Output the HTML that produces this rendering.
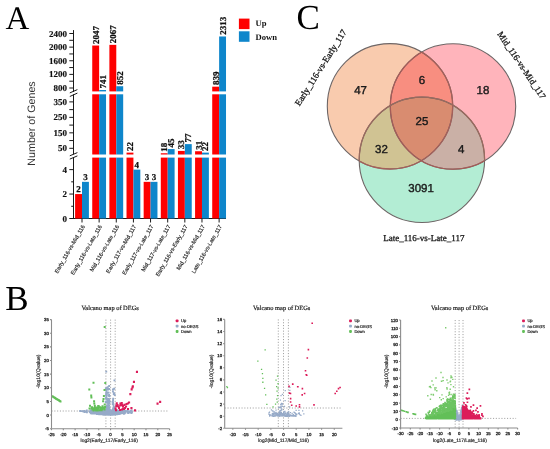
<!DOCTYPE html>
<html><head><meta charset="utf-8"><style>
html,body{margin:0;padding:0;background:#fff;}
body{width:550px;height:449px;overflow:hidden;}
svg{display:block;filter:blur(0.5px);}
text{text-rendering:geometricPrecision;}
</style></head><body>
<svg width="550" height="449" viewBox="0 0 550 449">
<rect width="550" height="449" fill="#fff"/>
<text x="5.6" y="28.6" font-family='"Liberation Serif", serif' font-size="33" fill="#000">A</text>
<g stroke="#1a1a1a" stroke-width="1" fill="none">
<line x1="73.5" y1="30.10" x2="73.5" y2="92"/>
<line x1="73.5" y1="94.3" x2="73.5" y2="154.4"/>
<line x1="73.5" y1="157.7" x2="73.5" y2="219"/>
<line x1="69.3" y1="33.50" x2="73.5" y2="33.50"/>
<line x1="69.3" y1="40.32" x2="73.5" y2="40.32"/>
<line x1="69.3" y1="47.13" x2="73.5" y2="47.13"/>
<line x1="69.3" y1="53.94" x2="73.5" y2="53.94"/>
<line x1="69.3" y1="60.75" x2="73.5" y2="60.75"/>
<line x1="69.3" y1="67.56" x2="73.5" y2="67.56"/>
<line x1="69.3" y1="74.38" x2="73.5" y2="74.38"/>
<line x1="69.3" y1="81.19" x2="73.5" y2="81.19"/>
<line x1="69.3" y1="88.00" x2="73.5" y2="88.00"/>
<line x1="69.3" y1="101.89" x2="73.5" y2="101.89"/>
<line x1="69.3" y1="109.62" x2="73.5" y2="109.62"/>
<line x1="69.3" y1="117.36" x2="73.5" y2="117.36"/>
<line x1="69.3" y1="125.10" x2="73.5" y2="125.10"/>
<line x1="69.3" y1="132.83" x2="73.5" y2="132.83"/>
<line x1="69.3" y1="140.56" x2="73.5" y2="140.56"/>
<line x1="69.3" y1="148.30" x2="73.5" y2="148.30"/>
<line x1="69.3" y1="169.62" x2="73.5" y2="169.62"/>
<line x1="71.2" y1="181.84" x2="73.5" y2="181.84"/>
<line x1="69.3" y1="194.06" x2="73.5" y2="194.06"/>
<line x1="71.2" y1="206.28" x2="73.5" y2="206.28"/>
<line x1="69.8" y1="92.9" x2="77.4" y2="89.6"/><line x1="69.8" y1="96.5" x2="77.4" y2="93.1"/>
<line x1="69.8" y1="155.8" x2="77.4" y2="152.6"/><line x1="69.8" y1="159.1" x2="77.4" y2="155.9"/>
<line x1="69.3" y1="218.5" x2="226" y2="218.5"/>
</g>
<g font-family='"Liberation Serif", serif' font-weight="bold" font-size="9" fill="#111" stroke="#111" stroke-width="0.15" text-anchor="end">
<text x="66.9" y="36.60">2400</text>
<text x="66.9" y="50.23">2000</text>
<text x="66.9" y="63.85">1600</text>
<text x="66.9" y="77.48">1200</text>
<text x="66.9" y="91.10">800</text>
<text x="66.9" y="104.99">350</text>
<text x="66.9" y="120.46">250</text>
<text x="66.9" y="135.93">150</text>
<text x="66.9" y="151.40">50</text>
<text x="66.9" y="172.72">4</text>
<text x="66.9" y="197.16">2</text>
<text x="66.9" y="221.60">0</text>
</g>
<text transform="translate(35.0,123.5) rotate(-90)" text-anchor="middle" font-family='"Liberation Sans", sans-serif' font-size="10.7" fill="#333">Number of Genes</text>
<rect x="75.10" y="194.06" width="6.9" height="24.44" fill="#fe0000"/>
<rect x="82.00" y="181.84" width="6.9" height="36.66" fill="#0e86cb"/>
<rect x="92.24" y="45.53" width="6.9" height="45.87" fill="#fe0000"/>
<rect x="92.24" y="94.30" width="6.9" height="60.20" fill="#fe0000"/>
<rect x="92.24" y="157.60" width="6.9" height="60.90" fill="#fe0000"/>
<rect x="99.14" y="90.01" width="6.9" height="1.39" fill="#0e86cb"/>
<rect x="99.14" y="94.30" width="6.9" height="60.20" fill="#0e86cb"/>
<rect x="99.14" y="157.60" width="6.9" height="60.90" fill="#0e86cb"/>
<rect x="109.38" y="44.85" width="6.9" height="46.55" fill="#fe0000"/>
<rect x="109.38" y="94.30" width="6.9" height="60.20" fill="#fe0000"/>
<rect x="109.38" y="157.60" width="6.9" height="60.90" fill="#fe0000"/>
<rect x="116.28" y="86.23" width="6.9" height="5.17" fill="#0e86cb"/>
<rect x="116.28" y="94.30" width="6.9" height="60.20" fill="#0e86cb"/>
<rect x="116.28" y="157.60" width="6.9" height="60.90" fill="#0e86cb"/>
<rect x="126.52" y="152.63" width="6.9" height="1.87" fill="#fe0000"/>
<rect x="126.52" y="157.60" width="6.9" height="60.90" fill="#fe0000"/>
<rect x="133.42" y="169.62" width="6.9" height="48.88" fill="#0e86cb"/>
<rect x="143.66" y="181.84" width="6.9" height="36.66" fill="#fe0000"/>
<rect x="150.56" y="181.84" width="6.9" height="36.66" fill="#0e86cb"/>
<rect x="160.80" y="153.25" width="6.9" height="1.25" fill="#fe0000"/>
<rect x="160.80" y="157.60" width="6.9" height="60.90" fill="#fe0000"/>
<rect x="167.70" y="149.07" width="6.9" height="5.43" fill="#0e86cb"/>
<rect x="167.70" y="157.60" width="6.9" height="60.90" fill="#0e86cb"/>
<rect x="177.94" y="150.93" width="6.9" height="3.57" fill="#fe0000"/>
<rect x="177.94" y="157.60" width="6.9" height="60.90" fill="#fe0000"/>
<rect x="184.84" y="144.12" width="6.9" height="10.38" fill="#0e86cb"/>
<rect x="184.84" y="157.60" width="6.9" height="60.90" fill="#0e86cb"/>
<rect x="195.08" y="151.24" width="6.9" height="3.26" fill="#fe0000"/>
<rect x="195.08" y="157.60" width="6.9" height="60.90" fill="#fe0000"/>
<rect x="201.98" y="152.63" width="6.9" height="1.87" fill="#0e86cb"/>
<rect x="201.98" y="157.60" width="6.9" height="60.90" fill="#0e86cb"/>
<rect x="212.22" y="86.67" width="6.9" height="4.73" fill="#fe0000"/>
<rect x="212.22" y="94.30" width="6.9" height="60.20" fill="#fe0000"/>
<rect x="212.22" y="157.60" width="6.9" height="60.90" fill="#fe0000"/>
<rect x="219.12" y="36.47" width="6.9" height="54.93" fill="#0e86cb"/>
<rect x="219.12" y="94.30" width="6.9" height="60.20" fill="#0e86cb"/>
<rect x="219.12" y="157.60" width="6.9" height="60.90" fill="#0e86cb"/>
<text x="78.55" y="192.26" text-anchor="middle" font-family='"Liberation Serif", serif' font-weight="bold" font-size="9" fill="#111" stroke="#111" stroke-width="0.25">2</text>
<text x="85.45" y="180.04" text-anchor="middle" font-family='"Liberation Serif", serif' font-weight="bold" font-size="9" fill="#111" stroke="#111" stroke-width="0.25">3</text>
<line x1="82.00" y1="218.5" x2="82.00" y2="222.5" stroke="#1a1a1a" stroke-width="1"/>
<text transform="translate(85.00,226.3) rotate(-60)" text-anchor="end" font-family='"Liberation Sans", sans-serif' font-size="5.55" fill="#222" stroke="#222" stroke-width="0.15">Early_116-vs-Mid_116</text>
<text transform="translate(98.69,43.93) rotate(-90)" font-family='"Liberation Serif", serif' font-weight="bold" font-size="9" fill="#111" stroke="#111" stroke-width="0.25">2047</text>
<text transform="translate(105.59,88.41) rotate(-90)" font-family='"Liberation Serif", serif' font-weight="bold" font-size="9" fill="#111" stroke="#111" stroke-width="0.25">741</text>
<line x1="99.14" y1="218.5" x2="99.14" y2="222.5" stroke="#1a1a1a" stroke-width="1"/>
<text transform="translate(102.14,226.3) rotate(-60)" text-anchor="end" font-family='"Liberation Sans", sans-serif' font-size="5.55" fill="#222" stroke="#222" stroke-width="0.15">Early_116-vs-Late_116</text>
<text transform="translate(115.83,43.25) rotate(-90)" font-family='"Liberation Serif", serif' font-weight="bold" font-size="9" fill="#111" stroke="#111" stroke-width="0.25">2067</text>
<text transform="translate(122.73,84.63) rotate(-90)" font-family='"Liberation Serif", serif' font-weight="bold" font-size="9" fill="#111" stroke="#111" stroke-width="0.25">852</text>
<line x1="116.28" y1="218.5" x2="116.28" y2="222.5" stroke="#1a1a1a" stroke-width="1"/>
<text transform="translate(119.28,226.3) rotate(-60)" text-anchor="end" font-family='"Liberation Sans", sans-serif' font-size="5.55" fill="#222" stroke="#222" stroke-width="0.15">Mid_116-vs-Late_116</text>
<text transform="translate(132.97,151.03) rotate(-90)" font-family='"Liberation Serif", serif' font-weight="bold" font-size="9" fill="#111" stroke="#111" stroke-width="0.25">22</text>
<text x="136.87" y="167.82" text-anchor="middle" font-family='"Liberation Serif", serif' font-weight="bold" font-size="9" fill="#111" stroke="#111" stroke-width="0.25">4</text>
<line x1="133.42" y1="218.5" x2="133.42" y2="222.5" stroke="#1a1a1a" stroke-width="1"/>
<text transform="translate(136.42,226.3) rotate(-60)" text-anchor="end" font-family='"Liberation Sans", sans-serif' font-size="5.55" fill="#222" stroke="#222" stroke-width="0.15">Early_117-vs-Mid_117</text>
<text x="147.11" y="180.04" text-anchor="middle" font-family='"Liberation Serif", serif' font-weight="bold" font-size="9" fill="#111" stroke="#111" stroke-width="0.25">3</text>
<text x="154.01" y="180.04" text-anchor="middle" font-family='"Liberation Serif", serif' font-weight="bold" font-size="9" fill="#111" stroke="#111" stroke-width="0.25">3</text>
<line x1="150.56" y1="218.5" x2="150.56" y2="222.5" stroke="#1a1a1a" stroke-width="1"/>
<text transform="translate(153.56,226.3) rotate(-60)" text-anchor="end" font-family='"Liberation Sans", sans-serif' font-size="5.55" fill="#222" stroke="#222" stroke-width="0.15">Early_117-vs-Late_117</text>
<text transform="translate(167.25,151.65) rotate(-90)" font-family='"Liberation Serif", serif' font-weight="bold" font-size="9" fill="#111" stroke="#111" stroke-width="0.25">18</text>
<text transform="translate(174.15,147.47) rotate(-90)" font-family='"Liberation Serif", serif' font-weight="bold" font-size="9" fill="#111" stroke="#111" stroke-width="0.25">45</text>
<line x1="167.70" y1="218.5" x2="167.70" y2="222.5" stroke="#1a1a1a" stroke-width="1"/>
<text transform="translate(170.70,226.3) rotate(-60)" text-anchor="end" font-family='"Liberation Sans", sans-serif' font-size="5.55" fill="#222" stroke="#222" stroke-width="0.15">Mid_117-vs-Late_117</text>
<text transform="translate(184.39,149.33) rotate(-90)" font-family='"Liberation Serif", serif' font-weight="bold" font-size="9" fill="#111" stroke="#111" stroke-width="0.25">33</text>
<text transform="translate(191.29,142.52) rotate(-90)" font-family='"Liberation Serif", serif' font-weight="bold" font-size="9" fill="#111" stroke="#111" stroke-width="0.25">77</text>
<line x1="184.84" y1="218.5" x2="184.84" y2="222.5" stroke="#1a1a1a" stroke-width="1"/>
<text transform="translate(187.84,226.3) rotate(-60)" text-anchor="end" font-family='"Liberation Sans", sans-serif' font-size="5.55" fill="#222" stroke="#222" stroke-width="0.15">Early_116-vs-Early_117</text>
<text transform="translate(201.53,149.64) rotate(-90)" font-family='"Liberation Serif", serif' font-weight="bold" font-size="9" fill="#111" stroke="#111" stroke-width="0.25">31</text>
<text transform="translate(208.43,151.03) rotate(-90)" font-family='"Liberation Serif", serif' font-weight="bold" font-size="9" fill="#111" stroke="#111" stroke-width="0.25">22</text>
<line x1="201.98" y1="218.5" x2="201.98" y2="222.5" stroke="#1a1a1a" stroke-width="1"/>
<text transform="translate(204.98,226.3) rotate(-60)" text-anchor="end" font-family='"Liberation Sans", sans-serif' font-size="5.55" fill="#222" stroke="#222" stroke-width="0.15">Mid_116-vs-Mid_117</text>
<text transform="translate(218.67,85.07) rotate(-90)" font-family='"Liberation Serif", serif' font-weight="bold" font-size="9" fill="#111" stroke="#111" stroke-width="0.25">839</text>
<text transform="translate(225.57,34.87) rotate(-90)" font-family='"Liberation Serif", serif' font-weight="bold" font-size="9" fill="#111" stroke="#111" stroke-width="0.25">2313</text>
<line x1="219.12" y1="218.5" x2="219.12" y2="222.5" stroke="#1a1a1a" stroke-width="1"/>
<text transform="translate(222.12,226.3) rotate(-60)" text-anchor="end" font-family='"Liberation Sans", sans-serif' font-size="5.55" fill="#222" stroke="#222" stroke-width="0.15">Late_116-vs-Late_117</text>
<rect x="238.9" y="18.6" width="10.6" height="10.5" fill="#fe0000"/>
<rect x="238.9" y="31.3" width="10.6" height="10.5" fill="#0e86cb"/>
<text x="255.6" y="26" font-family='"Liberation Serif", serif' font-weight="bold" font-size="8.6" fill="#111">Up</text>
<text x="255.6" y="39.6" font-family='"Liberation Serif", serif' font-weight="bold" font-size="8.6" fill="#111">Down</text>
<text x="296.6" y="28.6" font-family='"Liberation Serif", serif' font-size="35" fill="#000">C</text>
<defs><clipPath id="k1"><circle cx="390" cy="106.3" r="62.7"/></clipPath><clipPath id="k2"><circle cx="453" cy="106.5" r="62.7"/></clipPath><clipPath id="k3"><circle cx="421.9" cy="159.8" r="62.7"/></clipPath></defs>
<circle cx="390" cy="106.3" r="62.7" fill="#f9cbae" />
<circle cx="453" cy="106.5" r="62.7" fill="#ffb4bb" />
<circle cx="421.9" cy="159.8" r="62.7" fill="#b3edd4" />
<g clip-path="url(#k1)"><circle cx="453" cy="106.5" r="62.7" fill="#f88e80" /><circle cx="421.9" cy="159.8" r="62.7" fill="#d0c393" /></g>
<g clip-path="url(#k2)"><circle cx="421.9" cy="159.8" r="62.7" fill="#cab0a6" /></g>
<g clip-path="url(#k1)"><g clip-path="url(#k2)"><circle cx="421.9" cy="159.8" r="62.7" fill="#d98c70" /></g></g>
<g fill="none" stroke="#6e6666" stroke-width="1.1"><circle cx="390" cy="106.3" r="62.7" fill="none" /><circle cx="453" cy="106.5" r="62.7" fill="none" /><circle cx="421.9" cy="159.8" r="62.7" fill="none" /></g>
<defs><clipPath id="u23"><circle cx="453" cy="106.5" r="62.7"/><circle cx="421.9" cy="159.8" r="62.7"/></clipPath><clipPath id="u13"><circle cx="390" cy="106.3" r="62.7"/><circle cx="421.9" cy="159.8" r="62.7"/></clipPath><clipPath id="u12"><circle cx="390" cy="106.3" r="62.7"/><circle cx="453" cy="106.5" r="62.7"/></clipPath></defs>
<g fill="none" stroke-width="1.3">
<g clip-path="url(#u23)"><circle cx="390" cy="106.3" r="62.7" stroke="#a5605a"/></g>
<g clip-path="url(#u13)"><circle cx="453" cy="106.5" r="62.7" stroke="#a45c58"/></g>
<g clip-path="url(#u12)"><circle cx="421.9" cy="159.8" r="62.7" stroke="#9a6a5e"/></g>
</g>
<g font-family='"Liberation Sans", sans-serif' font-size="11.5" fill="#1a1a1a" stroke="#1a1a1a" stroke-width="0.4" text-anchor="middle">
<text x="360.6" y="94.4">47</text>
<text x="483" y="94.4">18</text>
<text x="422" y="83.6">6</text>
<text x="421.9" y="124.6">25</text>
<text x="381.4" y="152.7">32</text>
<text x="461.3" y="152.7">4</text>
<text x="421.1" y="191.8">3091</text>
</g>
<text transform="translate(299.5,106.5) rotate(-57.5)" font-family='"Liberation Serif", serif' font-size="9" fill="#1a1a1a" stroke="#1a1a1a" stroke-width="0.3">Early_116-vs-Early_117</text>
<text transform="translate(497,34) rotate(56)" font-family='"Liberation Serif", serif' font-size="9" fill="#1a1a1a" stroke="#1a1a1a" stroke-width="0.3">Mid_116-vs-Mid_117</text>
<text x="423.8" y="240.5" text-anchor="middle" font-family='"Liberation Serif", serif' font-size="9" fill="#1a1a1a" stroke="#1a1a1a" stroke-width="0.3">Late_116-vs-Late_117</text>
<text x="5.2" y="309.6" font-family='"Liberation Serif", serif' font-size="35" fill="#000">B</text>
<text x="110.1" y="310.0" text-anchor="middle" font-family='"Liberation Serif", serif' font-size="6.4" fill="#1a1a1a" stroke="#1a1a1a" stroke-width="0.18">Valcano map of DEGs</text>
<g stroke="#8c8c8c" stroke-width="0.8" stroke-dasharray="1.1,1.7">
<line x1="105.90" y1="319.60" x2="105.90" y2="428.70"/>
<line x1="110.60" y1="319.60" x2="110.60" y2="428.70"/>
<line x1="115.20" y1="319.60" x2="115.20" y2="428.70"/>
<line x1="51.50" y1="411.00" x2="168.50" y2="411.00"/>
</g>
<path fill="#96aac8" d="M97.4 413.0h1.9v1.9h-1.9zM112.6 411.4h1.9v1.9h-1.9zM96.4 410.0h1.9v1.9h-1.9zM108.4 411.6h1.9v1.9h-1.9zM97.5 409.6h1.9v1.9h-1.9zM96.8 410.4h1.9v1.9h-1.9zM123.6 411.7h1.9v1.9h-1.9zM118.4 409.4h1.9v1.9h-1.9zM106.3 412.3h1.9v1.9h-1.9zM104.9 409.3h1.9v1.9h-1.9zM105.4 411.7h1.9v1.9h-1.9zM114.8 410.3h1.9v1.9h-1.9zM111.3 409.4h1.9v1.9h-1.9zM99.1 412.7h1.9v1.9h-1.9zM111.4 411.6h1.9v1.9h-1.9zM101.9 412.2h1.9v1.9h-1.9zM100.4 411.2h1.9v1.9h-1.9zM103.2 413.8h1.9v1.9h-1.9zM117.1 410.6h1.9v1.9h-1.9zM96.5 410.1h1.9v1.9h-1.9zM108.2 412.8h1.9v1.9h-1.9zM112.6 411.1h1.9v1.9h-1.9zM114.4 413.5h1.9v1.9h-1.9zM101.3 412.9h1.9v1.9h-1.9zM115.6 413.1h1.9v1.9h-1.9zM109.1 411.4h1.9v1.9h-1.9zM118.5 409.5h1.9v1.9h-1.9zM107.9 412.1h1.9v1.9h-1.9zM110.4 409.7h1.9v1.9h-1.9zM101.6 410.7h1.9v1.9h-1.9zM124.6 409.7h1.9v1.9h-1.9zM105.5 410.4h1.9v1.9h-1.9zM111.7 412.9h1.9v1.9h-1.9zM111.0 410.1h1.9v1.9h-1.9zM99.4 410.0h1.9v1.9h-1.9zM105.3 412.6h1.9v1.9h-1.9zM118.3 409.7h1.9v1.9h-1.9zM119.1 410.9h1.9v1.9h-1.9zM110.8 413.7h1.9v1.9h-1.9zM116.4 412.6h1.9v1.9h-1.9zM102.5 410.2h1.9v1.9h-1.9zM127.7 410.5h1.9v1.9h-1.9zM117.4 409.7h1.9v1.9h-1.9zM98.3 413.3h1.9v1.9h-1.9zM110.7 412.8h1.9v1.9h-1.9zM116.2 410.6h1.9v1.9h-1.9zM108.0 409.7h1.9v1.9h-1.9zM112.6 411.9h1.9v1.9h-1.9zM109.6 411.0h1.9v1.9h-1.9zM121.9 410.9h1.9v1.9h-1.9zM119.6 411.5h1.9v1.9h-1.9zM106.3 413.2h1.9v1.9h-1.9zM111.3 413.4h1.9v1.9h-1.9zM114.1 412.9h1.9v1.9h-1.9zM109.1 412.7h1.9v1.9h-1.9zM115.2 413.3h1.9v1.9h-1.9zM116.7 412.9h1.9v1.9h-1.9zM131.0 411.0h1.9v1.9h-1.9zM105.1 409.4h1.9v1.9h-1.9zM111.2 413.7h1.9v1.9h-1.9zM110.1 410.4h1.9v1.9h-1.9zM123.8 412.2h1.9v1.9h-1.9zM102.5 410.0h1.9v1.9h-1.9zM104.5 412.6h1.9v1.9h-1.9zM115.3 411.7h1.9v1.9h-1.9zM111.9 413.2h1.9v1.9h-1.9zM103.2 413.4h1.9v1.9h-1.9zM104.0 410.2h1.9v1.9h-1.9zM116.5 411.1h1.9v1.9h-1.9zM109.8 409.5h1.9v1.9h-1.9zM113.1 411.8h1.9v1.9h-1.9zM117.2 409.8h1.9v1.9h-1.9zM96.1 413.1h1.9v1.9h-1.9zM124.3 411.5h1.9v1.9h-1.9zM104.5 409.9h1.9v1.9h-1.9zM97.3 409.4h1.9v1.9h-1.9zM129.8 411.4h1.9v1.9h-1.9zM111.4 413.7h1.9v1.9h-1.9zM122.4 411.0h1.9v1.9h-1.9zM110.8 412.6h1.9v1.9h-1.9zM93.8 409.5h1.9v1.9h-1.9zM94.2 412.6h1.9v1.9h-1.9zM104.6 412.6h1.9v1.9h-1.9zM104.2 413.5h1.9v1.9h-1.9zM92.9 410.5h1.9v1.9h-1.9zM101.0 413.0h1.9v1.9h-1.9zM90.3 410.7h1.9v1.9h-1.9zM113.8 411.8h1.9v1.9h-1.9zM90.7 411.4h1.9v1.9h-1.9zM99.8 411.8h1.9v1.9h-1.9zM117.5 409.6h1.9v1.9h-1.9zM89.8 412.2h1.9v1.9h-1.9zM86.0 411.4h1.9v1.9h-1.9zM97.2 411.6h1.9v1.9h-1.9zM119.0 411.0h1.9v1.9h-1.9zM111.1 412.7h1.9v1.9h-1.9zM105.7 409.4h1.9v1.9h-1.9zM100.3 410.2h1.9v1.9h-1.9zM102.6 412.4h1.9v1.9h-1.9zM95.9 412.8h1.9v1.9h-1.9zM109.3 410.4h1.9v1.9h-1.9zM117.1 412.1h1.9v1.9h-1.9zM109.6 410.2h1.9v1.9h-1.9zM119.0 411.9h1.9v1.9h-1.9zM127.1 410.7h1.9v1.9h-1.9zM115.6 412.1h1.9v1.9h-1.9zM103.7 410.2h1.9v1.9h-1.9zM93.4 412.6h1.9v1.9h-1.9zM116.3 413.0h1.9v1.9h-1.9zM99.7 410.6h1.9v1.9h-1.9zM117.4 409.8h1.9v1.9h-1.9zM91.0 412.2h1.9v1.9h-1.9zM109.5 412.5h1.9v1.9h-1.9zM116.3 410.0h1.9v1.9h-1.9zM106.7 411.3h1.9v1.9h-1.9zM108.0 411.2h1.9v1.9h-1.9zM115.6 411.9h1.9v1.9h-1.9zM100.8 412.9h1.9v1.9h-1.9zM109.4 413.8h1.9v1.9h-1.9zM105.5 409.4h1.9v1.9h-1.9zM110.2 413.3h1.9v1.9h-1.9zM123.5 411.3h1.9v1.9h-1.9zM112.9 410.6h1.9v1.9h-1.9zM109.5 409.9h1.9v1.9h-1.9zM107.2 411.3h1.9v1.9h-1.9zM126.7 410.0h1.9v1.9h-1.9zM111.8 409.9h1.9v1.9h-1.9zM121.9 410.9h1.9v1.9h-1.9zM112.9 412.1h1.9v1.9h-1.9zM99.4 413.3h1.9v1.9h-1.9zM94.8 411.8h1.9v1.9h-1.9zM112.4 410.1h1.9v1.9h-1.9zM119.3 409.3h1.9v1.9h-1.9zM94.2 409.9h1.9v1.9h-1.9zM111.7 410.5h1.9v1.9h-1.9zM100.7 411.5h1.9v1.9h-1.9zM121.2 411.6h1.9v1.9h-1.9zM109.4 412.9h1.9v1.9h-1.9zM99.6 413.1h1.9v1.9h-1.9zM127.9 411.5h1.9v1.9h-1.9zM120.5 409.7h1.9v1.9h-1.9zM96.3 412.8h1.9v1.9h-1.9zM112.9 411.0h1.9v1.9h-1.9zM91.3 412.0h1.9v1.9h-1.9zM100.9 413.3h1.9v1.9h-1.9zM95.6 410.0h1.9v1.9h-1.9zM112.2 412.6h1.9v1.9h-1.9zM114.7 412.4h1.9v1.9h-1.9zM96.7 410.1h1.9v1.9h-1.9zM130.6 412.1h1.9v1.9h-1.9zM93.4 411.2h1.9v1.9h-1.9zM111.2 413.4h1.9v1.9h-1.9zM101.0 412.9h1.9v1.9h-1.9zM106.8 411.3h1.9v1.9h-1.9zM112.3 411.8h1.9v1.9h-1.9zM110.3 409.4h1.9v1.9h-1.9zM98.1 412.5h1.9v1.9h-1.9zM124.7 409.8h1.9v1.9h-1.9zM115.7 410.7h1.9v1.9h-1.9zM110.3 409.9h1.9v1.9h-1.9zM104.0 411.6h1.9v1.9h-1.9zM106.0 412.4h1.9v1.9h-1.9zM91.1 412.5h1.9v1.9h-1.9zM85.9 409.5h1.9v1.9h-1.9zM110.1 410.3h1.9v1.9h-1.9zM101.3 412.4h1.9v1.9h-1.9zM107.7 412.2h1.9v1.9h-1.9zM90.9 411.2h1.9v1.9h-1.9zM106.4 410.7h1.9v1.9h-1.9zM95.6 412.7h1.9v1.9h-1.9zM121.5 410.0h1.9v1.9h-1.9zM123.8 411.1h1.9v1.9h-1.9zM88.9 411.1h1.9v1.9h-1.9zM112.6 411.5h1.9v1.9h-1.9zM120.3 411.6h1.9v1.9h-1.9zM113.4 411.6h1.9v1.9h-1.9zM95.2 411.4h1.9v1.9h-1.9zM119.0 411.2h1.9v1.9h-1.9zM107.8 411.7h1.9v1.9h-1.9zM105.8 411.2h1.9v1.9h-1.9zM129.8 410.1h1.9v1.9h-1.9zM103.3 411.4h1.9v1.9h-1.9zM116.1 412.7h1.9v1.9h-1.9zM116.3 413.0h1.9v1.9h-1.9zM100.8 410.1h1.9v1.9h-1.9zM110.3 412.1h1.9v1.9h-1.9zM113.5 412.7h1.9v1.9h-1.9zM106.8 409.4h1.9v1.9h-1.9zM111.4 412.4h1.9v1.9h-1.9zM115.5 410.6h1.9v1.9h-1.9zM100.9 409.7h1.9v1.9h-1.9zM119.5 412.1h1.9v1.9h-1.9zM117.2 410.3h1.9v1.9h-1.9zM117.0 410.1h1.9v1.9h-1.9zM99.1 410.8h1.9v1.9h-1.9zM107.1 411.2h1.9v1.9h-1.9zM103.5 410.2h1.9v1.9h-1.9zM108.0 412.2h1.9v1.9h-1.9zM101.5 413.0h1.9v1.9h-1.9zM100.1 411.8h1.9v1.9h-1.9zM113.3 412.6h1.9v1.9h-1.9zM103.6 412.9h1.9v1.9h-1.9zM115.8 410.6h1.9v1.9h-1.9zM104.3 413.5h1.9v1.9h-1.9zM115.8 413.0h1.9v1.9h-1.9zM113.7 412.5h1.9v1.9h-1.9zM114.3 410.4h1.9v1.9h-1.9zM123.8 410.7h1.9v1.9h-1.9zM119.3 412.4h1.9v1.9h-1.9zM115.8 412.2h1.9v1.9h-1.9zM115.9 409.3h1.9v1.9h-1.9zM113.4 413.3h1.9v1.9h-1.9zM122.8 412.8h1.9v1.9h-1.9zM117.5 412.4h1.9v1.9h-1.9zM116.5 411.4h1.9v1.9h-1.9zM106.6 409.6h1.9v1.9h-1.9zM103.4 409.7h1.9v1.9h-1.9zM120.8 411.2h1.9v1.9h-1.9zM111.9 411.9h1.9v1.9h-1.9zM112.7 410.2h1.9v1.9h-1.9zM113.9 413.0h1.9v1.9h-1.9zM130.7 409.5h1.9v1.9h-1.9zM107.7 409.5h1.9v1.9h-1.9zM119.1 412.3h1.9v1.9h-1.9zM105.9 410.8h1.9v1.9h-1.9zM97.9 411.0h1.9v1.9h-1.9zM111.4 412.0h1.9v1.9h-1.9zM123.8 412.2h1.9v1.9h-1.9zM110.3 410.1h1.9v1.9h-1.9zM94.1 410.8h1.9v1.9h-1.9zM113.5 410.1h1.9v1.9h-1.9zM114.8 409.3h1.9v1.9h-1.9zM118.9 412.8h1.9v1.9h-1.9zM113.8 413.1h1.9v1.9h-1.9zM95.0 411.6h1.9v1.9h-1.9zM98.4 411.3h1.9v1.9h-1.9zM116.3 413.4h1.9v1.9h-1.9zM111.5 413.4h1.9v1.9h-1.9zM102.1 412.5h1.9v1.9h-1.9zM112.1 411.1h1.9v1.9h-1.9zM91.9 412.4h1.9v1.9h-1.9zM119.7 412.3h1.9v1.9h-1.9zM99.0 412.4h1.9v1.9h-1.9zM96.4 409.5h1.9v1.9h-1.9zM117.5 410.7h1.9v1.9h-1.9zM107.7 410.9h1.9v1.9h-1.9zM109.3 412.2h1.9v1.9h-1.9zM104.1 413.6h1.9v1.9h-1.9zM104.2 412.3h1.9v1.9h-1.9zM101.7 411.8h1.9v1.9h-1.9zM120.9 411.3h1.9v1.9h-1.9zM99.8 412.5h1.9v1.9h-1.9zM97.5 413.2h1.9v1.9h-1.9zM122.0 412.0h1.9v1.9h-1.9zM110.9 410.4h1.9v1.9h-1.9zM106.6 410.1h1.9v1.9h-1.9zM110.8 411.0h1.9v1.9h-1.9zM114.9 413.2h1.9v1.9h-1.9zM113.2 411.7h1.9v1.9h-1.9zM84.3 410.9h1.9v1.9h-1.9zM107.8 413.8h1.9v1.9h-1.9zM97.9 409.6h1.9v1.9h-1.9zM95.9 411.6h1.9v1.9h-1.9zM109.2 413.5h1.9v1.9h-1.9zM106.2 410.0h1.9v1.9h-1.9zM103.4 411.5h1.9v1.9h-1.9zM110.1 412.1h1.9v1.9h-1.9zM130.4 410.5h1.9v1.9h-1.9zM117.3 411.4h1.9v1.9h-1.9zM101.6 410.5h1.9v1.9h-1.9zM103.8 412.3h1.9v1.9h-1.9zM101.8 412.4h1.9v1.9h-1.9zM106.2 410.6h1.9v1.9h-1.9zM116.1 409.4h1.9v1.9h-1.9zM109.7 410.0h1.9v1.9h-1.9zM109.3 413.4h1.9v1.9h-1.9zM99.6 412.4h1.9v1.9h-1.9zM117.9 413.1h1.9v1.9h-1.9zM127.5 410.6h1.9v1.9h-1.9zM118.2 411.2h1.9v1.9h-1.9zM116.0 411.5h1.9v1.9h-1.9zM107.9 413.6h1.9v1.9h-1.9zM107.2 413.8h1.9v1.9h-1.9zM98.5 412.6h1.9v1.9h-1.9zM105.3 412.1h1.9v1.9h-1.9zM106.2 411.3h1.9v1.9h-1.9zM109.9 411.7h1.9v1.9h-1.9zM112.0 409.8h1.9v1.9h-1.9zM95.8 411.0h1.9v1.9h-1.9zM114.0 410.4h1.9v1.9h-1.9zM100.4 412.6h1.9v1.9h-1.9zM104.2 411.7h1.9v1.9h-1.9zM108.7 412.6h1.9v1.9h-1.9zM109.4 413.4h1.9v1.9h-1.9zM113.7 412.7h1.9v1.9h-1.9zM102.7 410.5h1.9v1.9h-1.9zM102.7 412.3h1.9v1.9h-1.9zM97.4 411.8h1.9v1.9h-1.9zM104.0 412.7h1.9v1.9h-1.9zM111.7 413.8h1.9v1.9h-1.9zM115.7 413.2h1.9v1.9h-1.9zM111.0 409.5h1.9v1.9h-1.9zM107.2 410.5h1.9v1.9h-1.9zM97.2 409.7h1.9v1.9h-1.9zM115.1 411.6h1.9v1.9h-1.9zM112.7 412.3h1.9v1.9h-1.9zM110.8 411.8h1.9v1.9h-1.9zM102.8 411.4h1.9v1.9h-1.9zM102.3 410.2h1.9v1.9h-1.9zM100.3 412.8h1.9v1.9h-1.9zM122.1 409.5h1.9v1.9h-1.9zM121.7 411.6h1.9v1.9h-1.9zM120.9 412.2h1.9v1.9h-1.9zM111.3 410.4h1.9v1.9h-1.9zM118.8 412.5h1.9v1.9h-1.9zM99.6 413.4h1.9v1.9h-1.9zM119.2 410.5h1.9v1.9h-1.9zM94.0 412.7h1.9v1.9h-1.9zM104.3 411.2h1.9v1.9h-1.9zM106.1 413.3h1.9v1.9h-1.9zM112.2 409.6h1.9v1.9h-1.9zM119.7 411.1h1.9v1.9h-1.9zM115.2 412.2h1.9v1.9h-1.9zM104.1 409.6h1.9v1.9h-1.9zM124.7 410.0h1.9v1.9h-1.9zM107.0 410.6h1.9v1.9h-1.9zM105.7 412.6h1.9v1.9h-1.9zM106.4 409.9h1.9v1.9h-1.9zM101.8 410.8h1.9v1.9h-1.9zM107.7 409.8h1.9v1.9h-1.9zM100.1 412.3h1.9v1.9h-1.9zM89.8 412.4h1.9v1.9h-1.9zM100.1 413.1h1.9v1.9h-1.9zM93.2 410.4h1.9v1.9h-1.9zM115.6 410.6h1.9v1.9h-1.9zM91.1 412.3h1.9v1.9h-1.9zM122.1 410.2h1.9v1.9h-1.9zM103.2 410.9h1.9v1.9h-1.9zM116.0 410.9h1.9v1.9h-1.9zM104.3 411.8h1.9v1.9h-1.9zM113.1 412.8h1.9v1.9h-1.9zM91.6 411.2h1.9v1.9h-1.9zM104.5 410.1h1.9v1.9h-1.9zM110.2 410.5h1.9v1.9h-1.9zM89.5 409.3h1.9v1.9h-1.9zM97.2 411.5h1.9v1.9h-1.9zM107.9 413.7h1.9v1.9h-1.9zM99.1 409.5h1.9v1.9h-1.9zM95.1 411.3h1.9v1.9h-1.9zM110.0 409.6h1.9v1.9h-1.9zM105.2 412.6h1.9v1.9h-1.9zM112.3 412.2h1.9v1.9h-1.9zM106.7 409.9h1.9v1.9h-1.9zM108.7 410.4h1.9v1.9h-1.9zM95.3 410.1h1.9v1.9h-1.9zM110.2 412.8h1.9v1.9h-1.9zM97.6 410.8h1.9v1.9h-1.9zM96.0 411.9h1.9v1.9h-1.9zM130.3 410.7h1.9v1.9h-1.9zM94.3 411.9h1.9v1.9h-1.9zM105.5 413.5h1.9v1.9h-1.9zM94.0 411.7h1.9v1.9h-1.9zM118.5 412.7h1.9v1.9h-1.9zM115.2 413.1h1.9v1.9h-1.9zM92.2 412.6h1.9v1.9h-1.9zM101.7 412.4h1.9v1.9h-1.9zM100.1 412.7h1.9v1.9h-1.9zM100.3 409.9h1.9v1.9h-1.9zM113.7 412.5h1.9v1.9h-1.9zM118.3 409.9h1.9v1.9h-1.9zM108.5 410.2h1.9v1.9h-1.9zM102.0 413.5h1.9v1.9h-1.9zM112.6 409.5h1.9v1.9h-1.9zM107.4 412.2h1.9v1.9h-1.9zM113.4 412.7h1.9v1.9h-1.9zM110.5 411.4h1.9v1.9h-1.9zM112.1 411.9h1.9v1.9h-1.9zM111.2 409.7h1.9v1.9h-1.9zM107.7 410.1h1.9v1.9h-1.9zM110.5 412.5h1.9v1.9h-1.9zM115.9 411.8h1.9v1.9h-1.9zM110.0 410.5h1.9v1.9h-1.9zM115.0 410.0h1.9v1.9h-1.9zM109.4 411.8h1.9v1.9h-1.9zM100.8 412.8h1.9v1.9h-1.9zM101.7 413.1h1.9v1.9h-1.9zM110.0 413.5h1.9v1.9h-1.9zM102.5 413.5h1.9v1.9h-1.9zM119.1 411.2h1.9v1.9h-1.9zM109.6 413.6h1.9v1.9h-1.9zM112.0 412.9h1.9v1.9h-1.9zM100.3 411.4h1.9v1.9h-1.9zM116.7 410.4h1.9v1.9h-1.9zM122.9 410.1h1.9v1.9h-1.9zM108.2 409.3h1.9v1.9h-1.9zM100.0 412.6h1.9v1.9h-1.9zM110.6 412.5h1.9v1.9h-1.9zM104.7 410.0h1.9v1.9h-1.9zM105.6 410.7h1.9v1.9h-1.9zM107.9 411.6h1.9v1.9h-1.9zM128.2 411.3h1.9v1.9h-1.9zM116.5 411.5h1.9v1.9h-1.9zM108.7 409.9h1.9v1.9h-1.9zM109.1 413.0h1.9v1.9h-1.9zM108.6 413.1h1.9v1.9h-1.9zM110.8 410.5h1.9v1.9h-1.9zM105.5 412.5h1.9v1.9h-1.9zM118.0 411.2h1.9v1.9h-1.9zM115.3 413.4h1.9v1.9h-1.9zM93.0 410.3h1.9v1.9h-1.9zM99.3 412.5h1.9v1.9h-1.9zM90.7 409.6h1.9v1.9h-1.9zM119.6 412.5h1.9v1.9h-1.9zM112.1 411.7h1.9v1.9h-1.9zM120.5 409.9h1.9v1.9h-1.9zM113.1 410.7h1.9v1.9h-1.9zM101.9 409.6h1.9v1.9h-1.9zM105.4 412.5h1.9v1.9h-1.9zM119.1 410.7h1.9v1.9h-1.9zM107.3 411.1h1.9v1.9h-1.9zM104.9 411.4h1.9v1.9h-1.9zM126.5 411.4h1.9v1.9h-1.9zM105.4 409.3h1.9v1.9h-1.9zM98.3 410.2h1.9v1.9h-1.9zM119.5 411.5h1.9v1.9h-1.9zM107.7 413.8h1.9v1.9h-1.9zM109.4 412.9h1.9v1.9h-1.9zM112.6 410.6h1.9v1.9h-1.9zM121.7 410.7h1.9v1.9h-1.9zM101.3 410.7h1.9v1.9h-1.9zM107.1 411.1h1.9v1.9h-1.9zM105.4 410.2h1.9v1.9h-1.9zM102.7 412.5h1.9v1.9h-1.9zM98.1 411.5h1.9v1.9h-1.9zM129.1 411.5h1.9v1.9h-1.9zM100.3 409.6h1.9v1.9h-1.9zM124.6 409.7h1.9v1.9h-1.9zM120.9 411.9h1.9v1.9h-1.9zM117.0 410.0h1.9v1.9h-1.9zM94.3 411.5h1.9v1.9h-1.9zM119.5 409.6h1.9v1.9h-1.9zM109.9 409.8h1.9v1.9h-1.9zM114.5 411.0h1.9v1.9h-1.9zM128.2 410.6h1.9v1.9h-1.9zM118.5 411.3h1.9v1.9h-1.9zM99.3 412.7h1.9v1.9h-1.9zM96.1 410.7h1.9v1.9h-1.9zM104.3 409.3h1.9v1.9h-1.9zM117.6 410.9h1.9v1.9h-1.9zM100.7 412.6h1.9v1.9h-1.9zM83.5 411.1h1.9v1.9h-1.9zM107.6 410.8h1.9v1.9h-1.9zM107.9 410.8h1.9v1.9h-1.9zM106.4 411.0h1.9v1.9h-1.9zM105.4 411.6h1.9v1.9h-1.9zM113.3 412.0h1.9v1.9h-1.9zM91.8 409.8h1.9v1.9h-1.9zM111.2 411.8h1.9v1.9h-1.9zM88.6 410.4h1.9v1.9h-1.9zM103.8 412.5h1.9v1.9h-1.9zM109.0 413.8h1.9v1.9h-1.9zM94.1 412.3h1.9v1.9h-1.9zM107.5 410.2h1.9v1.9h-1.9zM121.6 410.0h1.9v1.9h-1.9zM104.5 409.6h1.9v1.9h-1.9zM109.5 412.5h1.9v1.9h-1.9zM121.5 410.5h1.9v1.9h-1.9zM117.2 411.2h1.9v1.9h-1.9zM105.2 409.8h1.9v1.9h-1.9zM114.1 413.2h1.9v1.9h-1.9zM108.2 411.7h1.9v1.9h-1.9zM97.7 410.3h1.9v1.9h-1.9zM104.5 413.4h1.9v1.9h-1.9zM126.6 411.2h1.9v1.9h-1.9zM108.2 409.8h1.9v1.9h-1.9zM112.6 413.3h1.9v1.9h-1.9zM102.1 410.3h1.9v1.9h-1.9zM93.0 409.9h1.9v1.9h-1.9zM101.1 411.6h1.9v1.9h-1.9zM111.2 410.1h1.9v1.9h-1.9zM110.2 413.8h1.9v1.9h-1.9zM122.0 410.4h1.9v1.9h-1.9zM103.9 412.3h1.9v1.9h-1.9zM108.3 412.0h1.9v1.9h-1.9zM99.8 412.6h1.9v1.9h-1.9zM115.4 411.3h1.9v1.9h-1.9zM109.7 409.9h1.9v1.9h-1.9zM99.7 410.0h1.9v1.9h-1.9zM117.1 411.4h1.9v1.9h-1.9zM108.0 410.8h1.9v1.9h-1.9zM121.3 411.7h1.9v1.9h-1.9zM122.8 409.8h1.9v1.9h-1.9zM112.4 413.6h1.9v1.9h-1.9zM100.4 411.0h1.9v1.9h-1.9zM102.8 412.0h1.9v1.9h-1.9zM103.1 412.6h1.9v1.9h-1.9zM94.2 411.1h1.9v1.9h-1.9zM127.2 412.0h1.9v1.9h-1.9zM108.4 411.1h1.9v1.9h-1.9zM97.8 412.9h1.9v1.9h-1.9zM114.0 411.6h1.9v1.9h-1.9zM99.1 413.0h1.9v1.9h-1.9zM107.5 410.7h1.9v1.9h-1.9zM123.4 412.5h1.9v1.9h-1.9zM114.2 412.5h1.9v1.9h-1.9zM96.1 410.4h1.9v1.9h-1.9zM99.9 411.8h1.9v1.9h-1.9zM113.5 411.2h1.9v1.9h-1.9zM111.1 411.6h1.9v1.9h-1.9zM106.6 412.4h1.9v1.9h-1.9zM110.9 411.7h1.9v1.9h-1.9zM79.2 410.1h1.9v1.9h-1.9zM80.5 410.2h1.9v1.9h-1.9zM82.0 410.3h1.9v1.9h-1.9zM83.5 410.1h1.9v1.9h-1.9zM104.9 387.6h1.9v1.9h-1.9zM108.5 395.4h1.9v1.9h-1.9zM108.1 402.1h1.9v1.9h-1.9zM107.9 406.5h1.9v1.9h-1.9zM107.6 398.3h1.9v1.9h-1.9zM108.3 408.6h1.9v1.9h-1.9zM107.8 408.2h1.9v1.9h-1.9zM106.8 386.2h1.9v1.9h-1.9zM104.7 406.1h1.9v1.9h-1.9zM105.8 404.4h1.9v1.9h-1.9zM104.9 388.1h1.9v1.9h-1.9zM107.9 402.7h1.9v1.9h-1.9zM106.1 397.7h1.9v1.9h-1.9zM104.8 409.4h1.9v1.9h-1.9zM108.2 404.7h1.9v1.9h-1.9zM106.6 386.8h1.9v1.9h-1.9zM108.6 400.8h1.9v1.9h-1.9zM105.5 405.0h1.9v1.9h-1.9zM108.3 388.1h1.9v1.9h-1.9zM105.4 390.0h1.9v1.9h-1.9zM106.1 400.8h1.9v1.9h-1.9zM105.3 388.7h1.9v1.9h-1.9zM108.6 406.9h1.9v1.9h-1.9zM107.2 407.1h1.9v1.9h-1.9zM108.2 409.2h1.9v1.9h-1.9zM105.1 393.6h1.9v1.9h-1.9zM105.9 388.0h1.9v1.9h-1.9zM108.1 394.0h1.9v1.9h-1.9zM105.2 394.5h1.9v1.9h-1.9zM108.4 401.5h1.9v1.9h-1.9zM105.0 406.5h1.9v1.9h-1.9zM105.9 394.1h1.9v1.9h-1.9zM105.4 407.3h1.9v1.9h-1.9zM105.6 395.4h1.9v1.9h-1.9zM107.8 403.3h1.9v1.9h-1.9zM107.3 388.5h1.9v1.9h-1.9zM107.0 406.4h1.9v1.9h-1.9zM105.9 387.1h1.9v1.9h-1.9zM107.3 405.4h1.9v1.9h-1.9zM107.2 408.7h1.9v1.9h-1.9zM108.6 401.6h1.9v1.9h-1.9zM106.8 399.2h1.9v1.9h-1.9zM104.8 397.3h1.9v1.9h-1.9zM105.8 405.9h1.9v1.9h-1.9zM107.9 408.7h1.9v1.9h-1.9zM105.8 392.7h1.9v1.9h-1.9zM105.6 405.4h1.9v1.9h-1.9zM106.8 407.2h1.9v1.9h-1.9zM108.2 385.0h1.9v1.9h-1.9zM104.8 401.1h1.9v1.9h-1.9zM107.7 403.0h1.9v1.9h-1.9zM108.4 400.1h1.9v1.9h-1.9zM105.4 398.6h1.9v1.9h-1.9zM107.2 403.6h1.9v1.9h-1.9zM107.3 391.8h1.9v1.9h-1.9zM106.7 399.9h1.9v1.9h-1.9zM108.0 394.9h1.9v1.9h-1.9zM106.7 386.2h1.9v1.9h-1.9zM105.3 391.9h1.9v1.9h-1.9zM105.3 397.1h1.9v1.9h-1.9zM105.6 401.6h1.9v1.9h-1.9zM107.7 391.7h1.9v1.9h-1.9zM107.8 406.2h1.9v1.9h-1.9zM106.6 406.5h1.9v1.9h-1.9zM107.0 400.1h1.9v1.9h-1.9zM104.8 397.4h1.9v1.9h-1.9zM107.5 398.1h1.9v1.9h-1.9zM108.1 407.3h1.9v1.9h-1.9zM105.3 409.5h1.9v1.9h-1.9zM106.6 401.8h1.9v1.9h-1.9zM106.4 405.7h1.9v1.9h-1.9zM107.8 408.9h1.9v1.9h-1.9zM108.3 398.2h1.9v1.9h-1.9zM106.8 391.5h1.9v1.9h-1.9zM105.6 407.9h1.9v1.9h-1.9zM112.2 409.2h1.9v1.9h-1.9zM112.2 397.7h1.9v1.9h-1.9zM112.7 405.6h1.9v1.9h-1.9zM112.9 408.6h1.9v1.9h-1.9zM113.4 407.3h1.9v1.9h-1.9zM112.1 407.5h1.9v1.9h-1.9zM113.1 392.3h1.9v1.9h-1.9zM113.3 409.0h1.9v1.9h-1.9zM112.4 403.6h1.9v1.9h-1.9zM112.0 388.4h1.9v1.9h-1.9zM111.6 400.9h1.9v1.9h-1.9zM113.3 387.9h1.9v1.9h-1.9zM111.8 401.6h1.9v1.9h-1.9zM113.2 409.2h1.9v1.9h-1.9zM112.0 390.6h1.9v1.9h-1.9zM111.8 403.0h1.9v1.9h-1.9zM112.2 402.3h1.9v1.9h-1.9zM111.6 409.3h1.9v1.9h-1.9zM113.8 394.1h1.9v1.9h-1.9zM113.2 406.3h1.9v1.9h-1.9zM112.1 399.4h1.9v1.9h-1.9zM112.0 401.5h1.9v1.9h-1.9zM105.3 370.7h1.9v1.9h-1.9zM113.5 379.4h1.9v1.9h-1.9zM113.2 387.7h1.9v1.9h-1.9zM112.8 393.2h1.9v1.9h-1.9z"/>
<path fill="#62bf58" d="M92.5 381.7h2.0v2.0h-2.0zM88.3 388.4h2.0v2.0h-2.0zM90.2 394.6h2.0v2.0h-2.0zM90.4 396.5h2.0v2.0h-2.0zM93.1 400.3h2.0v2.0h-2.0zM93.3 402.5h2.0v2.0h-2.0zM89.0 404.7h2.0v2.0h-2.0zM88.5 407.5h2.0v2.0h-2.0zM104.3 382.1h2.0v2.0h-2.0zM102.9 395.1h2.0v2.0h-2.0zM102.1 400.3h2.0v2.0h-2.0zM93.8 404.8h2.0v2.0h-2.0zM103.7 325.9h2.0v2.0h-2.0zM103.5 389.0h2.0v2.0h-2.0zM102.5 398.0h2.0v2.0h-2.0zM103.6 407.4h2.0v2.0h-2.0zM95.2 409.5h2.0v2.0h-2.0zM99.1 406.3h2.0v2.0h-2.0zM96.1 408.4h2.0v2.0h-2.0zM91.2 407.4h2.0v2.0h-2.0zM100.3 409.1h2.0v2.0h-2.0zM98.8 409.2h2.0v2.0h-2.0zM97.0 407.5h2.0v2.0h-2.0zM102.4 407.5h2.0v2.0h-2.0zM101.5 406.9h2.0v2.0h-2.0zM95.3 406.8h2.0v2.0h-2.0zM98.2 406.8h2.0v2.0h-2.0zM93.3 406.9h2.0v2.0h-2.0zM97.0 407.2h2.0v2.0h-2.0zM96.7 409.6h2.0v2.0h-2.0zM100.0 409.1h2.0v2.0h-2.0zM93.3 407.5h2.0v2.0h-2.0zM91.4 408.6h2.0v2.0h-2.0zM95.6 407.1h2.0v2.0h-2.0zM90.7 406.8h2.0v2.0h-2.0zM94.1 407.5h2.0v2.0h-2.0zM103.5 408.6h2.0v2.0h-2.0zM94.2 407.4h2.0v2.0h-2.0zM92.6 409.4h2.0v2.0h-2.0zM95.5 408.8h2.0v2.0h-2.0zM100.7 409.3h2.0v2.0h-2.0zM90.7 407.3h2.0v2.0h-2.0zM95.9 406.5h2.0v2.0h-2.0zM102.9 407.3h2.0v2.0h-2.0zM101.3 408.0h2.0v2.0h-2.0zM91.2 407.5h2.0v2.0h-2.0zM93.8 406.3h2.0v2.0h-2.0zM92.5 408.2h2.0v2.0h-2.0zM90.9 407.3h2.0v2.0h-2.0zM96.4 408.0h2.0v2.0h-2.0zM92.3 408.6h2.0v2.0h-2.0zM94.1 408.7h2.0v2.0h-2.0zM99.9 406.7h2.0v2.0h-2.0zM93.3 407.2h2.0v2.0h-2.0zM100.5 407.6h2.0v2.0h-2.0zM95.9 409.1h2.0v2.0h-2.0zM93.6 407.2h2.0v2.0h-2.0zM95.3 406.9h2.0v2.0h-2.0zM91.0 406.3h2.0v2.0h-2.0zM99.4 408.1h2.0v2.0h-2.0zM102.7 406.4h2.0v2.0h-2.0zM97.8 405.2h2.0v2.0h-2.0zM103.7 403.4h2.0v2.0h-2.0zM101.5 405.2h2.0v2.0h-2.0zM104.1 406.0h2.0v2.0h-2.0zM97.2 405.0h2.0v2.0h-2.0zM51.4 395.3h2.0v2.0h-2.0zM52.1 395.7h2.0v2.0h-2.0zM52.8 396.2h2.0v2.0h-2.0zM53.4 396.6h2.0v2.0h-2.0zM54.1 397.0h2.0v2.0h-2.0zM54.8 397.4h2.0v2.0h-2.0zM55.4 397.9h2.0v2.0h-2.0zM56.1 398.3h2.0v2.0h-2.0zM56.8 398.7h2.0v2.0h-2.0zM57.5 399.1h2.0v2.0h-2.0zM58.1 399.6h2.0v2.0h-2.0zM58.8 400.0h2.0v2.0h-2.0zM59.5 400.4h2.0v2.0h-2.0z"/>
<path fill="#dc1c5a" d="M135.9 370.8h2.1v2.1h-2.1zM132.9 380.8h2.1v2.1h-2.1zM131.8 385.3h2.1v2.1h-2.1zM131.4 386.4h2.1v2.1h-2.1zM130.6 388.3h2.1v2.1h-2.1zM129.3 393.1h2.1v2.1h-2.1zM130.4 407.1h2.1v2.1h-2.1zM134.0 409.3h2.1v2.1h-2.1zM156.5 402.6h2.1v2.1h-2.1zM159.1 400.8h2.1v2.1h-2.1zM115.7 402.2h2.1v2.1h-2.1zM116.5 403.9h2.1v2.1h-2.1zM120.7 401.9h2.1v2.1h-2.1zM122.0 404.9h2.1v2.1h-2.1zM125.5 402.9h2.1v2.1h-2.1zM126.8 402.4h2.1v2.1h-2.1zM125.0 405.4h2.1v2.1h-2.1zM123.0 407.9h2.1v2.1h-2.1zM118.0 406.9h2.1v2.1h-2.1zM114.5 407.4h2.1v2.1h-2.1zM119.0 408.9h2.1v2.1h-2.1zM127.0 407.9h2.1v2.1h-2.1zM128.0 401.4h2.1v2.1h-2.1zM117.5 405.4h2.1v2.1h-2.1zM124.0 406.9h2.1v2.1h-2.1zM121.0 408.4h2.1v2.1h-2.1zM115.0 409.2h2.1v2.1h-2.1zM115.2 405.2h2.1v2.1h-2.1zM119.4 402.4h2.1v2.1h-2.1zM119.3 404.4h2.1v2.1h-2.1zM120.9 404.1h2.1v2.1h-2.1zM116.2 405.0h2.1v2.1h-2.1zM120.6 403.2h2.1v2.1h-2.1zM123.3 403.8h2.1v2.1h-2.1zM115.3 404.5h2.1v2.1h-2.1zM119.9 403.1h2.1v2.1h-2.1zM122.1 407.3h2.1v2.1h-2.1z"/>
<g stroke="#8c8c8c" stroke-width="1.1" fill="none">
<line x1="51.50" y1="319.60" x2="51.50" y2="428.70"/>
<line x1="51.50" y1="428.70" x2="169.60" y2="428.70"/>
<line x1="50.00" y1="428.70" x2="51.50" y2="428.70"/>
<line x1="50.00" y1="415.06" x2="51.50" y2="415.06"/>
<line x1="50.00" y1="401.43" x2="51.50" y2="401.43"/>
<line x1="50.00" y1="387.79" x2="51.50" y2="387.79"/>
<line x1="50.00" y1="374.15" x2="51.50" y2="374.15"/>
<line x1="50.00" y1="360.51" x2="51.50" y2="360.51"/>
<line x1="50.00" y1="346.88" x2="51.50" y2="346.88"/>
<line x1="50.00" y1="333.24" x2="51.50" y2="333.24"/>
<line x1="50.00" y1="319.60" x2="51.50" y2="319.60"/>
<line x1="51.50" y1="428.70" x2="51.50" y2="430.20"/>
<line x1="63.31" y1="428.70" x2="63.31" y2="430.20"/>
<line x1="75.12" y1="428.70" x2="75.12" y2="430.20"/>
<line x1="86.93" y1="428.70" x2="86.93" y2="430.20"/>
<line x1="98.74" y1="428.70" x2="98.74" y2="430.20"/>
<line x1="110.55" y1="428.70" x2="110.55" y2="430.20"/>
<line x1="122.36" y1="428.70" x2="122.36" y2="430.20"/>
<line x1="134.17" y1="428.70" x2="134.17" y2="430.20"/>
<line x1="145.98" y1="428.70" x2="145.98" y2="430.20"/>
<line x1="157.79" y1="428.70" x2="157.79" y2="430.20"/>
<line x1="169.60" y1="428.70" x2="169.60" y2="430.20"/>
</g>
<g font-family='"Liberation Sans", sans-serif' font-size="4.3" fill="#2a2a2a" stroke="#2a2a2a" stroke-width="0.3">
<text x="48.90" y="430.25" text-anchor="end">-5</text>
<text x="48.90" y="416.61" text-anchor="end">0</text>
<text x="48.90" y="402.98" text-anchor="end">5</text>
<text x="48.90" y="389.34" text-anchor="end">10</text>
<text x="48.90" y="375.70" text-anchor="end">15</text>
<text x="48.90" y="362.06" text-anchor="end">20</text>
<text x="48.90" y="348.43" text-anchor="end">25</text>
<text x="48.90" y="334.79" text-anchor="end">30</text>
<text x="48.90" y="321.15" text-anchor="end">35</text>
<text x="51.50" y="435.90" text-anchor="middle">-25</text>
<text x="63.31" y="435.90" text-anchor="middle">-20</text>
<text x="75.12" y="435.90" text-anchor="middle">-15</text>
<text x="86.93" y="435.90" text-anchor="middle">-10</text>
<text x="98.74" y="435.90" text-anchor="middle">-5</text>
<text x="110.55" y="435.90" text-anchor="middle">0</text>
<text x="122.36" y="435.90" text-anchor="middle">5</text>
<text x="134.17" y="435.90" text-anchor="middle">10</text>
<text x="145.98" y="435.90" text-anchor="middle">15</text>
<text x="157.79" y="435.90" text-anchor="middle">20</text>
<text x="169.60" y="435.90" text-anchor="middle">25</text>
</g>
<text x="109.2" y="442.30" text-anchor="middle" font-family='"Liberation Sans", sans-serif' font-size="4.9" fill="#2a2a2a" stroke="#2a2a2a" stroke-width="0.2">log2(Early_117/Early_116)</text>
<text transform="translate(39.6,371.3) rotate(-90)" text-anchor="middle" font-family='"Liberation Sans", sans-serif' font-size="5.1" fill="#2a2a2a" stroke="#2a2a2a" stroke-width="0.2">-log10(Qvalue)</text>
<rect x="175.70" y="319.50" width="2.8" height="2.8" rx="0.8" fill="#dc1c5a"/>
<text x="181.00" y="322.40" font-family='"Liberation Sans", sans-serif' font-size="4.1" fill="#2a2a2a" stroke="#2a2a2a" stroke-width="0.2">Up</text>
<rect x="175.70" y="324.80" width="2.8" height="2.8" rx="0.8" fill="#96aac8"/>
<text x="181.00" y="327.70" font-family='"Liberation Sans", sans-serif' font-size="4.1" fill="#2a2a2a" stroke="#2a2a2a" stroke-width="0.2">no-DEGS</text>
<rect x="175.70" y="330.10" width="2.8" height="2.8" rx="0.8" fill="#62bf58"/>
<text x="181.00" y="333.00" font-family='"Liberation Sans", sans-serif' font-size="4.1" fill="#2a2a2a" stroke="#2a2a2a" stroke-width="0.2">Down</text>
<text x="281.6" y="310.0" text-anchor="middle" font-family='"Liberation Serif", serif' font-size="6.4" fill="#1a1a1a" stroke="#1a1a1a" stroke-width="0.18">Valcano map of DEGs</text>
<g stroke="#8c8c8c" stroke-width="0.8" stroke-dasharray="1.1,1.7">
<line x1="278.30" y1="319.40" x2="278.30" y2="428.30"/>
<line x1="283.50" y1="319.40" x2="283.50" y2="428.30"/>
<line x1="288.40" y1="319.40" x2="288.40" y2="428.30"/>
<line x1="224.70" y1="408.00" x2="341.00" y2="408.00"/>
</g>
<path fill="#96aac8" d="M271.6 414.5h1.25v1.25h-1.25zM291.3 415.4h1.25v1.25h-1.25zM281.5 415.1h1.25v1.25h-1.25zM281.2 415.3h1.25v1.25h-1.25zM272.8 415.7h1.25v1.25h-1.25zM276.4 415.3h1.25v1.25h-1.25zM283.3 415.2h1.25v1.25h-1.25zM273.7 411.3h1.25v1.25h-1.25zM277.7 415.0h1.25v1.25h-1.25zM280.8 414.3h1.25v1.25h-1.25zM272.5 415.1h1.25v1.25h-1.25zM290.7 415.1h1.25v1.25h-1.25zM274.6 415.3h1.25v1.25h-1.25zM272.2 413.8h1.25v1.25h-1.25zM277.7 414.0h1.25v1.25h-1.25zM286.6 413.2h1.25v1.25h-1.25zM268.9 411.6h1.25v1.25h-1.25zM295.2 414.4h1.25v1.25h-1.25zM284.4 413.5h1.25v1.25h-1.25zM283.1 411.2h1.25v1.25h-1.25zM300.3 414.8h1.25v1.25h-1.25zM287.6 415.2h1.25v1.25h-1.25zM295.3 415.8h1.25v1.25h-1.25zM283.7 413.3h1.25v1.25h-1.25zM281.2 415.6h1.25v1.25h-1.25zM292.7 413.9h1.25v1.25h-1.25zM275.2 413.4h1.25v1.25h-1.25zM276.1 412.4h1.25v1.25h-1.25zM279.7 413.7h1.25v1.25h-1.25zM288.6 414.3h1.25v1.25h-1.25zM280.8 411.9h1.25v1.25h-1.25zM275.4 409.6h1.25v1.25h-1.25zM285.5 414.4h1.25v1.25h-1.25zM276.7 413.7h1.25v1.25h-1.25zM276.3 414.8h1.25v1.25h-1.25zM280.4 411.6h1.25v1.25h-1.25zM277.6 415.4h1.25v1.25h-1.25zM283.4 413.5h1.25v1.25h-1.25zM287.6 413.0h1.25v1.25h-1.25zM285.4 415.1h1.25v1.25h-1.25zM286.7 415.3h1.25v1.25h-1.25zM282.3 414.6h1.25v1.25h-1.25zM270.2 414.4h1.25v1.25h-1.25zM278.6 415.6h1.25v1.25h-1.25zM294.2 411.9h1.25v1.25h-1.25zM289.2 415.1h1.25v1.25h-1.25zM269.1 415.6h1.25v1.25h-1.25zM273.5 413.2h1.25v1.25h-1.25zM283.2 411.7h1.25v1.25h-1.25zM280.0 413.7h1.25v1.25h-1.25zM284.3 410.8h1.25v1.25h-1.25zM288.3 412.8h1.25v1.25h-1.25zM272.4 413.8h1.25v1.25h-1.25zM272.6 412.4h1.25v1.25h-1.25zM284.7 414.5h1.25v1.25h-1.25zM274.9 413.1h1.25v1.25h-1.25zM284.0 414.1h1.25v1.25h-1.25zM294.0 415.5h1.25v1.25h-1.25zM303.2 413.3h1.25v1.25h-1.25zM291.5 412.8h1.25v1.25h-1.25zM273.5 414.0h1.25v1.25h-1.25zM268.5 412.1h1.25v1.25h-1.25zM285.9 415.7h1.25v1.25h-1.25zM282.5 414.5h1.25v1.25h-1.25zM289.7 415.2h1.25v1.25h-1.25zM280.4 409.7h1.25v1.25h-1.25zM282.5 415.2h1.25v1.25h-1.25zM274.5 415.0h1.25v1.25h-1.25zM278.6 414.2h1.25v1.25h-1.25zM288.1 411.1h1.25v1.25h-1.25zM281.7 413.2h1.25v1.25h-1.25zM273.3 412.8h1.25v1.25h-1.25zM291.3 415.5h1.25v1.25h-1.25zM279.9 412.7h1.25v1.25h-1.25zM284.8 414.4h1.25v1.25h-1.25zM285.1 414.7h1.25v1.25h-1.25zM288.9 415.0h1.25v1.25h-1.25zM279.3 415.7h1.25v1.25h-1.25zM282.7 415.3h1.25v1.25h-1.25zM279.3 415.2h1.25v1.25h-1.25zM278.9 414.3h1.25v1.25h-1.25zM284.7 412.8h1.25v1.25h-1.25zM279.2 414.3h1.25v1.25h-1.25zM286.1 415.5h1.25v1.25h-1.25zM288.8 414.4h1.25v1.25h-1.25zM287.8 415.0h1.25v1.25h-1.25zM286.2 414.2h1.25v1.25h-1.25zM298.7 413.1h1.25v1.25h-1.25zM284.2 414.9h1.25v1.25h-1.25zM275.9 412.7h1.25v1.25h-1.25zM287.0 413.8h1.25v1.25h-1.25zM274.1 414.7h1.25v1.25h-1.25zM302.0 410.3h1.25v1.25h-1.25zM269.2 414.1h1.25v1.25h-1.25zM282.6 414.2h1.25v1.25h-1.25zM288.2 415.5h1.25v1.25h-1.25zM285.7 415.1h1.25v1.25h-1.25zM274.9 412.4h1.25v1.25h-1.25zM279.8 412.9h1.25v1.25h-1.25zM288.9 415.7h1.25v1.25h-1.25zM284.5 415.7h1.25v1.25h-1.25zM269.0 415.0h1.25v1.25h-1.25zM286.8 411.7h1.25v1.25h-1.25zM271.7 413.0h1.25v1.25h-1.25zM289.8 411.9h1.25v1.25h-1.25zM287.0 415.7h1.25v1.25h-1.25zM291.1 415.0h1.25v1.25h-1.25zM281.7 413.9h1.25v1.25h-1.25zM284.8 415.5h1.25v1.25h-1.25zM278.3 414.9h1.25v1.25h-1.25zM277.5 414.2h1.25v1.25h-1.25zM275.3 411.8h1.25v1.25h-1.25zM275.8 413.0h1.25v1.25h-1.25zM279.4 414.1h1.25v1.25h-1.25zM289.2 414.5h1.25v1.25h-1.25zM289.4 414.5h1.25v1.25h-1.25zM283.1 414.0h1.25v1.25h-1.25zM282.9 412.5h1.25v1.25h-1.25zM281.3 414.3h1.25v1.25h-1.25zM286.9 414.9h1.25v1.25h-1.25zM278.4 413.5h1.25v1.25h-1.25zM292.8 415.6h1.25v1.25h-1.25zM277.6 414.5h1.25v1.25h-1.25zM278.8 414.3h1.25v1.25h-1.25zM299.2 413.9h1.25v1.25h-1.25zM295.5 409.8h1.25v1.25h-1.25zM298.3 409.7h1.25v1.25h-1.25zM292.1 415.3h1.25v1.25h-1.25zM291.4 415.3h1.25v1.25h-1.25zM278.6 415.2h1.25v1.25h-1.25zM295.3 413.6h1.25v1.25h-1.25zM281.1 414.8h1.25v1.25h-1.25zM290.2 414.3h1.25v1.25h-1.25zM283.1 414.1h1.25v1.25h-1.25zM277.5 414.7h1.25v1.25h-1.25zM279.0 411.7h1.25v1.25h-1.25zM272.2 413.5h1.25v1.25h-1.25zM274.5 412.4h1.25v1.25h-1.25zM283.1 412.0h1.25v1.25h-1.25zM293.4 414.7h1.25v1.25h-1.25zM275.2 414.4h1.25v1.25h-1.25zM276.2 414.4h1.25v1.25h-1.25zM287.2 413.0h1.25v1.25h-1.25zM277.2 415.1h1.25v1.25h-1.25zM283.2 413.8h1.25v1.25h-1.25zM277.1 412.9h1.25v1.25h-1.25zM277.4 414.4h1.25v1.25h-1.25zM281.5 414.0h1.25v1.25h-1.25zM288.3 414.1h1.25v1.25h-1.25zM295.4 413.1h1.25v1.25h-1.25zM282.8 414.9h1.25v1.25h-1.25zM280.3 412.8h1.25v1.25h-1.25zM282.8 415.3h1.25v1.25h-1.25zM298.6 412.2h1.25v1.25h-1.25zM268.2 413.6h1.25v1.25h-1.25zM270.8 409.3h1.25v1.25h-1.25zM281.5 413.0h1.25v1.25h-1.25zM274.2 415.8h1.25v1.25h-1.25zM297.9 412.7h1.25v1.25h-1.25zM286.2 414.6h1.25v1.25h-1.25zM279.4 415.1h1.25v1.25h-1.25zM294.7 412.8h1.25v1.25h-1.25zM287.9 415.1h1.25v1.25h-1.25zM274.3 415.5h1.25v1.25h-1.25zM297.7 413.0h1.25v1.25h-1.25zM272.5 410.4h1.25v1.25h-1.25zM278.1 415.3h1.25v1.25h-1.25zM279.0 415.0h1.25v1.25h-1.25zM286.1 413.4h1.25v1.25h-1.25zM285.1 412.5h1.25v1.25h-1.25zM272.0 414.6h1.25v1.25h-1.25zM286.8 411.9h1.25v1.25h-1.25zM293.4 411.6h1.25v1.25h-1.25zM271.8 410.3h1.25v1.25h-1.25zM293.7 412.1h1.25v1.25h-1.25zM271.5 415.5h1.25v1.25h-1.25zM278.1 414.4h1.25v1.25h-1.25zM276.0 413.4h1.25v1.25h-1.25zM284.1 414.3h1.25v1.25h-1.25zM293.7 415.1h1.25v1.25h-1.25zM294.1 415.2h1.25v1.25h-1.25zM278.6 413.0h1.25v1.25h-1.25zM292.2 414.4h1.25v1.25h-1.25zM284.3 411.2h1.25v1.25h-1.25zM296.1 413.9h1.25v1.25h-1.25zM278.6 413.0h1.25v1.25h-1.25zM278.7 411.8h1.25v1.25h-1.25zM279.0 414.1h1.25v1.25h-1.25zM279.6 415.0h1.25v1.25h-1.25zM277.7 413.8h1.25v1.25h-1.25zM286.9 413.4h1.25v1.25h-1.25zM274.2 414.9h1.25v1.25h-1.25zM290.3 414.9h1.25v1.25h-1.25zM281.7 414.0h1.25v1.25h-1.25zM280.2 405.6h1.25v1.25h-1.25zM281.4 405.6h1.25v1.25h-1.25zM281.3 409.3h1.25v1.25h-1.25zM279.7 411.7h1.25v1.25h-1.25zM279.4 409.9h1.25v1.25h-1.25zM280.3 407.1h1.25v1.25h-1.25zM278.1 406.9h1.25v1.25h-1.25zM279.0 407.1h1.25v1.25h-1.25zM281.7 405.7h1.25v1.25h-1.25zM280.7 409.3h1.25v1.25h-1.25zM278.9 406.8h1.25v1.25h-1.25zM278.4 411.4h1.25v1.25h-1.25zM278.9 406.9h1.25v1.25h-1.25zM279.2 410.7h1.25v1.25h-1.25zM281.3 408.5h1.25v1.25h-1.25zM280.1 403.8h1.25v1.25h-1.25zM281.5 403.7h1.25v1.25h-1.25zM279.3 406.4h1.25v1.25h-1.25zM280.8 409.2h1.25v1.25h-1.25zM279.3 411.4h1.25v1.25h-1.25zM281.7 403.1h1.25v1.25h-1.25zM280.4 407.3h1.25v1.25h-1.25zM280.4 395.1h1.25v1.25h-1.25zM279.8 399.5h1.25v1.25h-1.25zM283.9 405.8h1.25v1.25h-1.25zM289.0 406.2h1.25v1.25h-1.25zM280.9 402.8h1.25v1.25h-1.25zM284.5 400.1h1.25v1.25h-1.25zM289.3 386.8h1.25v1.25h-1.25zM281.8 393.8h1.25v1.25h-1.25zM284.6 390.0h1.25v1.25h-1.25zM289.2 389.8h1.25v1.25h-1.25z"/>
<path fill="#62bf58" d="M264.5 349.2h1.3v1.3h-1.3zM257.2 360.4h1.3v1.3h-1.3zM260.9 368.8h1.3v1.3h-1.3zM261.8 372.9h1.3v1.3h-1.3zM262.2 377.7h1.3v1.3h-1.3zM262.2 381.6h1.3v1.3h-1.3zM263.9 387.8h1.3v1.3h-1.3zM265.0 394.2h1.3v1.3h-1.3zM266.2 403.8h1.3v1.3h-1.3zM226.2 386.0h1.3v1.3h-1.3zM226.8 386.9h1.3v1.3h-1.3zM276.0 386.0h1.3v1.3h-1.3zM276.4 390.4h1.3v1.3h-1.3zM277.4 387.4h1.3v1.3h-1.3zM277.4 383.0h1.3v1.3h-1.3zM272.4 406.2h1.3v1.3h-1.3zM276.9 394.9h1.3v1.3h-1.3zM276.2 398.4h1.3v1.3h-1.3zM276.6 401.4h1.3v1.3h-1.3zM274.9 403.4h1.3v1.3h-1.3zM275.4 379.4h1.3v1.3h-1.3zM276.9 375.4h1.3v1.3h-1.3z"/>
<path fill="#dc1c5a" d="M311.4 322.5h1.6v1.6h-1.6zM307.6 348.8h1.6v1.6h-1.6zM306.5 357.2h1.6v1.6h-1.6zM304.7 370.0h1.6v1.6h-1.6zM305.4 374.0h1.6v1.6h-1.6zM306.0 374.4h1.6v1.6h-1.6zM292.0 383.4h1.6v1.6h-1.6zM297.1 386.0h1.6v1.6h-1.6zM301.6 387.8h1.6v1.6h-1.6zM288.2 385.6h1.6v1.6h-1.6zM288.7 392.3h1.6v1.6h-1.6zM289.7 392.7h1.6v1.6h-1.6zM303.8 392.7h1.6v1.6h-1.6zM301.4 394.1h1.6v1.6h-1.6zM289.8 397.8h1.6v1.6h-1.6zM289.8 401.2h1.6v1.6h-1.6zM290.9 404.5h1.6v1.6h-1.6zM295.4 405.2h1.6v1.6h-1.6zM298.7 403.9h1.6v1.6h-1.6zM298.7 406.1h1.6v1.6h-1.6zM313.2 404.1h1.6v1.6h-1.6zM334.4 392.7h1.6v1.6h-1.6zM336.0 390.5h1.6v1.6h-1.6zM337.7 387.8h1.6v1.6h-1.6zM339.3 386.7h1.6v1.6h-1.6zM291.9 383.3h1.6v1.6h-1.6zM296.9 386.0h1.6v1.6h-1.6z"/>
<g stroke="#8c8c8c" stroke-width="1.1" fill="none">
<line x1="224.70" y1="319.40" x2="224.70" y2="428.30"/>
<line x1="224.70" y1="428.30" x2="342.40" y2="428.30"/>
<line x1="223.20" y1="428.30" x2="224.70" y2="428.30"/>
<line x1="223.20" y1="416.20" x2="224.70" y2="416.20"/>
<line x1="223.20" y1="404.10" x2="224.70" y2="404.10"/>
<line x1="223.20" y1="392.00" x2="224.70" y2="392.00"/>
<line x1="223.20" y1="379.90" x2="224.70" y2="379.90"/>
<line x1="223.20" y1="367.80" x2="224.70" y2="367.80"/>
<line x1="223.20" y1="355.70" x2="224.70" y2="355.70"/>
<line x1="223.20" y1="343.60" x2="224.70" y2="343.60"/>
<line x1="223.20" y1="331.50" x2="224.70" y2="331.50"/>
<line x1="223.20" y1="319.40" x2="224.70" y2="319.40"/>
<line x1="232.82" y1="428.30" x2="232.82" y2="429.80"/>
<line x1="245.50" y1="428.30" x2="245.50" y2="429.80"/>
<line x1="258.18" y1="428.30" x2="258.18" y2="429.80"/>
<line x1="270.87" y1="428.30" x2="270.87" y2="429.80"/>
<line x1="283.55" y1="428.30" x2="283.55" y2="429.80"/>
<line x1="296.23" y1="428.30" x2="296.23" y2="429.80"/>
<line x1="308.92" y1="428.30" x2="308.92" y2="429.80"/>
<line x1="321.60" y1="428.30" x2="321.60" y2="429.80"/>
<line x1="334.28" y1="428.30" x2="334.28" y2="429.80"/>
</g>
<g font-family='"Liberation Sans", sans-serif' font-size="4.3" fill="#2a2a2a" stroke="#2a2a2a" stroke-width="0.3">
<text x="222.10" y="429.85" text-anchor="end">-2</text>
<text x="222.10" y="417.75" text-anchor="end">0</text>
<text x="222.10" y="405.65" text-anchor="end">2</text>
<text x="222.10" y="393.55" text-anchor="end">4</text>
<text x="222.10" y="381.45" text-anchor="end">6</text>
<text x="222.10" y="369.35" text-anchor="end">8</text>
<text x="222.10" y="357.25" text-anchor="end">10</text>
<text x="222.10" y="345.15" text-anchor="end">12</text>
<text x="222.10" y="333.05" text-anchor="end">14</text>
<text x="222.10" y="320.95" text-anchor="end">16</text>
<text x="232.82" y="435.50" text-anchor="middle">-20</text>
<text x="245.50" y="435.50" text-anchor="middle">-15</text>
<text x="258.18" y="435.50" text-anchor="middle">-10</text>
<text x="270.87" y="435.50" text-anchor="middle">-5</text>
<text x="283.55" y="435.50" text-anchor="middle">0</text>
<text x="296.23" y="435.50" text-anchor="middle">5</text>
<text x="308.92" y="435.50" text-anchor="middle">10</text>
<text x="321.60" y="435.50" text-anchor="middle">15</text>
<text x="334.28" y="435.50" text-anchor="middle">20</text>
</g>
<text x="283.5" y="441.90" text-anchor="middle" font-family='"Liberation Sans", sans-serif' font-size="4.9" fill="#2a2a2a" stroke="#2a2a2a" stroke-width="0.2">log2(Mid_117/Mid_116)</text>
<text transform="translate(212.8,371.3) rotate(-90)" text-anchor="middle" font-family='"Liberation Sans", sans-serif' font-size="5.1" fill="#2a2a2a" stroke="#2a2a2a" stroke-width="0.2">-log10(Qvalue)</text>
<rect x="349.10" y="319.50" width="2.8" height="2.8" rx="0.8" fill="#dc1c5a"/>
<text x="354.40" y="322.40" font-family='"Liberation Sans", sans-serif' font-size="4.1" fill="#2a2a2a" stroke="#2a2a2a" stroke-width="0.2">Up</text>
<rect x="349.10" y="324.80" width="2.8" height="2.8" rx="0.8" fill="#96aac8"/>
<text x="354.40" y="327.70" font-family='"Liberation Sans", sans-serif' font-size="4.1" fill="#2a2a2a" stroke="#2a2a2a" stroke-width="0.2">no-DEGS</text>
<rect x="349.10" y="330.10" width="2.8" height="2.8" rx="0.8" fill="#62bf58"/>
<text x="354.40" y="333.00" font-family='"Liberation Sans", sans-serif' font-size="4.1" fill="#2a2a2a" stroke="#2a2a2a" stroke-width="0.2">Down</text>
<text x="459.6" y="310.0" text-anchor="middle" font-family='"Liberation Serif", serif' font-size="6.4" fill="#1a1a1a" stroke="#1a1a1a" stroke-width="0.18">Valcano map of DEGs</text>
<g stroke="#8c8c8c" stroke-width="0.8" stroke-dasharray="1.1,1.7">
<line x1="455.20" y1="320.00" x2="455.20" y2="428.00"/>
<line x1="459.10" y1="320.00" x2="459.10" y2="428.00"/>
<line x1="463.00" y1="320.00" x2="463.00" y2="428.00"/>
<line x1="400.60" y1="418.40" x2="516.10" y2="418.40"/>
</g>
<path fill="#96aac8" d="M455.6 409.7h1.7v1.7h-1.7zM459.3 416.9h1.7v1.7h-1.7zM455.6 417.9h1.7v1.7h-1.7zM456.0 417.4h1.7v1.7h-1.7zM461.4 406.9h1.7v1.7h-1.7zM459.6 415.9h1.7v1.7h-1.7zM461.1 411.8h1.7v1.7h-1.7zM457.5 416.0h1.7v1.7h-1.7zM460.6 411.6h1.7v1.7h-1.7zM461.1 406.7h1.7v1.7h-1.7zM460.9 407.1h1.7v1.7h-1.7zM459.7 418.6h1.7v1.7h-1.7zM456.8 416.3h1.7v1.7h-1.7zM457.5 415.4h1.7v1.7h-1.7zM460.6 413.6h1.7v1.7h-1.7zM460.3 409.7h1.7v1.7h-1.7zM455.6 410.5h1.7v1.7h-1.7zM460.4 409.2h1.7v1.7h-1.7zM454.6 409.6h1.7v1.7h-1.7zM457.3 418.2h1.7v1.7h-1.7zM460.7 410.4h1.7v1.7h-1.7zM459.9 413.9h1.7v1.7h-1.7zM460.0 416.0h1.7v1.7h-1.7zM455.0 411.7h1.7v1.7h-1.7zM457.5 417.0h1.7v1.7h-1.7zM458.5 418.2h1.7v1.7h-1.7zM457.4 416.9h1.7v1.7h-1.7zM460.5 415.7h1.7v1.7h-1.7zM455.9 410.2h1.7v1.7h-1.7zM456.4 418.6h1.7v1.7h-1.7zM457.3 418.4h1.7v1.7h-1.7zM461.5 414.7h1.7v1.7h-1.7zM457.1 417.6h1.7v1.7h-1.7zM458.1 418.9h1.7v1.7h-1.7zM458.1 418.5h1.7v1.7h-1.7zM459.4 416.6h1.7v1.7h-1.7zM455.8 414.4h1.7v1.7h-1.7zM457.6 417.9h1.7v1.7h-1.7zM460.1 412.0h1.7v1.7h-1.7zM457.1 415.2h1.7v1.7h-1.7zM461.5 411.8h1.7v1.7h-1.7zM457.7 418.9h1.7v1.7h-1.7zM460.2 417.7h1.7v1.7h-1.7zM458.1 417.8h1.7v1.7h-1.7zM457.2 414.3h1.7v1.7h-1.7zM457.4 416.6h1.7v1.7h-1.7zM458.0 418.9h1.7v1.7h-1.7zM458.3 417.3h1.7v1.7h-1.7zM455.8 415.6h1.7v1.7h-1.7zM458.2 418.1h1.7v1.7h-1.7zM458.1 418.0h1.7v1.7h-1.7zM459.4 416.5h1.7v1.7h-1.7zM454.8 411.8h1.7v1.7h-1.7zM456.3 415.4h1.7v1.7h-1.7zM457.8 418.4h1.7v1.7h-1.7zM461.5 415.3h1.7v1.7h-1.7zM459.0 416.8h1.7v1.7h-1.7zM455.3 415.6h1.7v1.7h-1.7zM455.9 412.7h1.7v1.7h-1.7zM458.7 416.5h1.7v1.7h-1.7zM460.8 413.8h1.7v1.7h-1.7zM461.6 404.8h1.7v1.7h-1.7zM457.8 417.3h1.7v1.7h-1.7zM458.6 417.8h1.7v1.7h-1.7zM458.8 418.7h1.7v1.7h-1.7zM457.7 417.0h1.7v1.7h-1.7zM459.9 415.3h1.7v1.7h-1.7zM456.4 418.3h1.7v1.7h-1.7zM456.1 410.5h1.7v1.7h-1.7zM458.4 418.8h1.7v1.7h-1.7zM460.7 416.9h1.7v1.7h-1.7zM458.9 416.9h1.7v1.7h-1.7zM456.6 412.8h1.7v1.7h-1.7zM457.7 418.4h1.7v1.7h-1.7zM458.5 418.9h1.7v1.7h-1.7zM460.3 414.6h1.7v1.7h-1.7zM458.8 416.9h1.7v1.7h-1.7zM461.1 416.9h1.7v1.7h-1.7zM455.8 417.9h1.7v1.7h-1.7zM459.4 415.1h1.7v1.7h-1.7zM459.9 414.3h1.7v1.7h-1.7zM459.5 415.7h1.7v1.7h-1.7zM459.1 418.6h1.7v1.7h-1.7zM461.0 412.7h1.7v1.7h-1.7zM457.3 417.6h1.7v1.7h-1.7zM459.3 413.7h1.7v1.7h-1.7zM458.2 418.0h1.7v1.7h-1.7zM459.2 414.6h1.7v1.7h-1.7zM456.6 413.6h1.7v1.7h-1.7zM456.5 415.6h1.7v1.7h-1.7zM460.8 414.9h1.7v1.7h-1.7zM459.2 417.7h1.7v1.7h-1.7zM457.3 416.4h1.7v1.7h-1.7zM459.2 414.7h1.7v1.7h-1.7zM459.9 418.3h1.7v1.7h-1.7zM460.9 407.9h1.7v1.7h-1.7zM461.1 409.0h1.7v1.7h-1.7zM455.4 414.4h1.7v1.7h-1.7zM457.0 414.2h1.7v1.7h-1.7zM458.9 417.1h1.7v1.7h-1.7zM458.4 418.0h1.7v1.7h-1.7zM459.0 418.0h1.7v1.7h-1.7zM459.7 416.8h1.7v1.7h-1.7zM460.5 413.5h1.7v1.7h-1.7zM459.1 414.5h1.7v1.7h-1.7zM455.0 411.7h1.7v1.7h-1.7zM459.4 414.3h1.7v1.7h-1.7zM461.5 409.0h1.7v1.7h-1.7zM458.0 418.1h1.7v1.7h-1.7zM461.5 406.8h1.7v1.7h-1.7zM456.3 415.9h1.7v1.7h-1.7zM457.1 415.5h1.7v1.7h-1.7zM455.4 418.0h1.7v1.7h-1.7zM457.7 417.7h1.7v1.7h-1.7zM456.2 418.4h1.7v1.7h-1.7zM455.2 415.1h1.7v1.7h-1.7zM454.9 412.5h1.7v1.7h-1.7zM456.8 418.6h1.7v1.7h-1.7zM457.7 418.4h1.7v1.7h-1.7zM454.7 407.7h1.7v1.7h-1.7zM461.7 409.6h1.7v1.7h-1.7zM454.7 408.2h1.7v1.7h-1.7zM457.1 416.4h1.7v1.7h-1.7zM457.2 415.6h1.7v1.7h-1.7zM457.9 417.8h1.7v1.7h-1.7zM455.8 413.9h1.7v1.7h-1.7zM458.7 417.6h1.7v1.7h-1.7zM459.9 414.7h1.7v1.7h-1.7zM456.0 418.4h1.7v1.7h-1.7zM455.3 410.4h1.7v1.7h-1.7zM457.5 416.7h1.7v1.7h-1.7zM456.0 417.6h1.7v1.7h-1.7zM456.7 415.8h1.7v1.7h-1.7zM458.9 415.4h1.7v1.7h-1.7zM457.6 416.0h1.7v1.7h-1.7zM458.4 418.4h1.7v1.7h-1.7zM460.7 418.3h1.7v1.7h-1.7zM455.3 412.3h1.7v1.7h-1.7zM459.3 415.4h1.7v1.7h-1.7zM461.3 412.1h1.7v1.7h-1.7zM460.8 408.2h1.7v1.7h-1.7zM457.3 417.6h1.7v1.7h-1.7zM460.6 413.6h1.7v1.7h-1.7zM460.7 416.3h1.7v1.7h-1.7zM457.5 417.8h1.7v1.7h-1.7zM458.2 417.6h1.7v1.7h-1.7zM461.0 417.0h1.7v1.7h-1.7zM461.0 409.7h1.7v1.7h-1.7zM460.1 410.4h1.7v1.7h-1.7zM458.1 418.0h1.7v1.7h-1.7zM458.1 418.2h1.7v1.7h-1.7zM458.5 417.6h1.7v1.7h-1.7zM460.0 416.1h1.7v1.7h-1.7zM456.5 412.8h1.7v1.7h-1.7zM456.2 413.0h1.7v1.7h-1.7zM457.6 417.2h1.7v1.7h-1.7zM460.0 418.8h1.7v1.7h-1.7zM456.4 413.2h1.7v1.7h-1.7zM458.2 417.4h1.7v1.7h-1.7zM459.1 414.3h1.7v1.7h-1.7zM458.8 417.4h1.7v1.7h-1.7zM457.2 418.9h1.7v1.7h-1.7zM456.7 412.3h1.7v1.7h-1.7zM455.2 409.4h1.7v1.7h-1.7zM459.8 416.9h1.7v1.7h-1.7zM457.0 418.3h1.7v1.7h-1.7zM455.6 410.5h1.7v1.7h-1.7zM458.6 417.5h1.7v1.7h-1.7zM460.2 412.6h1.7v1.7h-1.7zM461.0 414.4h1.7v1.7h-1.7zM456.9 417.8h1.7v1.7h-1.7zM455.1 418.4h1.7v1.7h-1.7zM458.6 418.0h1.7v1.7h-1.7zM458.0 417.9h1.7v1.7h-1.7zM458.0 418.5h1.7v1.7h-1.7zM462.4 417.7h1.7v1.7h-1.7zM456.7 417.6h1.7v1.7h-1.7zM453.2 417.5h1.7v1.7h-1.7zM454.0 418.3h1.7v1.7h-1.7zM455.1 418.3h1.7v1.7h-1.7zM455.5 418.9h1.7v1.7h-1.7zM459.9 418.4h1.7v1.7h-1.7zM458.1 418.9h1.7v1.7h-1.7zM455.4 418.7h1.7v1.7h-1.7zM456.0 417.9h1.7v1.7h-1.7zM458.0 419.0h1.7v1.7h-1.7zM457.5 418.3h1.7v1.7h-1.7zM457.4 418.1h1.7v1.7h-1.7zM456.5 418.9h1.7v1.7h-1.7zM457.0 418.2h1.7v1.7h-1.7zM459.1 418.9h1.7v1.7h-1.7zM456.4 418.3h1.7v1.7h-1.7zM455.6 419.0h1.7v1.7h-1.7zM457.4 418.4h1.7v1.7h-1.7zM455.8 418.2h1.7v1.7h-1.7z"/>
<path fill="#62bf58" d="M450.0 415.9h1.7v1.7h-1.7zM449.7 412.8h1.7v1.7h-1.7zM448.3 414.2h1.7v1.7h-1.7zM450.9 414.0h1.7v1.7h-1.7zM454.1 410.4h1.7v1.7h-1.7zM445.4 413.9h1.7v1.7h-1.7zM453.6 415.0h1.7v1.7h-1.7zM448.6 417.7h1.7v1.7h-1.7zM436.2 413.8h1.7v1.7h-1.7zM432.3 417.7h1.7v1.7h-1.7zM445.7 415.4h1.7v1.7h-1.7zM442.6 417.4h1.7v1.7h-1.7zM452.1 414.9h1.7v1.7h-1.7zM444.7 417.4h1.7v1.7h-1.7zM448.8 417.4h1.7v1.7h-1.7zM451.9 414.9h1.7v1.7h-1.7zM448.9 416.8h1.7v1.7h-1.7zM434.5 416.9h1.7v1.7h-1.7zM446.6 415.9h1.7v1.7h-1.7zM451.7 414.5h1.7v1.7h-1.7zM431.9 417.6h1.7v1.7h-1.7zM448.6 411.2h1.7v1.7h-1.7zM436.6 416.4h1.7v1.7h-1.7zM428.2 417.2h1.7v1.7h-1.7zM436.3 411.9h1.7v1.7h-1.7zM439.0 416.6h1.7v1.7h-1.7zM447.6 412.1h1.7v1.7h-1.7zM454.1 411.9h1.7v1.7h-1.7zM452.9 414.6h1.7v1.7h-1.7zM447.7 417.7h1.7v1.7h-1.7zM446.7 407.0h1.7v1.7h-1.7zM448.1 414.3h1.7v1.7h-1.7zM452.4 415.5h1.7v1.7h-1.7zM451.5 417.4h1.7v1.7h-1.7zM454.2 406.7h1.7v1.7h-1.7zM448.7 416.4h1.7v1.7h-1.7zM437.1 413.7h1.7v1.7h-1.7zM453.3 405.3h1.7v1.7h-1.7zM441.7 412.0h1.7v1.7h-1.7zM448.7 416.0h1.7v1.7h-1.7zM448.5 416.7h1.7v1.7h-1.7zM435.8 417.0h1.7v1.7h-1.7zM442.2 416.6h1.7v1.7h-1.7zM448.7 415.8h1.7v1.7h-1.7zM450.9 410.8h1.7v1.7h-1.7zM453.4 417.5h1.7v1.7h-1.7zM439.7 416.6h1.7v1.7h-1.7zM451.9 416.7h1.7v1.7h-1.7zM445.2 416.6h1.7v1.7h-1.7zM447.8 415.5h1.7v1.7h-1.7zM452.1 415.0h1.7v1.7h-1.7zM434.7 417.7h1.7v1.7h-1.7zM428.5 417.7h1.7v1.7h-1.7zM437.2 416.1h1.7v1.7h-1.7zM443.4 415.3h1.7v1.7h-1.7zM451.8 415.9h1.7v1.7h-1.7zM449.4 414.6h1.7v1.7h-1.7zM438.9 417.0h1.7v1.7h-1.7zM440.1 414.6h1.7v1.7h-1.7zM454.3 417.5h1.7v1.7h-1.7zM446.9 416.7h1.7v1.7h-1.7zM449.5 412.0h1.7v1.7h-1.7zM433.3 417.0h1.7v1.7h-1.7zM443.8 416.8h1.7v1.7h-1.7zM452.4 400.8h1.7v1.7h-1.7zM450.0 411.2h1.7v1.7h-1.7zM449.6 411.5h1.7v1.7h-1.7zM445.3 413.2h1.7v1.7h-1.7zM452.0 411.9h1.7v1.7h-1.7zM451.4 417.6h1.7v1.7h-1.7zM443.8 410.6h1.7v1.7h-1.7zM443.8 415.0h1.7v1.7h-1.7zM426.8 416.4h1.7v1.7h-1.7zM450.6 414.5h1.7v1.7h-1.7zM435.0 416.9h1.7v1.7h-1.7zM453.9 412.8h1.7v1.7h-1.7zM427.9 417.7h1.7v1.7h-1.7zM451.8 411.7h1.7v1.7h-1.7zM435.9 416.9h1.7v1.7h-1.7zM447.2 415.8h1.7v1.7h-1.7zM449.0 416.4h1.7v1.7h-1.7zM452.2 412.3h1.7v1.7h-1.7zM449.2 411.4h1.7v1.7h-1.7zM452.0 413.3h1.7v1.7h-1.7zM448.9 417.3h1.7v1.7h-1.7zM452.8 416.2h1.7v1.7h-1.7zM439.8 412.1h1.7v1.7h-1.7zM450.2 416.9h1.7v1.7h-1.7zM441.8 413.3h1.7v1.7h-1.7zM447.0 417.3h1.7v1.7h-1.7zM445.0 417.7h1.7v1.7h-1.7zM444.9 416.1h1.7v1.7h-1.7zM441.6 411.3h1.7v1.7h-1.7zM442.0 416.1h1.7v1.7h-1.7zM450.1 412.1h1.7v1.7h-1.7zM443.5 417.5h1.7v1.7h-1.7zM454.2 413.9h1.7v1.7h-1.7zM447.3 417.0h1.7v1.7h-1.7zM450.5 416.1h1.7v1.7h-1.7zM448.6 414.6h1.7v1.7h-1.7zM442.7 415.5h1.7v1.7h-1.7zM453.1 410.0h1.7v1.7h-1.7zM444.6 415.9h1.7v1.7h-1.7zM442.2 407.9h1.7v1.7h-1.7zM445.8 416.9h1.7v1.7h-1.7zM438.2 417.1h1.7v1.7h-1.7zM452.6 416.5h1.7v1.7h-1.7zM439.0 417.6h1.7v1.7h-1.7zM449.3 413.2h1.7v1.7h-1.7zM444.1 416.2h1.7v1.7h-1.7zM443.2 407.9h1.7v1.7h-1.7zM444.2 411.0h1.7v1.7h-1.7zM441.2 417.1h1.7v1.7h-1.7zM450.7 412.4h1.7v1.7h-1.7zM446.3 411.9h1.7v1.7h-1.7zM448.4 417.6h1.7v1.7h-1.7zM449.6 414.8h1.7v1.7h-1.7zM439.8 416.9h1.7v1.7h-1.7zM437.5 415.0h1.7v1.7h-1.7zM430.6 415.8h1.7v1.7h-1.7zM437.4 417.3h1.7v1.7h-1.7zM442.4 417.2h1.7v1.7h-1.7zM438.5 417.5h1.7v1.7h-1.7zM451.0 412.2h1.7v1.7h-1.7zM432.2 414.3h1.7v1.7h-1.7zM441.8 414.9h1.7v1.7h-1.7zM435.2 415.7h1.7v1.7h-1.7zM432.3 417.3h1.7v1.7h-1.7zM442.5 417.0h1.7v1.7h-1.7zM439.5 417.1h1.7v1.7h-1.7zM439.8 417.1h1.7v1.7h-1.7zM452.7 416.3h1.7v1.7h-1.7zM454.4 414.8h1.7v1.7h-1.7zM448.2 416.7h1.7v1.7h-1.7zM452.4 414.8h1.7v1.7h-1.7zM445.1 411.7h1.7v1.7h-1.7zM441.8 413.0h1.7v1.7h-1.7zM434.5 416.3h1.7v1.7h-1.7zM435.8 416.4h1.7v1.7h-1.7zM449.2 413.9h1.7v1.7h-1.7zM436.4 417.2h1.7v1.7h-1.7zM444.5 417.6h1.7v1.7h-1.7zM444.1 413.5h1.7v1.7h-1.7zM450.1 416.8h1.7v1.7h-1.7zM443.5 414.2h1.7v1.7h-1.7zM451.2 406.6h1.7v1.7h-1.7zM439.1 416.9h1.7v1.7h-1.7zM454.0 416.6h1.7v1.7h-1.7zM449.0 407.8h1.7v1.7h-1.7zM452.8 413.3h1.7v1.7h-1.7zM431.3 417.6h1.7v1.7h-1.7zM443.3 415.5h1.7v1.7h-1.7zM428.3 417.4h1.7v1.7h-1.7zM430.0 415.3h1.7v1.7h-1.7zM438.1 417.6h1.7v1.7h-1.7zM447.9 417.6h1.7v1.7h-1.7zM438.0 413.9h1.7v1.7h-1.7zM439.8 414.4h1.7v1.7h-1.7zM449.8 415.0h1.7v1.7h-1.7zM453.9 416.9h1.7v1.7h-1.7zM443.5 415.9h1.7v1.7h-1.7zM452.7 416.8h1.7v1.7h-1.7zM451.1 415.2h1.7v1.7h-1.7zM442.6 417.5h1.7v1.7h-1.7zM439.3 410.1h1.7v1.7h-1.7zM453.3 414.2h1.7v1.7h-1.7zM447.8 416.4h1.7v1.7h-1.7zM446.9 413.9h1.7v1.7h-1.7zM443.2 410.9h1.7v1.7h-1.7zM442.3 412.8h1.7v1.7h-1.7zM452.3 415.0h1.7v1.7h-1.7zM453.6 413.9h1.7v1.7h-1.7zM448.1 414.5h1.7v1.7h-1.7zM439.4 412.0h1.7v1.7h-1.7zM442.1 409.7h1.7v1.7h-1.7zM447.0 417.6h1.7v1.7h-1.7zM436.1 412.2h1.7v1.7h-1.7zM438.9 417.7h1.7v1.7h-1.7zM432.4 416.1h1.7v1.7h-1.7zM450.0 415.0h1.7v1.7h-1.7zM436.9 414.7h1.7v1.7h-1.7zM444.8 417.7h1.7v1.7h-1.7zM435.1 411.7h1.7v1.7h-1.7zM445.7 412.3h1.7v1.7h-1.7zM445.5 416.5h1.7v1.7h-1.7zM448.6 417.7h1.7v1.7h-1.7zM453.4 414.0h1.7v1.7h-1.7zM445.3 415.5h1.7v1.7h-1.7zM445.4 416.0h1.7v1.7h-1.7zM439.1 417.2h1.7v1.7h-1.7zM449.1 417.2h1.7v1.7h-1.7zM449.5 416.7h1.7v1.7h-1.7zM433.7 417.1h1.7v1.7h-1.7zM451.8 416.7h1.7v1.7h-1.7zM449.3 415.1h1.7v1.7h-1.7zM446.9 416.8h1.7v1.7h-1.7zM449.1 416.8h1.7v1.7h-1.7zM449.2 416.5h1.7v1.7h-1.7zM445.3 414.4h1.7v1.7h-1.7zM437.6 414.8h1.7v1.7h-1.7zM449.8 412.5h1.7v1.7h-1.7zM453.3 416.6h1.7v1.7h-1.7zM452.1 399.2h1.7v1.7h-1.7zM442.4 416.6h1.7v1.7h-1.7zM438.2 408.5h1.7v1.7h-1.7zM433.8 417.0h1.7v1.7h-1.7zM440.6 414.3h1.7v1.7h-1.7zM438.6 416.9h1.7v1.7h-1.7zM451.6 416.4h1.7v1.7h-1.7zM443.2 415.4h1.7v1.7h-1.7zM453.8 410.3h1.7v1.7h-1.7zM440.9 417.7h1.7v1.7h-1.7zM442.8 417.6h1.7v1.7h-1.7zM454.5 406.8h1.7v1.7h-1.7zM449.5 410.1h1.7v1.7h-1.7zM448.2 406.8h1.7v1.7h-1.7zM444.6 410.1h1.7v1.7h-1.7zM450.0 417.2h1.7v1.7h-1.7zM448.1 417.0h1.7v1.7h-1.7zM426.3 417.6h1.7v1.7h-1.7zM443.7 414.2h1.7v1.7h-1.7zM432.2 413.7h1.7v1.7h-1.7zM443.5 417.4h1.7v1.7h-1.7zM451.2 416.5h1.7v1.7h-1.7zM450.3 417.0h1.7v1.7h-1.7zM452.8 416.0h1.7v1.7h-1.7zM444.8 417.2h1.7v1.7h-1.7zM451.4 417.2h1.7v1.7h-1.7zM439.8 415.9h1.7v1.7h-1.7zM452.0 411.9h1.7v1.7h-1.7zM425.9 417.7h1.7v1.7h-1.7zM449.7 416.8h1.7v1.7h-1.7zM445.4 413.5h1.7v1.7h-1.7zM449.8 408.3h1.7v1.7h-1.7zM447.5 416.4h1.7v1.7h-1.7zM454.4 414.0h1.7v1.7h-1.7zM448.7 405.2h1.7v1.7h-1.7zM434.1 416.8h1.7v1.7h-1.7zM436.0 416.7h1.7v1.7h-1.7zM440.5 417.3h1.7v1.7h-1.7zM425.1 416.4h1.7v1.7h-1.7zM443.1 416.4h1.7v1.7h-1.7zM447.8 417.1h1.7v1.7h-1.7zM452.3 412.3h1.7v1.7h-1.7zM454.0 416.7h1.7v1.7h-1.7zM452.2 411.2h1.7v1.7h-1.7zM437.1 416.6h1.7v1.7h-1.7zM454.5 416.8h1.7v1.7h-1.7zM444.4 417.6h1.7v1.7h-1.7zM453.6 416.4h1.7v1.7h-1.7zM446.1 415.8h1.7v1.7h-1.7zM446.7 414.6h1.7v1.7h-1.7zM449.9 409.8h1.7v1.7h-1.7zM444.3 415.3h1.7v1.7h-1.7zM441.6 416.3h1.7v1.7h-1.7zM447.1 416.4h1.7v1.7h-1.7zM447.1 408.9h1.7v1.7h-1.7zM450.0 410.7h1.7v1.7h-1.7zM449.3 415.2h1.7v1.7h-1.7zM449.7 402.5h1.7v1.7h-1.7zM452.8 412.4h1.7v1.7h-1.7zM447.4 416.9h1.7v1.7h-1.7zM448.5 407.6h1.7v1.7h-1.7zM451.0 416.5h1.7v1.7h-1.7zM439.5 416.8h1.7v1.7h-1.7zM444.1 415.5h1.7v1.7h-1.7zM427.4 417.0h1.7v1.7h-1.7zM454.1 415.7h1.7v1.7h-1.7zM440.5 417.0h1.7v1.7h-1.7zM454.4 413.9h1.7v1.7h-1.7zM445.5 417.5h1.7v1.7h-1.7zM444.7 415.8h1.7v1.7h-1.7zM437.5 411.1h1.7v1.7h-1.7zM452.6 416.4h1.7v1.7h-1.7zM449.8 411.8h1.7v1.7h-1.7zM452.8 416.6h1.7v1.7h-1.7zM444.3 416.9h1.7v1.7h-1.7zM435.7 413.8h1.7v1.7h-1.7zM441.9 415.7h1.7v1.7h-1.7zM454.2 404.8h1.7v1.7h-1.7zM440.8 417.0h1.7v1.7h-1.7zM453.7 409.8h1.7v1.7h-1.7zM443.6 417.2h1.7v1.7h-1.7zM454.3 416.7h1.7v1.7h-1.7zM443.6 407.3h1.7v1.7h-1.7zM435.9 413.5h1.7v1.7h-1.7zM446.0 413.9h1.7v1.7h-1.7zM434.9 415.1h1.7v1.7h-1.7zM452.2 410.9h1.7v1.7h-1.7zM447.5 416.6h1.7v1.7h-1.7zM453.5 417.7h1.7v1.7h-1.7zM427.6 417.0h1.7v1.7h-1.7zM442.8 415.3h1.7v1.7h-1.7zM436.8 413.3h1.7v1.7h-1.7zM438.8 417.6h1.7v1.7h-1.7zM447.5 414.1h1.7v1.7h-1.7zM428.2 415.6h1.7v1.7h-1.7zM432.9 417.2h1.7v1.7h-1.7zM447.3 413.1h1.7v1.7h-1.7zM437.6 409.7h1.7v1.7h-1.7zM450.1 412.9h1.7v1.7h-1.7zM450.2 417.5h1.7v1.7h-1.7zM440.7 414.2h1.7v1.7h-1.7zM439.4 413.3h1.7v1.7h-1.7zM428.5 416.7h1.7v1.7h-1.7zM442.4 416.0h1.7v1.7h-1.7zM446.2 417.7h1.7v1.7h-1.7zM447.1 417.2h1.7v1.7h-1.7zM452.1 413.5h1.7v1.7h-1.7zM446.3 413.1h1.7v1.7h-1.7zM449.6 416.4h1.7v1.7h-1.7zM441.0 417.0h1.7v1.7h-1.7zM447.9 413.9h1.7v1.7h-1.7zM438.5 412.0h1.7v1.7h-1.7zM441.2 412.0h1.7v1.7h-1.7zM430.5 417.3h1.7v1.7h-1.7zM438.6 411.0h1.7v1.7h-1.7zM449.6 412.3h1.7v1.7h-1.7zM449.7 415.1h1.7v1.7h-1.7zM446.1 415.7h1.7v1.7h-1.7zM431.2 416.8h1.7v1.7h-1.7zM449.3 415.5h1.7v1.7h-1.7zM454.2 416.8h1.7v1.7h-1.7zM445.5 415.2h1.7v1.7h-1.7zM454.0 417.4h1.7v1.7h-1.7zM443.9 417.6h1.7v1.7h-1.7zM445.5 408.9h1.7v1.7h-1.7zM443.0 415.1h1.7v1.7h-1.7zM444.0 417.0h1.7v1.7h-1.7zM448.3 415.6h1.7v1.7h-1.7zM448.6 415.8h1.7v1.7h-1.7zM453.0 412.9h1.7v1.7h-1.7zM453.4 413.4h1.7v1.7h-1.7zM439.3 411.8h1.7v1.7h-1.7zM447.1 415.2h1.7v1.7h-1.7zM449.3 404.0h1.7v1.7h-1.7zM446.9 417.6h1.7v1.7h-1.7zM435.6 417.5h1.7v1.7h-1.7zM445.5 414.0h1.7v1.7h-1.7zM451.5 412.6h1.7v1.7h-1.7zM445.9 414.6h1.7v1.7h-1.7zM436.0 415.6h1.7v1.7h-1.7zM442.2 417.5h1.7v1.7h-1.7zM451.1 415.2h1.7v1.7h-1.7zM430.4 417.7h1.7v1.7h-1.7zM447.5 417.5h1.7v1.7h-1.7zM452.3 415.4h1.7v1.7h-1.7zM436.2 417.5h1.7v1.7h-1.7zM440.6 414.6h1.7v1.7h-1.7zM447.5 416.1h1.7v1.7h-1.7zM443.9 415.1h1.7v1.7h-1.7zM439.9 417.6h1.7v1.7h-1.7zM453.0 417.5h1.7v1.7h-1.7zM448.4 415.5h1.7v1.7h-1.7zM449.9 415.9h1.7v1.7h-1.7zM454.1 415.0h1.7v1.7h-1.7zM431.1 415.3h1.7v1.7h-1.7zM436.2 416.6h1.7v1.7h-1.7zM445.6 405.4h1.7v1.7h-1.7zM449.1 417.3h1.7v1.7h-1.7zM451.7 409.7h1.7v1.7h-1.7zM446.6 415.5h1.7v1.7h-1.7zM444.3 411.6h1.7v1.7h-1.7zM448.1 416.7h1.7v1.7h-1.7zM449.7 415.6h1.7v1.7h-1.7zM436.3 416.9h1.7v1.7h-1.7zM442.4 416.8h1.7v1.7h-1.7zM449.5 414.2h1.7v1.7h-1.7zM445.9 413.2h1.7v1.7h-1.7zM449.1 415.6h1.7v1.7h-1.7zM430.2 417.0h1.7v1.7h-1.7zM450.5 416.0h1.7v1.7h-1.7zM428.2 416.1h1.7v1.7h-1.7zM434.9 416.9h1.7v1.7h-1.7zM445.2 416.7h1.7v1.7h-1.7zM437.2 415.3h1.7v1.7h-1.7zM437.9 415.6h1.7v1.7h-1.7zM449.1 415.7h1.7v1.7h-1.7zM449.7 412.4h1.7v1.7h-1.7zM447.5 415.2h1.7v1.7h-1.7zM443.7 414.4h1.7v1.7h-1.7zM453.2 417.7h1.7v1.7h-1.7zM436.9 417.2h1.7v1.7h-1.7zM444.3 415.1h1.7v1.7h-1.7zM452.4 400.3h1.7v1.7h-1.7zM442.7 411.5h1.7v1.7h-1.7zM439.8 414.0h1.7v1.7h-1.7zM448.7 411.4h1.7v1.7h-1.7zM442.1 414.6h1.7v1.7h-1.7zM444.4 413.7h1.7v1.7h-1.7zM454.2 416.5h1.7v1.7h-1.7zM438.8 415.2h1.7v1.7h-1.7zM440.6 407.8h1.7v1.7h-1.7zM448.9 417.2h1.7v1.7h-1.7zM452.5 412.4h1.7v1.7h-1.7zM444.1 409.4h1.7v1.7h-1.7zM452.2 414.7h1.7v1.7h-1.7zM439.2 416.3h1.7v1.7h-1.7zM446.2 410.8h1.7v1.7h-1.7zM440.0 415.3h1.7v1.7h-1.7zM449.3 415.8h1.7v1.7h-1.7zM433.5 417.5h1.7v1.7h-1.7zM444.1 415.7h1.7v1.7h-1.7zM446.3 403.0h1.7v1.7h-1.7zM427.6 417.3h1.7v1.7h-1.7zM442.0 414.2h1.7v1.7h-1.7zM445.5 414.2h1.7v1.7h-1.7zM449.9 413.4h1.7v1.7h-1.7zM449.0 416.6h1.7v1.7h-1.7zM444.2 416.5h1.7v1.7h-1.7zM452.0 415.9h1.7v1.7h-1.7zM453.9 413.1h1.7v1.7h-1.7zM448.4 410.7h1.7v1.7h-1.7zM446.2 409.4h1.7v1.7h-1.7zM454.5 417.2h1.7v1.7h-1.7zM447.0 417.5h1.7v1.7h-1.7zM449.2 416.7h1.7v1.7h-1.7zM435.6 416.6h1.7v1.7h-1.7zM453.6 410.4h1.7v1.7h-1.7zM451.9 409.9h1.7v1.7h-1.7zM450.0 413.3h1.7v1.7h-1.7zM436.4 417.0h1.7v1.7h-1.7zM448.5 415.5h1.7v1.7h-1.7zM448.7 416.4h1.7v1.7h-1.7zM434.0 416.5h1.7v1.7h-1.7zM446.7 414.8h1.7v1.7h-1.7zM446.0 417.0h1.7v1.7h-1.7zM453.9 413.5h1.7v1.7h-1.7zM436.4 417.0h1.7v1.7h-1.7zM429.5 417.1h1.7v1.7h-1.7zM434.1 414.0h1.7v1.7h-1.7zM445.1 414.4h1.7v1.7h-1.7zM449.2 413.4h1.7v1.7h-1.7zM444.7 417.1h1.7v1.7h-1.7zM436.5 417.3h1.7v1.7h-1.7zM438.2 416.8h1.7v1.7h-1.7zM452.0 417.6h1.7v1.7h-1.7zM435.6 415.7h1.7v1.7h-1.7zM433.3 416.6h1.7v1.7h-1.7zM445.7 415.1h1.7v1.7h-1.7zM451.6 416.0h1.7v1.7h-1.7zM452.5 400.5h1.7v1.7h-1.7zM435.2 417.6h1.7v1.7h-1.7zM440.5 417.5h1.7v1.7h-1.7zM436.2 417.4h1.7v1.7h-1.7zM452.1 416.5h1.7v1.7h-1.7zM445.3 416.6h1.7v1.7h-1.7zM438.5 416.5h1.7v1.7h-1.7zM450.8 416.1h1.7v1.7h-1.7zM439.6 416.8h1.7v1.7h-1.7zM454.5 416.4h1.7v1.7h-1.7zM444.6 417.7h1.7v1.7h-1.7zM448.6 416.7h1.7v1.7h-1.7zM439.6 417.5h1.7v1.7h-1.7zM446.9 415.5h1.7v1.7h-1.7zM443.4 416.7h1.7v1.7h-1.7zM439.3 415.7h1.7v1.7h-1.7zM441.5 415.2h1.7v1.7h-1.7zM449.5 415.8h1.7v1.7h-1.7zM441.3 416.6h1.7v1.7h-1.7zM441.1 416.0h1.7v1.7h-1.7zM454.2 414.4h1.7v1.7h-1.7zM448.5 416.9h1.7v1.7h-1.7zM429.9 417.7h1.7v1.7h-1.7zM453.6 410.9h1.7v1.7h-1.7zM451.7 413.9h1.7v1.7h-1.7zM452.8 409.3h1.7v1.7h-1.7zM446.9 412.0h1.7v1.7h-1.7zM447.1 413.3h1.7v1.7h-1.7zM437.7 416.6h1.7v1.7h-1.7zM442.4 412.4h1.7v1.7h-1.7zM445.4 403.6h1.7v1.7h-1.7zM434.8 417.6h1.7v1.7h-1.7zM443.2 417.0h1.7v1.7h-1.7zM439.8 416.2h1.7v1.7h-1.7zM451.8 416.3h1.7v1.7h-1.7zM445.2 404.1h1.7v1.7h-1.7zM443.5 417.5h1.7v1.7h-1.7zM452.6 417.1h1.7v1.7h-1.7zM454.5 415.5h1.7v1.7h-1.7zM450.8 414.6h1.7v1.7h-1.7zM450.1 407.4h1.7v1.7h-1.7zM435.9 416.2h1.7v1.7h-1.7zM446.5 415.0h1.7v1.7h-1.7zM448.3 409.9h1.7v1.7h-1.7zM442.7 414.9h1.7v1.7h-1.7zM451.8 414.6h1.7v1.7h-1.7zM441.8 416.7h1.7v1.7h-1.7zM439.6 417.7h1.7v1.7h-1.7zM446.6 417.0h1.7v1.7h-1.7zM449.9 417.5h1.7v1.7h-1.7zM447.6 413.0h1.7v1.7h-1.7zM439.4 416.0h1.7v1.7h-1.7zM428.5 417.6h1.7v1.7h-1.7zM448.4 412.0h1.7v1.7h-1.7zM447.5 413.5h1.7v1.7h-1.7zM454.3 417.6h1.7v1.7h-1.7zM450.4 411.7h1.7v1.7h-1.7zM449.4 417.6h1.7v1.7h-1.7zM448.3 417.1h1.7v1.7h-1.7zM424.7 417.4h1.7v1.7h-1.7zM449.6 416.7h1.7v1.7h-1.7zM450.9 413.9h1.7v1.7h-1.7zM447.8 414.6h1.7v1.7h-1.7zM451.3 414.5h1.7v1.7h-1.7zM453.1 415.7h1.7v1.7h-1.7zM450.5 413.0h1.7v1.7h-1.7zM446.4 417.1h1.7v1.7h-1.7zM429.3 417.4h1.7v1.7h-1.7zM453.6 407.0h1.7v1.7h-1.7zM452.5 416.9h1.7v1.7h-1.7zM450.6 416.7h1.7v1.7h-1.7zM448.8 413.5h1.7v1.7h-1.7zM432.1 412.5h1.7v1.7h-1.7zM446.4 416.2h1.7v1.7h-1.7zM439.8 415.0h1.7v1.7h-1.7zM450.4 415.2h1.7v1.7h-1.7zM454.4 415.6h1.7v1.7h-1.7zM450.8 417.6h1.7v1.7h-1.7zM453.8 400.1h1.7v1.7h-1.7zM447.1 417.2h1.7v1.7h-1.7zM446.8 414.9h1.7v1.7h-1.7zM448.0 415.4h1.7v1.7h-1.7zM450.7 415.1h1.7v1.7h-1.7zM453.0 416.6h1.7v1.7h-1.7zM439.1 417.3h1.7v1.7h-1.7zM453.8 409.1h1.7v1.7h-1.7zM449.8 417.6h1.7v1.7h-1.7zM449.5 411.0h1.7v1.7h-1.7zM442.0 415.3h1.7v1.7h-1.7zM454.0 412.1h1.7v1.7h-1.7zM434.3 417.7h1.7v1.7h-1.7zM451.5 417.1h1.7v1.7h-1.7zM448.5 417.6h1.7v1.7h-1.7zM430.4 417.2h1.7v1.7h-1.7zM450.2 417.4h1.7v1.7h-1.7zM432.3 416.5h1.7v1.7h-1.7zM447.8 409.4h1.7v1.7h-1.7zM448.8 416.6h1.7v1.7h-1.7zM453.2 416.9h1.7v1.7h-1.7zM448.4 414.2h1.7v1.7h-1.7zM449.3 417.1h1.7v1.7h-1.7zM447.3 416.2h1.7v1.7h-1.7zM441.6 417.4h1.7v1.7h-1.7zM441.5 416.6h1.7v1.7h-1.7zM448.6 415.5h1.7v1.7h-1.7zM438.5 417.3h1.7v1.7h-1.7zM450.5 416.2h1.7v1.7h-1.7zM429.5 416.7h1.7v1.7h-1.7zM453.1 415.6h1.7v1.7h-1.7zM427.1 417.6h1.7v1.7h-1.7zM447.2 416.2h1.7v1.7h-1.7zM451.5 412.9h1.7v1.7h-1.7zM443.4 411.4h1.7v1.7h-1.7zM445.1 416.7h1.7v1.7h-1.7zM452.1 412.1h1.7v1.7h-1.7zM450.6 407.9h1.7v1.7h-1.7zM436.4 417.4h1.7v1.7h-1.7zM436.1 415.2h1.7v1.7h-1.7zM440.0 417.5h1.7v1.7h-1.7zM435.0 414.5h1.7v1.7h-1.7zM452.0 415.9h1.7v1.7h-1.7zM430.7 415.0h1.7v1.7h-1.7zM435.9 416.3h1.7v1.7h-1.7zM441.0 415.2h1.7v1.7h-1.7zM426.1 414.7h1.7v1.7h-1.7zM447.0 415.1h1.7v1.7h-1.7zM445.0 417.3h1.7v1.7h-1.7zM453.7 413.5h1.7v1.7h-1.7zM450.3 416.5h1.7v1.7h-1.7zM447.3 417.1h1.7v1.7h-1.7zM439.8 416.4h1.7v1.7h-1.7zM432.5 417.3h1.7v1.7h-1.7zM426.9 417.3h1.7v1.7h-1.7zM451.9 410.2h1.7v1.7h-1.7zM447.2 417.0h1.7v1.7h-1.7zM444.3 417.7h1.7v1.7h-1.7zM450.7 417.7h1.7v1.7h-1.7zM443.8 416.9h1.7v1.7h-1.7zM454.4 405.2h1.7v1.7h-1.7zM437.1 417.3h1.7v1.7h-1.7zM447.0 415.6h1.7v1.7h-1.7zM450.5 407.4h1.7v1.7h-1.7zM431.2 417.1h1.7v1.7h-1.7zM449.6 416.4h1.7v1.7h-1.7zM443.5 414.1h1.7v1.7h-1.7zM436.8 417.4h1.7v1.7h-1.7zM450.3 412.0h1.7v1.7h-1.7zM446.6 414.7h1.7v1.7h-1.7zM452.9 417.0h1.7v1.7h-1.7zM442.4 417.2h1.7v1.7h-1.7zM451.8 412.5h1.7v1.7h-1.7zM438.4 410.8h1.7v1.7h-1.7zM446.7 417.6h1.7v1.7h-1.7zM451.9 415.3h1.7v1.7h-1.7zM452.7 410.5h1.7v1.7h-1.7zM448.4 411.1h1.7v1.7h-1.7zM440.7 416.7h1.7v1.7h-1.7zM441.5 417.7h1.7v1.7h-1.7zM443.3 417.1h1.7v1.7h-1.7zM447.5 417.5h1.7v1.7h-1.7zM453.2 414.5h1.7v1.7h-1.7zM443.2 413.1h1.7v1.7h-1.7zM442.8 416.7h1.7v1.7h-1.7zM441.5 414.6h1.7v1.7h-1.7zM442.3 412.3h1.7v1.7h-1.7zM439.6 413.4h1.7v1.7h-1.7zM449.3 413.7h1.7v1.7h-1.7zM444.8 413.5h1.7v1.7h-1.7zM453.0 413.5h1.7v1.7h-1.7zM452.8 415.0h1.7v1.7h-1.7zM454.2 416.4h1.7v1.7h-1.7zM443.0 415.9h1.7v1.7h-1.7zM446.0 417.6h1.7v1.7h-1.7zM443.4 414.7h1.7v1.7h-1.7zM442.5 405.9h1.7v1.7h-1.7zM451.9 415.3h1.7v1.7h-1.7zM445.0 415.7h1.7v1.7h-1.7zM450.5 408.2h1.7v1.7h-1.7zM443.2 416.0h1.7v1.7h-1.7zM443.6 416.6h1.7v1.7h-1.7zM446.3 398.7h1.7v1.7h-1.7zM450.6 413.4h1.7v1.7h-1.7zM451.7 417.1h1.7v1.7h-1.7zM447.1 414.8h1.7v1.7h-1.7zM444.4 413.7h1.7v1.7h-1.7zM445.1 416.4h1.7v1.7h-1.7zM451.1 409.2h1.7v1.7h-1.7zM454.1 408.2h1.7v1.7h-1.7zM452.8 415.0h1.7v1.7h-1.7zM450.2 409.5h1.7v1.7h-1.7zM449.8 412.7h1.7v1.7h-1.7zM438.0 417.3h1.7v1.7h-1.7zM447.5 415.8h1.7v1.7h-1.7zM451.5 406.9h1.7v1.7h-1.7zM452.2 416.1h1.7v1.7h-1.7zM441.6 417.5h1.7v1.7h-1.7zM438.1 417.7h1.7v1.7h-1.7zM446.7 410.4h1.7v1.7h-1.7zM443.5 413.5h1.7v1.7h-1.7zM453.6 413.8h1.7v1.7h-1.7zM451.0 415.3h1.7v1.7h-1.7zM446.1 417.0h1.7v1.7h-1.7zM429.2 416.6h1.7v1.7h-1.7zM430.2 414.2h1.7v1.7h-1.7zM442.4 415.3h1.7v1.7h-1.7zM446.3 410.5h1.7v1.7h-1.7zM437.1 414.8h1.7v1.7h-1.7zM440.8 417.4h1.7v1.7h-1.7zM451.0 414.7h1.7v1.7h-1.7zM431.7 417.4h1.7v1.7h-1.7zM447.1 415.2h1.7v1.7h-1.7zM451.6 412.4h1.7v1.7h-1.7zM447.9 413.0h1.7v1.7h-1.7zM448.1 413.7h1.7v1.7h-1.7zM443.8 414.2h1.7v1.7h-1.7zM448.7 417.4h1.7v1.7h-1.7zM453.2 417.0h1.7v1.7h-1.7zM448.1 414.3h1.7v1.7h-1.7zM442.1 416.6h1.7v1.7h-1.7zM449.5 404.5h1.7v1.7h-1.7zM449.1 414.5h1.7v1.7h-1.7zM441.6 415.5h1.7v1.7h-1.7zM441.0 415.5h1.7v1.7h-1.7zM452.5 409.1h1.7v1.7h-1.7zM438.2 410.8h1.7v1.7h-1.7zM440.1 416.7h1.7v1.7h-1.7zM445.0 416.2h1.7v1.7h-1.7zM443.0 416.6h1.7v1.7h-1.7zM441.6 416.7h1.7v1.7h-1.7zM442.3 414.9h1.7v1.7h-1.7zM436.9 414.3h1.7v1.7h-1.7zM441.6 417.0h1.7v1.7h-1.7zM443.3 416.7h1.7v1.7h-1.7zM437.2 413.0h1.7v1.7h-1.7zM441.9 416.9h1.7v1.7h-1.7zM450.2 417.2h1.7v1.7h-1.7zM450.4 413.9h1.7v1.7h-1.7zM450.6 416.6h1.7v1.7h-1.7zM451.4 412.2h1.7v1.7h-1.7zM450.8 416.1h1.7v1.7h-1.7zM430.2 417.0h1.7v1.7h-1.7zM451.6 415.6h1.7v1.7h-1.7zM445.1 416.8h1.7v1.7h-1.7zM454.2 413.3h1.7v1.7h-1.7zM451.6 411.3h1.7v1.7h-1.7zM450.9 417.3h1.7v1.7h-1.7zM447.6 417.5h1.7v1.7h-1.7zM450.3 417.7h1.7v1.7h-1.7zM438.8 416.5h1.7v1.7h-1.7zM446.0 417.6h1.7v1.7h-1.7zM448.4 415.9h1.7v1.7h-1.7zM435.1 417.0h1.7v1.7h-1.7zM429.0 414.9h1.7v1.7h-1.7zM444.0 417.4h1.7v1.7h-1.7zM443.0 413.4h1.7v1.7h-1.7zM441.6 417.5h1.7v1.7h-1.7zM446.3 417.4h1.7v1.7h-1.7zM448.6 401.0h1.7v1.7h-1.7zM450.8 414.4h1.7v1.7h-1.7zM430.6 416.0h1.7v1.7h-1.7zM436.5 415.9h1.7v1.7h-1.7zM434.0 416.1h1.7v1.7h-1.7zM451.0 417.1h1.7v1.7h-1.7zM442.4 415.9h1.7v1.7h-1.7zM452.2 412.7h1.7v1.7h-1.7zM448.7 412.3h1.7v1.7h-1.7zM440.1 413.9h1.7v1.7h-1.7zM448.9 417.6h1.7v1.7h-1.7zM450.9 417.1h1.7v1.7h-1.7zM444.6 416.1h1.7v1.7h-1.7zM451.9 415.2h1.7v1.7h-1.7zM445.6 413.2h1.7v1.7h-1.7zM450.7 416.2h1.7v1.7h-1.7zM442.3 417.7h1.7v1.7h-1.7zM436.7 416.3h1.7v1.7h-1.7zM433.8 417.6h1.7v1.7h-1.7zM440.8 417.0h1.7v1.7h-1.7zM452.7 413.2h1.7v1.7h-1.7zM438.6 416.7h1.7v1.7h-1.7zM446.5 415.8h1.7v1.7h-1.7zM453.5 416.5h1.7v1.7h-1.7zM452.0 417.2h1.7v1.7h-1.7zM449.5 417.0h1.7v1.7h-1.7zM439.0 417.7h1.7v1.7h-1.7zM451.3 400.7h1.7v1.7h-1.7zM448.6 417.2h1.7v1.7h-1.7zM444.5 412.8h1.7v1.7h-1.7zM447.1 413.2h1.7v1.7h-1.7zM453.5 410.4h1.7v1.7h-1.7zM447.0 417.3h1.7v1.7h-1.7zM451.4 417.0h1.7v1.7h-1.7zM451.5 408.2h1.7v1.7h-1.7zM429.0 417.0h1.7v1.7h-1.7zM446.8 416.9h1.7v1.7h-1.7zM446.5 414.5h1.7v1.7h-1.7zM450.7 415.6h1.7v1.7h-1.7zM434.2 416.8h1.7v1.7h-1.7zM443.2 416.1h1.7v1.7h-1.7zM452.2 413.0h1.7v1.7h-1.7zM452.0 414.4h1.7v1.7h-1.7zM444.2 417.3h1.7v1.7h-1.7zM443.2 416.6h1.7v1.7h-1.7zM451.2 417.6h1.7v1.7h-1.7zM443.5 410.1h1.7v1.7h-1.7zM448.5 411.5h1.7v1.7h-1.7zM444.3 416.5h1.7v1.7h-1.7zM452.6 416.2h1.7v1.7h-1.7zM444.1 412.7h1.7v1.7h-1.7zM442.4 416.5h1.7v1.7h-1.7zM452.0 417.7h1.7v1.7h-1.7zM449.5 412.5h1.7v1.7h-1.7zM452.2 411.4h1.7v1.7h-1.7zM435.4 417.6h1.7v1.7h-1.7zM450.6 412.2h1.7v1.7h-1.7zM444.9 413.9h1.7v1.7h-1.7zM450.3 416.1h1.7v1.7h-1.7zM442.1 416.2h1.7v1.7h-1.7zM452.0 411.0h1.7v1.7h-1.7zM445.6 410.2h1.7v1.7h-1.7zM430.1 414.5h1.7v1.7h-1.7zM436.6 417.4h1.7v1.7h-1.7zM446.5 412.6h1.7v1.7h-1.7zM454.1 417.2h1.7v1.7h-1.7zM450.3 410.9h1.7v1.7h-1.7zM442.3 414.9h1.7v1.7h-1.7zM447.2 411.2h1.7v1.7h-1.7zM430.0 416.9h1.7v1.7h-1.7zM445.2 416.7h1.7v1.7h-1.7zM451.5 415.6h1.7v1.7h-1.7zM439.5 414.1h1.7v1.7h-1.7zM448.9 417.5h1.7v1.7h-1.7zM454.0 415.9h1.7v1.7h-1.7zM435.1 417.3h1.7v1.7h-1.7zM451.0 415.7h1.7v1.7h-1.7zM453.1 414.4h1.7v1.7h-1.7zM442.0 416.9h1.7v1.7h-1.7zM445.4 417.7h1.7v1.7h-1.7zM449.6 415.3h1.7v1.7h-1.7zM444.9 416.4h1.7v1.7h-1.7zM454.1 416.2h1.7v1.7h-1.7zM450.7 416.4h1.7v1.7h-1.7zM452.3 415.1h1.7v1.7h-1.7zM452.6 417.7h1.7v1.7h-1.7zM446.3 415.9h1.7v1.7h-1.7zM446.7 415.4h1.7v1.7h-1.7zM449.1 412.3h1.7v1.7h-1.7zM453.7 414.2h1.7v1.7h-1.7zM443.5 414.0h1.7v1.7h-1.7zM454.1 414.7h1.7v1.7h-1.7zM448.6 410.0h1.7v1.7h-1.7zM432.5 416.0h1.7v1.7h-1.7zM448.4 415.1h1.7v1.7h-1.7zM442.7 415.5h1.7v1.7h-1.7zM432.6 415.0h1.7v1.7h-1.7zM451.0 417.5h1.7v1.7h-1.7zM454.3 413.7h1.7v1.7h-1.7zM437.9 413.1h1.7v1.7h-1.7zM441.6 416.6h1.7v1.7h-1.7zM450.4 406.6h1.7v1.7h-1.7zM446.7 417.3h1.7v1.7h-1.7zM441.3 414.4h1.7v1.7h-1.7zM435.0 417.2h1.7v1.7h-1.7zM453.2 408.6h1.7v1.7h-1.7zM446.0 413.7h1.7v1.7h-1.7zM454.2 408.4h1.7v1.7h-1.7zM452.9 417.4h1.7v1.7h-1.7zM445.1 414.1h1.7v1.7h-1.7zM454.1 405.8h1.7v1.7h-1.7zM450.3 414.9h1.7v1.7h-1.7zM441.1 416.8h1.7v1.7h-1.7zM451.7 417.3h1.7v1.7h-1.7zM433.5 417.6h1.7v1.7h-1.7zM436.1 416.7h1.7v1.7h-1.7zM451.9 417.3h1.7v1.7h-1.7zM436.8 417.0h1.7v1.7h-1.7zM443.1 416.2h1.7v1.7h-1.7zM447.3 414.8h1.7v1.7h-1.7zM428.7 415.2h1.7v1.7h-1.7zM444.4 412.8h1.7v1.7h-1.7zM453.3 415.1h1.7v1.7h-1.7zM445.6 414.6h1.7v1.7h-1.7zM445.8 403.2h1.7v1.7h-1.7zM447.7 416.5h1.7v1.7h-1.7zM449.4 416.9h1.7v1.7h-1.7zM453.9 412.0h1.7v1.7h-1.7zM452.7 416.6h1.7v1.7h-1.7zM451.6 416.6h1.7v1.7h-1.7zM448.7 416.7h1.7v1.7h-1.7zM429.6 417.6h1.7v1.7h-1.7zM438.6 416.4h1.7v1.7h-1.7zM447.9 413.1h1.7v1.7h-1.7zM453.0 416.4h1.7v1.7h-1.7zM440.3 416.1h1.7v1.7h-1.7zM449.0 414.2h1.7v1.7h-1.7zM445.5 417.3h1.7v1.7h-1.7zM446.4 416.9h1.7v1.7h-1.7zM453.0 404.2h1.7v1.7h-1.7zM428.6 415.8h1.7v1.7h-1.7zM446.1 411.9h1.7v1.7h-1.7zM447.8 417.5h1.7v1.7h-1.7zM440.6 414.7h1.7v1.7h-1.7zM442.8 417.6h1.7v1.7h-1.7zM434.9 417.6h1.7v1.7h-1.7zM452.9 408.4h1.7v1.7h-1.7zM440.8 406.9h1.7v1.7h-1.7zM437.5 415.7h1.7v1.7h-1.7zM448.7 413.6h1.7v1.7h-1.7zM443.0 417.6h1.7v1.7h-1.7zM441.9 412.1h1.7v1.7h-1.7zM451.0 415.4h1.7v1.7h-1.7zM433.2 417.4h1.7v1.7h-1.7zM437.3 416.3h1.7v1.7h-1.7zM449.1 417.3h1.7v1.7h-1.7zM442.5 417.0h1.7v1.7h-1.7zM454.3 416.6h1.7v1.7h-1.7zM452.3 412.9h1.7v1.7h-1.7zM442.3 411.6h1.7v1.7h-1.7zM453.5 409.1h1.7v1.7h-1.7zM452.4 413.9h1.7v1.7h-1.7zM452.7 415.9h1.7v1.7h-1.7zM438.1 416.9h1.7v1.7h-1.7zM438.6 417.6h1.7v1.7h-1.7zM446.9 414.1h1.7v1.7h-1.7zM439.4 415.7h1.7v1.7h-1.7zM445.1 412.9h1.7v1.7h-1.7zM433.3 411.0h1.7v1.7h-1.7zM449.0 415.6h1.7v1.7h-1.7zM438.1 415.7h1.7v1.7h-1.7zM453.0 409.4h1.7v1.7h-1.7zM445.9 417.7h1.7v1.7h-1.7zM447.2 412.0h1.7v1.7h-1.7zM429.8 416.7h1.7v1.7h-1.7zM429.9 415.5h1.7v1.7h-1.7zM449.4 415.5h1.7v1.7h-1.7zM442.1 416.5h1.7v1.7h-1.7zM443.9 416.6h1.7v1.7h-1.7zM453.8 402.5h1.7v1.7h-1.7zM451.7 417.3h1.7v1.7h-1.7zM436.4 417.1h1.7v1.7h-1.7zM449.7 414.4h1.7v1.7h-1.7zM450.8 415.6h1.7v1.7h-1.7zM451.0 403.1h1.7v1.7h-1.7zM444.2 417.1h1.7v1.7h-1.7zM446.1 417.7h1.7v1.7h-1.7zM452.9 416.2h1.7v1.7h-1.7zM446.7 415.6h1.7v1.7h-1.7zM448.5 415.2h1.7v1.7h-1.7zM453.1 417.5h1.7v1.7h-1.7zM439.8 416.8h1.7v1.7h-1.7zM449.8 412.4h1.7v1.7h-1.7zM433.0 416.0h1.7v1.7h-1.7zM434.6 415.6h1.7v1.7h-1.7zM441.0 417.6h1.7v1.7h-1.7zM441.0 413.5h1.7v1.7h-1.7zM440.0 407.7h1.7v1.7h-1.7zM453.4 414.2h1.7v1.7h-1.7zM447.6 414.5h1.7v1.7h-1.7zM449.4 405.3h1.7v1.7h-1.7zM450.6 415.0h1.7v1.7h-1.7zM450.6 415.9h1.7v1.7h-1.7zM426.0 416.7h1.7v1.7h-1.7zM454.0 416.2h1.7v1.7h-1.7zM446.1 414.9h1.7v1.7h-1.7zM447.0 410.2h1.7v1.7h-1.7zM438.5 408.2h1.7v1.7h-1.7zM433.8 417.3h1.7v1.7h-1.7zM437.2 414.5h1.7v1.7h-1.7zM441.2 417.6h1.7v1.7h-1.7zM446.1 417.4h1.7v1.7h-1.7zM448.6 413.4h1.7v1.7h-1.7zM452.6 414.7h1.7v1.7h-1.7zM433.2 417.7h1.7v1.7h-1.7zM454.4 408.1h1.7v1.7h-1.7zM448.7 415.7h1.7v1.7h-1.7zM441.8 417.7h1.7v1.7h-1.7zM453.5 414.5h1.7v1.7h-1.7zM451.3 407.6h1.7v1.7h-1.7zM451.9 412.6h1.7v1.7h-1.7zM449.2 413.4h1.7v1.7h-1.7zM444.7 415.3h1.7v1.7h-1.7zM436.4 416.8h1.7v1.7h-1.7zM445.0 416.8h1.7v1.7h-1.7zM453.0 408.5h1.7v1.7h-1.7zM442.5 416.6h1.7v1.7h-1.7zM437.8 417.3h1.7v1.7h-1.7zM439.3 409.2h1.7v1.7h-1.7zM454.3 413.8h1.7v1.7h-1.7zM447.9 417.6h1.7v1.7h-1.7zM451.8 414.0h1.7v1.7h-1.7zM433.0 417.2h1.7v1.7h-1.7zM433.8 417.4h1.7v1.7h-1.7zM453.3 417.6h1.7v1.7h-1.7zM447.9 415.5h1.7v1.7h-1.7zM444.5 409.2h1.7v1.7h-1.7zM449.0 416.4h1.7v1.7h-1.7zM447.7 417.4h1.7v1.7h-1.7zM441.5 417.7h1.7v1.7h-1.7zM435.7 417.7h1.7v1.7h-1.7zM439.0 415.2h1.7v1.7h-1.7zM452.5 410.4h1.7v1.7h-1.7zM436.4 415.4h1.7v1.7h-1.7zM454.3 402.6h1.7v1.7h-1.7zM447.6 409.6h1.7v1.7h-1.7zM441.3 417.6h1.7v1.7h-1.7zM447.6 416.2h1.7v1.7h-1.7zM450.8 416.4h1.7v1.7h-1.7zM452.2 417.6h1.7v1.7h-1.7zM446.4 417.5h1.7v1.7h-1.7zM446.9 416.3h1.7v1.7h-1.7zM450.9 414.1h1.7v1.7h-1.7zM442.3 415.0h1.7v1.7h-1.7zM442.4 417.6h1.7v1.7h-1.7zM446.1 416.0h1.7v1.7h-1.7zM451.2 411.0h1.7v1.7h-1.7zM445.8 416.9h1.7v1.7h-1.7zM437.9 417.7h1.7v1.7h-1.7zM441.3 415.8h1.7v1.7h-1.7zM436.0 412.6h1.7v1.7h-1.7zM450.2 413.3h1.7v1.7h-1.7zM453.2 415.0h1.7v1.7h-1.7zM446.7 416.7h1.7v1.7h-1.7zM449.6 413.4h1.7v1.7h-1.7zM452.8 415.5h1.7v1.7h-1.7zM448.8 408.2h1.7v1.7h-1.7zM452.7 409.9h1.7v1.7h-1.7zM445.8 405.1h1.7v1.7h-1.7zM446.4 417.2h1.7v1.7h-1.7zM450.3 416.9h1.7v1.7h-1.7zM426.2 417.7h1.7v1.7h-1.7zM451.0 411.5h1.7v1.7h-1.7zM451.0 414.2h1.7v1.7h-1.7zM448.7 414.2h1.7v1.7h-1.7zM453.7 417.1h1.7v1.7h-1.7zM443.8 414.9h1.7v1.7h-1.7zM442.6 413.6h1.7v1.7h-1.7zM451.5 416.3h1.7v1.7h-1.7zM448.8 417.2h1.7v1.7h-1.7zM451.7 409.7h1.7v1.7h-1.7zM454.4 412.7h1.7v1.7h-1.7zM449.6 408.9h1.7v1.7h-1.7zM441.6 413.4h1.7v1.7h-1.7zM444.2 417.1h1.7v1.7h-1.7zM435.4 417.0h1.7v1.7h-1.7zM435.4 416.7h1.7v1.7h-1.7zM447.5 403.6h1.7v1.7h-1.7zM451.4 409.8h1.7v1.7h-1.7zM442.2 409.0h1.7v1.7h-1.7zM453.5 406.7h1.7v1.7h-1.7zM429.7 417.4h1.7v1.7h-1.7zM451.3 413.3h1.7v1.7h-1.7zM451.6 405.6h1.7v1.7h-1.7zM447.8 414.9h1.7v1.7h-1.7zM454.3 417.4h1.7v1.7h-1.7zM449.8 415.8h1.7v1.7h-1.7zM453.4 410.5h1.7v1.7h-1.7zM453.0 415.2h1.7v1.7h-1.7zM431.1 417.0h1.7v1.7h-1.7zM434.6 416.4h1.7v1.7h-1.7zM447.4 416.0h1.7v1.7h-1.7zM446.4 417.5h1.7v1.7h-1.7zM444.0 417.4h1.7v1.7h-1.7zM443.5 417.4h1.7v1.7h-1.7zM448.5 411.7h1.7v1.7h-1.7zM436.0 416.4h1.7v1.7h-1.7zM439.2 417.4h1.7v1.7h-1.7zM450.8 414.4h1.7v1.7h-1.7zM431.9 416.4h1.7v1.7h-1.7zM452.0 416.9h1.7v1.7h-1.7zM451.8 415.5h1.7v1.7h-1.7zM438.5 415.9h1.7v1.7h-1.7zM430.7 417.4h1.7v1.7h-1.7zM439.9 416.6h1.7v1.7h-1.7zM450.1 407.8h1.7v1.7h-1.7zM452.4 417.7h1.7v1.7h-1.7zM446.7 417.7h1.7v1.7h-1.7zM446.0 417.2h1.7v1.7h-1.7zM431.8 417.7h1.7v1.7h-1.7zM446.5 414.8h1.7v1.7h-1.7zM450.4 408.6h1.7v1.7h-1.7zM454.4 413.6h1.7v1.7h-1.7zM444.8 416.8h1.7v1.7h-1.7zM454.0 408.8h1.7v1.7h-1.7zM445.3 414.4h1.7v1.7h-1.7zM446.0 408.3h1.7v1.7h-1.7zM447.6 414.9h1.7v1.7h-1.7zM453.8 416.1h1.7v1.7h-1.7zM437.3 417.5h1.7v1.7h-1.7zM438.6 417.2h1.7v1.7h-1.7zM450.5 417.4h1.7v1.7h-1.7zM453.4 411.7h1.7v1.7h-1.7zM448.0 416.7h1.7v1.7h-1.7zM436.3 414.6h1.7v1.7h-1.7zM433.5 415.1h1.7v1.7h-1.7zM438.3 412.2h1.7v1.7h-1.7zM452.5 413.7h1.7v1.7h-1.7zM445.3 416.3h1.7v1.7h-1.7zM449.3 414.7h1.7v1.7h-1.7zM454.2 408.9h1.7v1.7h-1.7zM437.4 415.3h1.7v1.7h-1.7zM454.1 415.7h1.7v1.7h-1.7zM451.7 415.5h1.7v1.7h-1.7zM445.9 415.5h1.7v1.7h-1.7zM442.1 415.4h1.7v1.7h-1.7zM437.5 416.2h1.7v1.7h-1.7zM448.6 415.0h1.7v1.7h-1.7zM454.0 415.2h1.7v1.7h-1.7zM448.4 410.3h1.7v1.7h-1.7zM445.1 415.2h1.7v1.7h-1.7zM451.3 414.9h1.7v1.7h-1.7zM447.3 412.7h1.7v1.7h-1.7zM452.4 417.4h1.7v1.7h-1.7zM453.2 416.8h1.7v1.7h-1.7zM444.9 417.1h1.7v1.7h-1.7zM441.7 417.3h1.7v1.7h-1.7zM447.5 414.4h1.7v1.7h-1.7zM441.0 416.2h1.7v1.7h-1.7zM444.7 415.0h1.7v1.7h-1.7zM450.8 413.3h1.7v1.7h-1.7zM441.7 417.2h1.7v1.7h-1.7zM452.9 402.4h1.7v1.7h-1.7zM438.7 415.8h1.7v1.7h-1.7zM435.0 417.2h1.7v1.7h-1.7zM448.4 416.2h1.7v1.7h-1.7zM436.7 415.4h1.7v1.7h-1.7zM446.5 417.1h1.7v1.7h-1.7zM434.3 409.3h1.7v1.7h-1.7zM444.8 414.9h1.7v1.7h-1.7zM450.7 417.7h1.7v1.7h-1.7zM451.2 414.3h1.7v1.7h-1.7zM451.3 411.8h1.7v1.7h-1.7zM438.3 416.6h1.7v1.7h-1.7zM453.7 413.4h1.7v1.7h-1.7zM438.2 416.2h1.7v1.7h-1.7zM446.9 417.4h1.7v1.7h-1.7zM441.2 415.1h1.7v1.7h-1.7zM450.9 404.3h1.7v1.7h-1.7zM442.4 416.1h1.7v1.7h-1.7zM447.3 416.3h1.7v1.7h-1.7zM442.1 417.3h1.7v1.7h-1.7zM448.8 413.4h1.7v1.7h-1.7zM449.7 417.1h1.7v1.7h-1.7zM426.4 415.9h1.7v1.7h-1.7zM450.2 417.7h1.7v1.7h-1.7zM428.6 417.1h1.7v1.7h-1.7zM450.8 413.9h1.7v1.7h-1.7zM447.6 416.3h1.7v1.7h-1.7zM452.8 415.3h1.7v1.7h-1.7zM450.5 414.8h1.7v1.7h-1.7zM450.2 415.4h1.7v1.7h-1.7zM434.4 416.3h1.7v1.7h-1.7zM447.6 416.5h1.7v1.7h-1.7zM439.0 417.1h1.7v1.7h-1.7zM450.0 414.8h1.7v1.7h-1.7zM452.1 413.5h1.7v1.7h-1.7zM451.8 415.1h1.7v1.7h-1.7zM452.9 416.6h1.7v1.7h-1.7zM447.7 415.8h1.7v1.7h-1.7zM440.2 417.0h1.7v1.7h-1.7zM446.9 414.7h1.7v1.7h-1.7zM433.5 415.3h1.7v1.7h-1.7zM451.0 416.7h1.7v1.7h-1.7zM439.6 416.9h1.7v1.7h-1.7zM452.4 416.5h1.7v1.7h-1.7zM451.6 413.2h1.7v1.7h-1.7zM442.0 417.0h1.7v1.7h-1.7zM448.5 410.7h1.7v1.7h-1.7zM447.3 415.9h1.7v1.7h-1.7zM441.7 415.9h1.7v1.7h-1.7zM445.4 415.4h1.7v1.7h-1.7zM427.3 416.4h1.7v1.7h-1.7zM443.6 417.5h1.7v1.7h-1.7zM452.4 417.5h1.7v1.7h-1.7zM454.4 410.2h1.7v1.7h-1.7zM454.1 416.9h1.7v1.7h-1.7zM451.7 415.0h1.7v1.7h-1.7zM453.2 417.0h1.7v1.7h-1.7zM452.6 417.7h1.7v1.7h-1.7zM444.7 415.8h1.7v1.7h-1.7zM451.1 404.3h1.7v1.7h-1.7zM440.5 415.7h1.7v1.7h-1.7zM435.6 413.7h1.7v1.7h-1.7zM450.4 416.0h1.7v1.7h-1.7zM446.7 415.7h1.7v1.7h-1.7zM433.5 416.8h1.7v1.7h-1.7zM437.2 417.3h1.7v1.7h-1.7zM432.9 417.3h1.7v1.7h-1.7zM453.4 414.0h1.7v1.7h-1.7zM447.1 417.1h1.7v1.7h-1.7zM449.7 415.2h1.7v1.7h-1.7zM451.3 413.2h1.7v1.7h-1.7zM446.6 415.0h1.7v1.7h-1.7zM454.3 415.9h1.7v1.7h-1.7zM444.1 416.1h1.7v1.7h-1.7zM447.1 417.5h1.7v1.7h-1.7zM454.1 413.2h1.7v1.7h-1.7zM452.0 417.4h1.7v1.7h-1.7zM452.6 414.5h1.7v1.7h-1.7zM451.4 412.0h1.7v1.7h-1.7zM445.7 416.0h1.7v1.7h-1.7zM443.7 403.5h1.7v1.7h-1.7zM440.1 415.6h1.7v1.7h-1.7zM440.5 415.0h1.7v1.7h-1.7zM449.5 411.2h1.7v1.7h-1.7zM452.5 411.5h1.7v1.7h-1.7zM445.7 417.4h1.7v1.7h-1.7zM444.7 417.2h1.7v1.7h-1.7zM444.2 415.4h1.7v1.7h-1.7zM448.5 415.8h1.7v1.7h-1.7zM426.4 416.1h1.7v1.7h-1.7zM442.2 414.1h1.7v1.7h-1.7zM450.1 415.2h1.7v1.7h-1.7zM449.6 413.9h1.7v1.7h-1.7zM450.9 408.0h1.7v1.7h-1.7zM450.6 414.9h1.7v1.7h-1.7zM444.9 416.5h1.7v1.7h-1.7zM438.5 417.7h1.7v1.7h-1.7zM441.5 416.2h1.7v1.7h-1.7zM447.8 413.3h1.7v1.7h-1.7zM454.0 416.5h1.7v1.7h-1.7zM447.1 414.8h1.7v1.7h-1.7zM449.4 415.7h1.7v1.7h-1.7zM449.4 412.2h1.7v1.7h-1.7zM443.0 415.6h1.7v1.7h-1.7zM443.5 417.0h1.7v1.7h-1.7zM446.0 416.7h1.7v1.7h-1.7zM441.6 414.5h1.7v1.7h-1.7zM450.2 417.1h1.7v1.7h-1.7zM450.4 416.8h1.7v1.7h-1.7zM450.2 417.2h1.7v1.7h-1.7zM428.7 414.2h1.7v1.7h-1.7zM450.5 416.0h1.7v1.7h-1.7zM435.1 416.0h1.7v1.7h-1.7zM453.0 417.6h1.7v1.7h-1.7zM454.1 416.6h1.7v1.7h-1.7zM450.1 412.2h1.7v1.7h-1.7zM453.6 414.7h1.7v1.7h-1.7zM445.8 412.9h1.7v1.7h-1.7zM442.9 417.2h1.7v1.7h-1.7zM445.7 417.5h1.7v1.7h-1.7zM449.0 414.6h1.7v1.7h-1.7zM441.0 416.3h1.7v1.7h-1.7zM444.4 414.8h1.7v1.7h-1.7zM442.9 416.4h1.7v1.7h-1.7zM446.5 411.1h1.7v1.7h-1.7zM442.2 407.1h1.7v1.7h-1.7zM444.9 414.4h1.7v1.7h-1.7zM436.3 416.3h1.7v1.7h-1.7zM454.5 412.9h1.7v1.7h-1.7zM449.0 416.7h1.7v1.7h-1.7zM443.0 415.3h1.7v1.7h-1.7zM444.7 416.1h1.7v1.7h-1.7zM453.9 412.5h1.7v1.7h-1.7zM444.4 411.6h1.7v1.7h-1.7zM450.2 415.5h1.7v1.7h-1.7zM445.1 416.1h1.7v1.7h-1.7zM441.0 414.3h1.7v1.7h-1.7zM439.7 414.2h1.7v1.7h-1.7zM449.6 415.6h1.7v1.7h-1.7zM433.4 416.2h1.7v1.7h-1.7zM445.7 416.1h1.7v1.7h-1.7zM433.8 416.5h1.7v1.7h-1.7zM443.2 417.7h1.7v1.7h-1.7zM453.1 416.4h1.7v1.7h-1.7zM425.4 417.6h1.7v1.7h-1.7zM450.2 409.1h1.7v1.7h-1.7zM433.6 417.3h1.7v1.7h-1.7zM450.9 417.7h1.7v1.7h-1.7zM451.2 416.4h1.7v1.7h-1.7zM451.5 406.7h1.7v1.7h-1.7zM444.2 412.7h1.7v1.7h-1.7zM434.7 417.4h1.7v1.7h-1.7zM449.2 416.1h1.7v1.7h-1.7zM454.4 414.7h1.7v1.7h-1.7zM450.5 413.6h1.7v1.7h-1.7zM445.5 417.3h1.7v1.7h-1.7zM454.4 413.9h1.7v1.7h-1.7zM450.4 414.4h1.7v1.7h-1.7zM451.7 406.8h1.7v1.7h-1.7zM442.4 414.5h1.7v1.7h-1.7zM432.4 417.5h1.7v1.7h-1.7zM444.4 416.8h1.7v1.7h-1.7zM439.2 411.2h1.7v1.7h-1.7zM449.4 413.7h1.7v1.7h-1.7zM426.9 417.1h1.7v1.7h-1.7zM446.2 417.0h1.7v1.7h-1.7zM453.3 409.6h1.7v1.7h-1.7zM437.7 416.2h1.7v1.7h-1.7zM454.1 415.0h1.7v1.7h-1.7zM441.0 416.7h1.7v1.7h-1.7zM448.6 416.7h1.7v1.7h-1.7zM451.2 417.3h1.7v1.7h-1.7zM440.1 414.8h1.7v1.7h-1.7zM452.1 415.7h1.7v1.7h-1.7zM441.1 415.2h1.7v1.7h-1.7zM445.1 416.8h1.7v1.7h-1.7zM445.6 412.1h1.7v1.7h-1.7zM448.0 416.8h1.7v1.7h-1.7zM437.2 417.4h1.7v1.7h-1.7zM449.1 413.1h1.7v1.7h-1.7zM447.9 416.2h1.7v1.7h-1.7zM444.7 416.6h1.7v1.7h-1.7zM450.0 415.9h1.7v1.7h-1.7zM449.1 417.4h1.7v1.7h-1.7zM451.4 412.9h1.7v1.7h-1.7zM443.8 416.2h1.7v1.7h-1.7zM430.2 416.3h1.7v1.7h-1.7zM450.6 410.8h1.7v1.7h-1.7zM430.8 417.1h1.7v1.7h-1.7zM440.2 415.7h1.7v1.7h-1.7zM444.2 416.6h1.7v1.7h-1.7zM449.7 414.2h1.7v1.7h-1.7zM434.5 417.6h1.7v1.7h-1.7zM453.6 415.4h1.7v1.7h-1.7zM431.6 416.4h1.7v1.7h-1.7zM452.4 417.1h1.7v1.7h-1.7zM450.1 414.2h1.7v1.7h-1.7zM446.9 416.0h1.7v1.7h-1.7zM441.9 417.0h1.7v1.7h-1.7zM451.0 416.3h1.7v1.7h-1.7zM443.8 417.0h1.7v1.7h-1.7zM451.6 414.7h1.7v1.7h-1.7zM440.8 417.6h1.7v1.7h-1.7zM429.6 417.3h1.7v1.7h-1.7zM452.2 413.0h1.7v1.7h-1.7zM440.7 415.2h1.7v1.7h-1.7zM451.3 417.0h1.7v1.7h-1.7zM452.4 416.3h1.7v1.7h-1.7zM450.5 417.3h1.7v1.7h-1.7zM445.6 417.7h1.7v1.7h-1.7zM434.6 417.5h1.7v1.7h-1.7zM451.5 417.4h1.7v1.7h-1.7zM453.9 417.1h1.7v1.7h-1.7zM449.7 415.3h1.7v1.7h-1.7zM448.4 415.3h1.7v1.7h-1.7zM434.4 416.6h1.7v1.7h-1.7zM452.5 410.7h1.7v1.7h-1.7zM452.5 415.7h1.7v1.7h-1.7zM451.9 415.5h1.7v1.7h-1.7zM449.5 414.9h1.7v1.7h-1.7zM451.9 406.7h1.7v1.7h-1.7zM450.7 407.1h1.7v1.7h-1.7zM439.5 414.9h1.7v1.7h-1.7zM454.5 413.6h1.7v1.7h-1.7zM447.3 414.4h1.7v1.7h-1.7zM453.5 415.2h1.7v1.7h-1.7zM453.0 416.3h1.7v1.7h-1.7zM451.4 417.3h1.7v1.7h-1.7zM453.4 416.3h1.7v1.7h-1.7zM440.9 414.2h1.7v1.7h-1.7zM444.7 416.3h1.7v1.7h-1.7zM453.3 417.7h1.7v1.7h-1.7zM451.5 404.9h1.7v1.7h-1.7zM453.3 408.8h1.7v1.7h-1.7zM427.1 417.0h1.7v1.7h-1.7zM446.7 414.1h1.7v1.7h-1.7zM444.4 415.1h1.7v1.7h-1.7zM446.7 416.1h1.7v1.7h-1.7zM448.2 414.1h1.7v1.7h-1.7zM445.5 417.1h1.7v1.7h-1.7zM441.9 415.9h1.7v1.7h-1.7zM453.7 417.5h1.7v1.7h-1.7zM453.6 417.0h1.7v1.7h-1.7zM435.5 416.7h1.7v1.7h-1.7zM438.1 415.1h1.7v1.7h-1.7zM454.0 411.3h1.7v1.7h-1.7zM442.9 416.4h1.7v1.7h-1.7zM452.2 412.0h1.7v1.7h-1.7zM441.2 417.0h1.7v1.7h-1.7zM452.4 414.4h1.7v1.7h-1.7zM452.0 414.9h1.7v1.7h-1.7zM430.8 416.3h1.7v1.7h-1.7zM439.1 412.2h1.7v1.7h-1.7zM446.1 414.8h1.7v1.7h-1.7zM440.2 416.6h1.7v1.7h-1.7zM453.7 416.9h1.7v1.7h-1.7zM447.6 415.3h1.7v1.7h-1.7zM434.4 417.7h1.7v1.7h-1.7zM437.6 415.7h1.7v1.7h-1.7zM439.6 417.3h1.7v1.7h-1.7zM447.3 415.4h1.7v1.7h-1.7zM452.3 415.2h1.7v1.7h-1.7zM449.8 417.0h1.7v1.7h-1.7zM446.4 417.2h1.7v1.7h-1.7zM437.8 415.6h1.7v1.7h-1.7zM450.1 416.7h1.7v1.7h-1.7zM442.5 416.2h1.7v1.7h-1.7zM450.8 407.7h1.7v1.7h-1.7zM446.6 413.4h1.7v1.7h-1.7zM443.7 414.1h1.7v1.7h-1.7zM452.9 412.2h1.7v1.7h-1.7zM450.3 412.6h1.7v1.7h-1.7zM449.7 412.8h1.7v1.7h-1.7zM451.0 417.0h1.7v1.7h-1.7zM449.6 414.1h1.7v1.7h-1.7zM438.6 417.6h1.7v1.7h-1.7zM441.7 417.5h1.7v1.7h-1.7zM439.9 417.7h1.7v1.7h-1.7zM434.5 416.2h1.7v1.7h-1.7zM442.4 417.1h1.7v1.7h-1.7zM434.6 414.8h1.7v1.7h-1.7zM443.3 414.5h1.7v1.7h-1.7zM449.2 417.7h1.7v1.7h-1.7zM435.3 417.4h1.7v1.7h-1.7zM441.7 417.7h1.7v1.7h-1.7zM427.3 417.6h1.7v1.7h-1.7zM452.5 416.5h1.7v1.7h-1.7zM434.3 417.6h1.7v1.7h-1.7zM435.2 413.8h1.7v1.7h-1.7zM429.3 416.8h1.7v1.7h-1.7zM437.6 415.7h1.7v1.7h-1.7zM444.5 412.7h1.7v1.7h-1.7zM453.7 401.5h1.7v1.7h-1.7zM440.4 416.3h1.7v1.7h-1.7zM438.4 414.6h1.7v1.7h-1.7zM448.9 414.6h1.7v1.7h-1.7zM445.6 410.9h1.7v1.7h-1.7zM451.1 409.6h1.7v1.7h-1.7zM452.9 413.9h1.7v1.7h-1.7zM452.2 413.8h1.7v1.7h-1.7zM439.7 414.9h1.7v1.7h-1.7zM450.7 412.3h1.7v1.7h-1.7zM445.8 416.0h1.7v1.7h-1.7zM439.0 417.2h1.7v1.7h-1.7zM452.8 412.2h1.7v1.7h-1.7zM443.3 415.6h1.7v1.7h-1.7zM452.8 411.3h1.7v1.7h-1.7zM450.9 412.4h1.7v1.7h-1.7zM443.7 417.6h1.7v1.7h-1.7zM436.5 417.2h1.7v1.7h-1.7zM444.8 412.8h1.7v1.7h-1.7zM452.2 416.8h1.7v1.7h-1.7zM441.5 417.6h1.7v1.7h-1.7zM453.4 417.6h1.7v1.7h-1.7zM441.7 415.8h1.7v1.7h-1.7zM444.4 417.5h1.7v1.7h-1.7zM441.0 416.9h1.7v1.7h-1.7zM449.1 416.9h1.7v1.7h-1.7zM446.9 416.3h1.7v1.7h-1.7zM443.1 415.4h1.7v1.7h-1.7zM450.1 414.3h1.7v1.7h-1.7zM446.0 416.8h1.7v1.7h-1.7zM454.3 413.7h1.7v1.7h-1.7zM446.4 413.6h1.7v1.7h-1.7zM450.0 408.7h1.7v1.7h-1.7zM440.5 408.0h1.7v1.7h-1.7zM451.6 416.5h1.7v1.7h-1.7zM443.6 415.1h1.7v1.7h-1.7zM449.4 417.4h1.7v1.7h-1.7zM449.1 414.0h1.7v1.7h-1.7zM434.0 415.2h1.7v1.7h-1.7zM436.9 416.4h1.7v1.7h-1.7zM448.9 417.6h1.7v1.7h-1.7zM445.7 417.4h1.7v1.7h-1.7zM447.6 417.7h1.7v1.7h-1.7zM447.3 405.0h1.7v1.7h-1.7zM439.4 416.5h1.7v1.7h-1.7zM440.4 409.9h1.7v1.7h-1.7zM442.7 415.1h1.7v1.7h-1.7zM448.0 417.7h1.7v1.7h-1.7zM400.8 409.6h1.7v1.7h-1.7zM402.1 409.9h1.7v1.7h-1.7zM403.6 410.4h1.7v1.7h-1.7zM405.6 411.1h1.7v1.7h-1.7zM407.1 411.6h1.7v1.7h-1.7zM412.3 412.9h1.7v1.7h-1.7zM413.4 413.3h1.7v1.7h-1.7zM414.6 413.6h1.7v1.7h-1.7z"/>
<path fill="#6cc462" d="M444.4 404.6h1.5v1.5h-1.5zM448.8 409.2h1.5v1.5h-1.5zM449.8 399.6h1.5v1.5h-1.5zM452.0 395.7h1.5v1.5h-1.5zM440.8 411.9h1.5v1.5h-1.5zM446.6 402.1h1.5v1.5h-1.5zM432.0 411.1h1.5v1.5h-1.5zM453.6 399.9h1.5v1.5h-1.5zM451.2 408.2h1.5v1.5h-1.5zM448.3 405.1h1.5v1.5h-1.5zM446.8 410.3h1.5v1.5h-1.5zM443.4 410.8h1.5v1.5h-1.5zM431.2 413.8h1.5v1.5h-1.5zM436.9 409.4h1.5v1.5h-1.5zM443.3 408.5h1.5v1.5h-1.5zM448.0 408.8h1.5v1.5h-1.5zM450.5 401.6h1.5v1.5h-1.5zM442.8 404.2h1.5v1.5h-1.5zM442.5 408.9h1.5v1.5h-1.5zM448.4 398.9h1.5v1.5h-1.5zM448.4 404.7h1.5v1.5h-1.5zM448.7 410.0h1.5v1.5h-1.5zM449.7 408.1h1.5v1.5h-1.5zM454.2 400.4h1.5v1.5h-1.5zM445.9 404.7h1.5v1.5h-1.5zM452.5 404.4h1.5v1.5h-1.5zM453.4 396.0h1.5v1.5h-1.5zM450.6 403.6h1.5v1.5h-1.5zM449.6 401.8h1.5v1.5h-1.5zM445.1 410.4h1.5v1.5h-1.5zM446.8 406.1h1.5v1.5h-1.5zM449.8 408.9h1.5v1.5h-1.5zM429.3 414.4h1.5v1.5h-1.5zM445.6 405.3h1.5v1.5h-1.5zM450.0 406.9h1.5v1.5h-1.5zM449.1 402.5h1.5v1.5h-1.5zM454.4 397.4h1.5v1.5h-1.5zM451.6 397.2h1.5v1.5h-1.5zM445.8 408.9h1.5v1.5h-1.5zM430.7 413.4h1.5v1.5h-1.5zM440.1 407.6h1.5v1.5h-1.5zM444.1 406.1h1.5v1.5h-1.5zM453.7 407.1h1.5v1.5h-1.5zM445.1 410.8h1.5v1.5h-1.5zM449.8 398.5h1.5v1.5h-1.5zM452.0 395.6h1.5v1.5h-1.5zM434.2 410.4h1.5v1.5h-1.5zM427.8 415.6h1.5v1.5h-1.5zM445.5 407.9h1.5v1.5h-1.5zM446.4 410.2h1.5v1.5h-1.5zM454.5 401.1h1.5v1.5h-1.5zM452.2 402.1h1.5v1.5h-1.5zM451.3 397.2h1.5v1.5h-1.5zM425.3 413.5h1.5v1.5h-1.5zM450.8 399.4h1.5v1.5h-1.5zM443.1 404.4h1.5v1.5h-1.5zM441.9 409.2h1.5v1.5h-1.5zM437.5 412.3h1.5v1.5h-1.5zM449.1 401.1h1.5v1.5h-1.5zM451.5 405.7h1.5v1.5h-1.5zM431.0 411.7h1.5v1.5h-1.5zM454.3 394.3h1.5v1.5h-1.5zM451.6 398.9h1.5v1.5h-1.5zM434.9 409.6h1.5v1.5h-1.5zM439.4 407.6h1.5v1.5h-1.5zM446.1 405.0h1.5v1.5h-1.5zM432.1 413.8h1.5v1.5h-1.5zM448.1 404.4h1.5v1.5h-1.5zM446.9 403.5h1.5v1.5h-1.5zM435.6 414.1h1.5v1.5h-1.5zM450.0 404.6h1.5v1.5h-1.5zM437.2 408.6h1.5v1.5h-1.5zM448.4 401.8h1.5v1.5h-1.5zM453.4 394.0h1.5v1.5h-1.5zM439.6 407.9h1.5v1.5h-1.5zM444.8 405.0h1.5v1.5h-1.5zM439.2 405.0h1.5v1.5h-1.5zM454.1 395.0h1.5v1.5h-1.5zM432.8 410.6h1.5v1.5h-1.5zM445.1 402.8h1.5v1.5h-1.5zM449.6 407.2h1.5v1.5h-1.5zM454.6 404.4h1.5v1.5h-1.5zM442.3 410.2h1.5v1.5h-1.5zM427.8 413.2h1.5v1.5h-1.5zM438.7 408.6h1.5v1.5h-1.5zM441.3 404.4h1.5v1.5h-1.5zM449.6 397.5h1.5v1.5h-1.5zM452.0 404.9h1.5v1.5h-1.5zM438.3 411.1h1.5v1.5h-1.5zM440.3 410.2h1.5v1.5h-1.5zM435.6 407.3h1.5v1.5h-1.5zM441.8 411.6h1.5v1.5h-1.5zM439.7 405.0h1.5v1.5h-1.5zM439.4 407.1h1.5v1.5h-1.5zM453.5 405.9h1.5v1.5h-1.5zM448.8 407.0h1.5v1.5h-1.5zM444.3 410.2h1.5v1.5h-1.5zM449.7 408.7h1.5v1.5h-1.5zM445.2 410.1h1.5v1.5h-1.5zM432.7 411.6h1.5v1.5h-1.5zM442.4 407.2h1.5v1.5h-1.5zM453.1 396.7h1.5v1.5h-1.5zM428.5 411.5h1.5v1.5h-1.5zM450.7 399.6h1.5v1.5h-1.5zM446.3 400.4h1.5v1.5h-1.5zM442.0 411.8h1.5v1.5h-1.5zM438.5 405.8h1.5v1.5h-1.5zM445.5 409.7h1.5v1.5h-1.5zM449.2 400.1h1.5v1.5h-1.5zM441.3 407.5h1.5v1.5h-1.5zM452.4 406.0h1.5v1.5h-1.5zM451.1 401.4h1.5v1.5h-1.5zM453.7 407.0h1.5v1.5h-1.5zM449.0 406.2h1.5v1.5h-1.5zM444.6 409.8h1.5v1.5h-1.5zM448.7 409.3h1.5v1.5h-1.5zM435.0 410.0h1.5v1.5h-1.5zM429.1 410.5h1.5v1.5h-1.5zM442.1 408.9h1.5v1.5h-1.5zM441.8 404.6h1.5v1.5h-1.5zM440.0 405.1h1.5v1.5h-1.5zM444.2 401.8h1.5v1.5h-1.5zM445.6 410.4h1.5v1.5h-1.5zM444.1 406.0h1.5v1.5h-1.5zM451.4 404.4h1.5v1.5h-1.5zM434.8 414.3h1.5v1.5h-1.5zM449.5 406.5h1.5v1.5h-1.5zM450.3 402.8h1.5v1.5h-1.5zM433.7 409.9h1.5v1.5h-1.5zM446.8 409.5h1.5v1.5h-1.5zM449.7 403.0h1.5v1.5h-1.5zM450.0 408.6h1.5v1.5h-1.5zM451.8 401.5h1.5v1.5h-1.5zM440.7 407.0h1.5v1.5h-1.5zM444.1 408.2h1.5v1.5h-1.5zM449.4 407.3h1.5v1.5h-1.5zM453.7 405.2h1.5v1.5h-1.5zM442.2 410.5h1.5v1.5h-1.5zM432.9 412.0h1.5v1.5h-1.5zM442.8 404.2h1.5v1.5h-1.5zM437.8 411.6h1.5v1.5h-1.5zM451.6 403.5h1.5v1.5h-1.5zM453.8 401.5h1.5v1.5h-1.5zM449.3 406.8h1.5v1.5h-1.5zM451.7 406.4h1.5v1.5h-1.5zM443.2 406.3h1.5v1.5h-1.5zM445.4 408.5h1.5v1.5h-1.5zM452.2 406.4h1.5v1.5h-1.5zM444.6 402.3h1.5v1.5h-1.5zM437.6 412.6h1.5v1.5h-1.5zM450.4 402.9h1.5v1.5h-1.5zM444.2 403.1h1.5v1.5h-1.5zM441.6 412.4h1.5v1.5h-1.5zM432.4 414.7h1.5v1.5h-1.5zM447.5 410.6h1.5v1.5h-1.5zM442.9 408.7h1.5v1.5h-1.5zM436.3 412.5h1.5v1.5h-1.5zM435.6 411.9h1.5v1.5h-1.5zM443.2 410.9h1.5v1.5h-1.5zM432.2 412.2h1.5v1.5h-1.5zM452.8 394.3h1.5v1.5h-1.5zM445.0 403.8h1.5v1.5h-1.5zM453.6 393.8h1.5v1.5h-1.5zM442.5 403.0h1.5v1.5h-1.5zM448.5 409.7h1.5v1.5h-1.5zM447.6 404.1h1.5v1.5h-1.5zM428.8 410.2h1.5v1.5h-1.5zM452.4 397.2h1.5v1.5h-1.5zM452.8 399.8h1.5v1.5h-1.5zM425.7 414.8h1.5v1.5h-1.5zM432.3 410.4h1.5v1.5h-1.5zM448.7 402.0h1.5v1.5h-1.5zM432.0 410.3h1.5v1.5h-1.5zM450.2 402.6h1.5v1.5h-1.5zM438.8 405.8h1.5v1.5h-1.5zM453.5 396.1h1.5v1.5h-1.5zM434.6 413.2h1.5v1.5h-1.5zM439.0 410.4h1.5v1.5h-1.5zM452.9 402.8h1.5v1.5h-1.5zM451.0 409.4h1.5v1.5h-1.5zM431.1 412.3h1.5v1.5h-1.5zM450.0 409.0h1.5v1.5h-1.5zM452.8 404.5h1.5v1.5h-1.5zM432.4 414.3h1.5v1.5h-1.5zM439.3 412.1h1.5v1.5h-1.5zM447.1 406.4h1.5v1.5h-1.5zM434.5 411.7h1.5v1.5h-1.5zM447.2 399.2h1.5v1.5h-1.5zM453.9 407.1h1.5v1.5h-1.5zM433.0 409.0h1.5v1.5h-1.5zM447.0 401.4h1.5v1.5h-1.5zM452.4 396.3h1.5v1.5h-1.5zM436.2 407.0h1.5v1.5h-1.5zM435.1 411.8h1.5v1.5h-1.5zM449.4 402.7h1.5v1.5h-1.5zM434.6 411.8h1.5v1.5h-1.5zM445.4 402.8h1.5v1.5h-1.5zM432.6 409.0h1.5v1.5h-1.5zM439.3 407.3h1.5v1.5h-1.5zM447.6 408.0h1.5v1.5h-1.5zM427.4 411.8h1.5v1.5h-1.5zM451.0 399.7h1.5v1.5h-1.5zM447.7 400.9h1.5v1.5h-1.5zM442.5 411.4h1.5v1.5h-1.5zM451.2 403.0h1.5v1.5h-1.5zM434.6 408.0h1.5v1.5h-1.5zM436.4 412.5h1.5v1.5h-1.5zM434.8 411.6h1.5v1.5h-1.5zM450.6 399.4h1.5v1.5h-1.5zM439.9 404.5h1.5v1.5h-1.5zM433.1 408.6h1.5v1.5h-1.5zM441.1 406.1h1.5v1.5h-1.5zM454.2 402.0h1.5v1.5h-1.5zM449.0 404.0h1.5v1.5h-1.5zM432.6 412.5h1.5v1.5h-1.5zM437.5 411.8h1.5v1.5h-1.5zM440.6 409.8h1.5v1.5h-1.5zM446.7 400.0h1.5v1.5h-1.5zM445.5 409.6h1.5v1.5h-1.5zM444.4 411.2h1.5v1.5h-1.5zM447.9 404.6h1.5v1.5h-1.5zM438.1 409.5h1.5v1.5h-1.5zM430.7 414.9h1.5v1.5h-1.5zM439.6 411.2h1.5v1.5h-1.5zM451.6 404.6h1.5v1.5h-1.5zM443.8 407.5h1.5v1.5h-1.5zM448.4 409.2h1.5v1.5h-1.5zM433.6 411.0h1.5v1.5h-1.5zM452.0 398.8h1.5v1.5h-1.5zM443.0 408.6h1.5v1.5h-1.5zM450.3 405.4h1.5v1.5h-1.5zM450.4 402.2h1.5v1.5h-1.5zM443.6 411.6h1.5v1.5h-1.5zM445.3 405.5h1.5v1.5h-1.5zM447.8 408.0h1.5v1.5h-1.5zM446.9 403.7h1.5v1.5h-1.5zM454.0 407.1h1.5v1.5h-1.5zM448.7 402.5h1.5v1.5h-1.5zM438.2 408.8h1.5v1.5h-1.5zM439.6 405.7h1.5v1.5h-1.5zM448.7 405.5h1.5v1.5h-1.5zM446.3 400.1h1.5v1.5h-1.5zM437.2 409.0h1.5v1.5h-1.5zM448.1 406.3h1.5v1.5h-1.5zM444.9 409.1h1.5v1.5h-1.5zM448.4 402.6h1.5v1.5h-1.5zM444.4 402.2h1.5v1.5h-1.5zM439.5 413.1h1.5v1.5h-1.5zM453.0 403.2h1.5v1.5h-1.5zM448.9 398.7h1.5v1.5h-1.5zM431.8 413.9h1.5v1.5h-1.5zM450.0 405.2h1.5v1.5h-1.5zM451.4 399.2h1.5v1.5h-1.5zM444.3 405.5h1.5v1.5h-1.5zM452.9 403.5h1.5v1.5h-1.5zM452.0 395.2h1.5v1.5h-1.5zM447.2 399.1h1.5v1.5h-1.5zM447.2 403.8h1.5v1.5h-1.5zM449.7 401.8h1.5v1.5h-1.5zM440.5 409.4h1.5v1.5h-1.5z"/>
<path fill="#7fcc70" d="M434.1 387.3h1.4v1.4h-1.4zM432.7 394.3h1.4v1.4h-1.4zM428.8 386.0h1.4v1.4h-1.4zM440.6 399.1h1.4v1.4h-1.4zM448.4 392.0h1.4v1.4h-1.4zM447.3 382.2h1.4v1.4h-1.4zM440.7 380.4h1.4v1.4h-1.4zM441.0 380.6h1.4v1.4h-1.4zM429.6 385.8h1.4v1.4h-1.4zM436.1 390.1h1.4v1.4h-1.4zM432.5 384.2h1.4v1.4h-1.4zM429.7 398.5h1.4v1.4h-1.4zM454.2 397.2h1.4v1.4h-1.4zM430.2 386.9h1.4v1.4h-1.4zM451.2 376.7h1.4v1.4h-1.4zM430.5 393.8h1.4v1.4h-1.4zM453.6 397.5h1.4v1.4h-1.4zM450.2 383.9h1.4v1.4h-1.4zM447.1 397.9h1.4v1.4h-1.4zM451.8 398.6h1.4v1.4h-1.4zM447.9 394.7h1.4v1.4h-1.4zM446.2 387.1h1.4v1.4h-1.4zM442.5 397.9h1.4v1.4h-1.4zM442.5 379.9h1.4v1.4h-1.4zM439.0 396.9h1.4v1.4h-1.4zM446.4 388.3h1.4v1.4h-1.4zM452.7 393.6h1.4v1.4h-1.4zM432.6 394.4h1.4v1.4h-1.4zM450.9 376.6h1.4v1.4h-1.4zM452.8 386.0h1.4v1.4h-1.4zM450.3 377.0h1.4v1.4h-1.4zM435.4 387.2h1.4v1.4h-1.4zM432.5 393.7h1.4v1.4h-1.4zM448.8 391.6h1.4v1.4h-1.4zM452.1 378.7h1.4v1.4h-1.4zM434.4 389.1h1.4v1.4h-1.4zM448.7 393.5h1.4v1.4h-1.4zM454.3 396.2h1.4v1.4h-1.4zM441.3 394.2h1.4v1.4h-1.4zM449.5 388.6h1.4v1.4h-1.4zM445.5 396.2h1.4v1.4h-1.4zM449.8 380.4h1.4v1.4h-1.4zM427.1 395.1h1.4v1.4h-1.4zM449.4 381.2h1.4v1.4h-1.4zM450.4 393.8h1.4v1.4h-1.4zM445.0 327.1h1.4v1.4h-1.4zM431.3 380.3h1.4v1.4h-1.4zM442.3 376.8h1.4v1.4h-1.4zM446.3 379.3h1.4v1.4h-1.4zM440.3 371.8h1.4v1.4h-1.4zM435.3 377.3h1.4v1.4h-1.4zM450.3 375.3h1.4v1.4h-1.4z"/>
<path fill="#dc1c5a" d="M463.1 416.9h1.7v1.7h-1.7zM466.8 417.6h1.7v1.7h-1.7zM463.5 416.5h1.7v1.7h-1.7zM471.8 417.6h1.7v1.7h-1.7zM463.4 411.4h1.7v1.7h-1.7zM463.9 415.7h1.7v1.7h-1.7zM466.7 417.0h1.7v1.7h-1.7zM462.6 410.6h1.7v1.7h-1.7zM467.5 417.7h1.7v1.7h-1.7zM475.2 416.9h1.7v1.7h-1.7zM466.7 417.1h1.7v1.7h-1.7zM465.8 416.2h1.7v1.7h-1.7zM466.8 417.1h1.7v1.7h-1.7zM471.5 415.4h1.7v1.7h-1.7zM464.2 417.0h1.7v1.7h-1.7zM469.8 414.6h1.7v1.7h-1.7zM465.5 416.2h1.7v1.7h-1.7zM472.1 417.1h1.7v1.7h-1.7zM473.6 417.3h1.7v1.7h-1.7zM470.7 416.7h1.7v1.7h-1.7zM463.4 413.7h1.7v1.7h-1.7zM468.4 415.8h1.7v1.7h-1.7zM466.8 417.1h1.7v1.7h-1.7zM462.3 414.1h1.7v1.7h-1.7zM462.3 412.7h1.7v1.7h-1.7zM463.3 413.9h1.7v1.7h-1.7zM463.4 416.7h1.7v1.7h-1.7zM464.6 412.6h1.7v1.7h-1.7zM463.2 413.4h1.7v1.7h-1.7zM464.5 414.5h1.7v1.7h-1.7zM465.5 415.3h1.7v1.7h-1.7zM470.1 417.4h1.7v1.7h-1.7zM463.3 412.5h1.7v1.7h-1.7zM462.8 416.3h1.7v1.7h-1.7zM461.9 417.7h1.7v1.7h-1.7zM473.8 416.6h1.7v1.7h-1.7zM469.8 417.7h1.7v1.7h-1.7zM466.7 415.6h1.7v1.7h-1.7zM463.7 414.0h1.7v1.7h-1.7zM464.9 417.1h1.7v1.7h-1.7zM462.9 414.1h1.7v1.7h-1.7zM466.5 412.0h1.7v1.7h-1.7zM466.4 416.6h1.7v1.7h-1.7zM467.5 416.9h1.7v1.7h-1.7zM469.9 415.4h1.7v1.7h-1.7zM470.4 415.2h1.7v1.7h-1.7zM471.5 417.5h1.7v1.7h-1.7zM468.9 417.5h1.7v1.7h-1.7zM463.9 411.4h1.7v1.7h-1.7zM466.9 417.6h1.7v1.7h-1.7zM469.7 413.1h1.7v1.7h-1.7zM472.2 417.6h1.7v1.7h-1.7zM463.0 414.7h1.7v1.7h-1.7zM469.4 417.4h1.7v1.7h-1.7zM463.2 417.3h1.7v1.7h-1.7zM467.0 415.0h1.7v1.7h-1.7zM469.5 415.6h1.7v1.7h-1.7zM468.8 417.1h1.7v1.7h-1.7zM466.8 415.5h1.7v1.7h-1.7zM472.8 417.4h1.7v1.7h-1.7zM466.8 416.8h1.7v1.7h-1.7zM463.4 417.1h1.7v1.7h-1.7zM462.6 417.7h1.7v1.7h-1.7zM467.7 413.7h1.7v1.7h-1.7zM464.8 417.6h1.7v1.7h-1.7zM464.8 413.4h1.7v1.7h-1.7zM461.9 416.4h1.7v1.7h-1.7zM461.9 416.5h1.7v1.7h-1.7zM471.3 417.7h1.7v1.7h-1.7zM468.8 415.6h1.7v1.7h-1.7zM469.4 409.6h1.7v1.7h-1.7zM461.9 416.5h1.7v1.7h-1.7zM473.6 417.1h1.7v1.7h-1.7zM462.9 411.0h1.7v1.7h-1.7zM468.7 417.2h1.7v1.7h-1.7zM475.3 417.3h1.7v1.7h-1.7zM468.7 414.8h1.7v1.7h-1.7zM468.0 415.4h1.7v1.7h-1.7zM463.0 414.8h1.7v1.7h-1.7zM479.7 417.7h1.7v1.7h-1.7zM478.5 416.4h1.7v1.7h-1.7zM463.6 416.1h1.7v1.7h-1.7zM472.5 416.2h1.7v1.7h-1.7zM471.7 415.3h1.7v1.7h-1.7zM464.5 416.4h1.7v1.7h-1.7zM462.3 415.7h1.7v1.7h-1.7zM472.4 416.1h1.7v1.7h-1.7zM465.2 416.0h1.7v1.7h-1.7zM462.0 413.6h1.7v1.7h-1.7zM465.6 413.7h1.7v1.7h-1.7zM468.3 417.7h1.7v1.7h-1.7zM465.9 416.7h1.7v1.7h-1.7zM466.6 415.2h1.7v1.7h-1.7zM466.8 417.4h1.7v1.7h-1.7zM464.2 416.4h1.7v1.7h-1.7zM479.1 416.9h1.7v1.7h-1.7zM476.2 416.9h1.7v1.7h-1.7zM467.6 417.4h1.7v1.7h-1.7zM476.0 417.6h1.7v1.7h-1.7zM462.4 415.6h1.7v1.7h-1.7zM462.8 416.3h1.7v1.7h-1.7zM470.2 417.4h1.7v1.7h-1.7zM466.5 417.6h1.7v1.7h-1.7zM470.4 416.8h1.7v1.7h-1.7zM463.2 415.4h1.7v1.7h-1.7zM467.8 414.4h1.7v1.7h-1.7zM464.1 416.9h1.7v1.7h-1.7zM463.3 410.2h1.7v1.7h-1.7zM465.7 413.1h1.7v1.7h-1.7zM466.8 416.8h1.7v1.7h-1.7zM465.2 412.7h1.7v1.7h-1.7zM476.2 416.4h1.7v1.7h-1.7zM471.0 416.2h1.7v1.7h-1.7zM474.1 417.6h1.7v1.7h-1.7zM472.9 416.4h1.7v1.7h-1.7zM462.8 414.8h1.7v1.7h-1.7zM463.1 416.9h1.7v1.7h-1.7zM465.0 415.1h1.7v1.7h-1.7zM464.5 416.3h1.7v1.7h-1.7zM467.1 417.0h1.7v1.7h-1.7zM463.3 413.7h1.7v1.7h-1.7zM463.9 417.3h1.7v1.7h-1.7zM477.9 417.6h1.7v1.7h-1.7zM466.0 417.2h1.7v1.7h-1.7zM466.0 414.7h1.7v1.7h-1.7zM470.3 417.5h1.7v1.7h-1.7zM462.0 416.6h1.7v1.7h-1.7zM463.7 410.4h1.7v1.7h-1.7zM469.2 415.5h1.7v1.7h-1.7zM465.2 417.3h1.7v1.7h-1.7zM470.7 416.3h1.7v1.7h-1.7zM463.1 415.8h1.7v1.7h-1.7zM472.8 416.4h1.7v1.7h-1.7zM470.1 415.7h1.7v1.7h-1.7zM476.4 416.6h1.7v1.7h-1.7zM476.8 417.3h1.7v1.7h-1.7zM465.5 410.8h1.7v1.7h-1.7zM477.8 417.5h1.7v1.7h-1.7zM467.6 416.4h1.7v1.7h-1.7zM469.9 414.9h1.7v1.7h-1.7zM464.9 413.2h1.7v1.7h-1.7zM466.2 416.1h1.7v1.7h-1.7zM471.6 417.1h1.7v1.7h-1.7zM473.1 413.3h1.7v1.7h-1.7zM471.9 416.2h1.7v1.7h-1.7zM464.3 416.8h1.7v1.7h-1.7zM462.9 416.6h1.7v1.7h-1.7zM467.5 416.9h1.7v1.7h-1.7zM465.2 416.5h1.7v1.7h-1.7zM465.0 410.5h1.7v1.7h-1.7zM463.2 415.6h1.7v1.7h-1.7zM462.5 416.5h1.7v1.7h-1.7zM469.3 416.7h1.7v1.7h-1.7zM466.8 412.1h1.7v1.7h-1.7zM472.0 416.6h1.7v1.7h-1.7zM474.1 417.1h1.7v1.7h-1.7zM464.9 416.0h1.7v1.7h-1.7zM464.1 417.5h1.7v1.7h-1.7zM467.9 416.6h1.7v1.7h-1.7zM465.9 417.7h1.7v1.7h-1.7zM471.2 415.5h1.7v1.7h-1.7zM469.8 417.4h1.7v1.7h-1.7zM464.1 416.8h1.7v1.7h-1.7zM462.8 414.3h1.7v1.7h-1.7zM471.3 415.0h1.7v1.7h-1.7zM464.1 417.7h1.7v1.7h-1.7zM461.7 417.5h1.7v1.7h-1.7zM464.7 416.9h1.7v1.7h-1.7zM464.8 417.4h1.7v1.7h-1.7zM465.6 416.3h1.7v1.7h-1.7zM467.0 414.6h1.7v1.7h-1.7zM465.1 417.7h1.7v1.7h-1.7zM469.1 416.6h1.7v1.7h-1.7zM469.8 417.2h1.7v1.7h-1.7zM465.6 415.5h1.7v1.7h-1.7zM469.9 416.2h1.7v1.7h-1.7zM461.8 414.0h1.7v1.7h-1.7zM476.5 415.5h1.7v1.7h-1.7zM473.9 416.3h1.7v1.7h-1.7zM466.8 417.3h1.7v1.7h-1.7zM473.1 417.5h1.7v1.7h-1.7zM465.8 417.7h1.7v1.7h-1.7zM467.9 415.2h1.7v1.7h-1.7zM465.4 411.8h1.7v1.7h-1.7zM465.8 417.3h1.7v1.7h-1.7zM464.2 413.7h1.7v1.7h-1.7zM466.5 416.7h1.7v1.7h-1.7zM471.5 416.2h1.7v1.7h-1.7zM465.7 417.2h1.7v1.7h-1.7zM463.7 417.0h1.7v1.7h-1.7zM465.4 414.2h1.7v1.7h-1.7zM465.8 417.5h1.7v1.7h-1.7zM467.6 416.1h1.7v1.7h-1.7zM464.6 408.3h1.7v1.7h-1.7zM467.6 416.6h1.7v1.7h-1.7zM463.4 416.9h1.7v1.7h-1.7zM461.7 417.4h1.7v1.7h-1.7zM464.6 417.3h1.7v1.7h-1.7zM464.4 417.4h1.7v1.7h-1.7zM462.3 416.8h1.7v1.7h-1.7zM471.8 417.3h1.7v1.7h-1.7zM463.1 415.4h1.7v1.7h-1.7zM470.3 417.5h1.7v1.7h-1.7zM467.3 417.1h1.7v1.7h-1.7zM469.7 416.0h1.7v1.7h-1.7zM463.1 417.6h1.7v1.7h-1.7zM464.5 412.9h1.7v1.7h-1.7zM463.0 416.5h1.7v1.7h-1.7zM462.0 414.8h1.7v1.7h-1.7zM464.2 417.7h1.7v1.7h-1.7zM474.6 417.2h1.7v1.7h-1.7zM465.7 407.9h1.7v1.7h-1.7zM463.7 415.7h1.7v1.7h-1.7zM469.6 417.7h1.7v1.7h-1.7zM470.2 416.1h1.7v1.7h-1.7zM466.7 417.7h1.7v1.7h-1.7zM470.3 417.7h1.7v1.7h-1.7zM468.2 417.2h1.7v1.7h-1.7zM473.5 415.3h1.7v1.7h-1.7zM462.9 411.8h1.7v1.7h-1.7zM464.7 417.7h1.7v1.7h-1.7zM463.8 417.1h1.7v1.7h-1.7zM465.9 416.2h1.7v1.7h-1.7zM479.1 417.6h1.7v1.7h-1.7zM466.8 415.4h1.7v1.7h-1.7zM471.0 416.6h1.7v1.7h-1.7zM474.2 417.2h1.7v1.7h-1.7zM462.2 416.0h1.7v1.7h-1.7zM470.6 417.5h1.7v1.7h-1.7zM464.7 416.2h1.7v1.7h-1.7zM471.0 411.8h1.7v1.7h-1.7zM472.9 417.6h1.7v1.7h-1.7zM464.2 416.6h1.7v1.7h-1.7zM465.3 404.7h1.7v1.7h-1.7zM465.6 407.1h1.7v1.7h-1.7zM468.5 417.2h1.7v1.7h-1.7zM470.5 415.6h1.7v1.7h-1.7zM466.6 416.0h1.7v1.7h-1.7zM467.6 415.7h1.7v1.7h-1.7zM461.7 417.1h1.7v1.7h-1.7zM463.8 415.8h1.7v1.7h-1.7zM470.6 417.3h1.7v1.7h-1.7zM472.1 417.5h1.7v1.7h-1.7zM465.3 417.1h1.7v1.7h-1.7zM463.7 416.0h1.7v1.7h-1.7zM463.0 417.2h1.7v1.7h-1.7zM464.7 416.2h1.7v1.7h-1.7zM466.0 415.4h1.7v1.7h-1.7zM462.2 415.3h1.7v1.7h-1.7zM478.6 417.1h1.7v1.7h-1.7zM465.6 417.5h1.7v1.7h-1.7zM467.2 417.1h1.7v1.7h-1.7zM462.4 417.5h1.7v1.7h-1.7zM465.3 417.0h1.7v1.7h-1.7zM471.2 417.4h1.7v1.7h-1.7zM470.5 416.1h1.7v1.7h-1.7zM462.1 416.9h1.7v1.7h-1.7zM472.1 416.9h1.7v1.7h-1.7zM465.6 417.5h1.7v1.7h-1.7zM463.1 417.1h1.7v1.7h-1.7zM462.3 413.4h1.7v1.7h-1.7zM465.3 416.8h1.7v1.7h-1.7zM464.7 409.4h1.7v1.7h-1.7zM465.4 416.0h1.7v1.7h-1.7zM467.9 417.7h1.7v1.7h-1.7zM464.1 416.8h1.7v1.7h-1.7zM462.7 416.7h1.7v1.7h-1.7zM469.2 417.2h1.7v1.7h-1.7zM461.8 416.6h1.7v1.7h-1.7zM462.9 416.7h1.7v1.7h-1.7zM465.6 415.1h1.7v1.7h-1.7zM464.7 417.7h1.7v1.7h-1.7zM465.7 414.2h1.7v1.7h-1.7zM463.3 412.7h1.7v1.7h-1.7zM467.0 410.6h1.7v1.7h-1.7zM464.2 413.2h1.7v1.7h-1.7zM462.5 413.7h1.7v1.7h-1.7zM467.4 414.2h1.7v1.7h-1.7zM462.3 415.9h1.7v1.7h-1.7zM470.7 417.4h1.7v1.7h-1.7zM479.8 417.6h1.7v1.7h-1.7zM468.7 415.6h1.7v1.7h-1.7zM462.4 417.7h1.7v1.7h-1.7zM463.9 409.5h1.7v1.7h-1.7zM471.7 417.6h1.7v1.7h-1.7zM466.8 417.7h1.7v1.7h-1.7zM470.8 414.5h1.7v1.7h-1.7zM464.3 413.8h1.7v1.7h-1.7zM467.9 416.3h1.7v1.7h-1.7zM463.3 415.1h1.7v1.7h-1.7zM463.4 417.3h1.7v1.7h-1.7zM467.1 415.6h1.7v1.7h-1.7zM472.4 416.6h1.7v1.7h-1.7zM474.7 416.8h1.7v1.7h-1.7zM463.6 416.6h1.7v1.7h-1.7zM462.9 417.6h1.7v1.7h-1.7zM464.1 415.4h1.7v1.7h-1.7zM469.2 417.4h1.7v1.7h-1.7zM462.0 417.7h1.7v1.7h-1.7zM465.2 416.7h1.7v1.7h-1.7zM467.3 417.1h1.7v1.7h-1.7zM473.9 417.6h1.7v1.7h-1.7zM470.5 417.5h1.7v1.7h-1.7zM469.7 417.2h1.7v1.7h-1.7zM463.6 413.7h1.7v1.7h-1.7zM464.0 414.0h1.7v1.7h-1.7zM474.0 416.9h1.7v1.7h-1.7zM464.8 413.8h1.7v1.7h-1.7zM463.3 409.1h1.7v1.7h-1.7zM462.3 413.7h1.7v1.7h-1.7zM472.0 415.4h1.7v1.7h-1.7zM464.8 417.6h1.7v1.7h-1.7zM465.2 415.0h1.7v1.7h-1.7zM468.5 417.4h1.7v1.7h-1.7zM470.1 416.2h1.7v1.7h-1.7zM462.7 415.2h1.7v1.7h-1.7zM469.1 412.7h1.7v1.7h-1.7zM466.0 417.6h1.7v1.7h-1.7zM473.1 417.6h1.7v1.7h-1.7zM462.6 412.6h1.7v1.7h-1.7zM464.4 412.3h1.7v1.7h-1.7zM463.7 415.0h1.7v1.7h-1.7zM472.4 413.6h1.7v1.7h-1.7zM468.4 414.0h1.7v1.7h-1.7zM461.8 416.8h1.7v1.7h-1.7zM467.3 416.7h1.7v1.7h-1.7zM465.1 413.5h1.7v1.7h-1.7zM461.8 414.6h1.7v1.7h-1.7zM466.1 407.9h1.7v1.7h-1.7zM468.9 415.9h1.7v1.7h-1.7zM466.9 415.1h1.7v1.7h-1.7zM466.9 417.4h1.7v1.7h-1.7zM466.0 415.6h1.7v1.7h-1.7zM467.6 417.7h1.7v1.7h-1.7zM472.4 416.2h1.7v1.7h-1.7zM469.2 414.9h1.7v1.7h-1.7zM473.6 417.3h1.7v1.7h-1.7zM465.6 417.2h1.7v1.7h-1.7zM464.5 408.2h1.7v1.7h-1.7zM462.2 417.7h1.7v1.7h-1.7zM463.1 415.5h1.7v1.7h-1.7zM470.2 415.0h1.7v1.7h-1.7zM464.1 413.1h1.7v1.7h-1.7zM473.9 417.2h1.7v1.7h-1.7zM475.5 417.3h1.7v1.7h-1.7zM464.7 417.2h1.7v1.7h-1.7zM465.9 417.0h1.7v1.7h-1.7zM466.8 417.1h1.7v1.7h-1.7zM463.1 417.4h1.7v1.7h-1.7zM475.6 417.3h1.7v1.7h-1.7zM468.1 416.6h1.7v1.7h-1.7zM475.3 417.7h1.7v1.7h-1.7zM476.4 416.7h1.7v1.7h-1.7zM467.2 416.4h1.7v1.7h-1.7zM463.2 416.1h1.7v1.7h-1.7zM464.2 414.7h1.7v1.7h-1.7zM470.4 417.6h1.7v1.7h-1.7zM463.2 416.0h1.7v1.7h-1.7zM467.1 416.6h1.7v1.7h-1.7zM464.5 417.6h1.7v1.7h-1.7zM464.0 417.6h1.7v1.7h-1.7zM472.5 416.8h1.7v1.7h-1.7zM476.0 417.6h1.7v1.7h-1.7zM467.9 417.1h1.7v1.7h-1.7zM466.9 414.4h1.7v1.7h-1.7zM462.1 417.6h1.7v1.7h-1.7zM467.6 417.2h1.7v1.7h-1.7zM468.7 415.5h1.7v1.7h-1.7zM465.4 416.2h1.7v1.7h-1.7zM462.3 415.7h1.7v1.7h-1.7zM468.2 417.1h1.7v1.7h-1.7zM463.2 416.4h1.7v1.7h-1.7zM461.8 417.4h1.7v1.7h-1.7zM470.2 414.2h1.7v1.7h-1.7zM462.8 412.0h1.7v1.7h-1.7zM467.6 417.1h1.7v1.7h-1.7zM466.4 413.7h1.7v1.7h-1.7zM466.7 417.6h1.7v1.7h-1.7zM466.3 414.1h1.7v1.7h-1.7zM462.1 417.2h1.7v1.7h-1.7zM477.6 416.5h1.7v1.7h-1.7zM464.5 416.3h1.7v1.7h-1.7zM470.0 415.3h1.7v1.7h-1.7zM478.3 415.9h1.7v1.7h-1.7zM464.5 416.6h1.7v1.7h-1.7zM468.8 413.8h1.7v1.7h-1.7zM463.4 412.6h1.7v1.7h-1.7zM467.1 417.0h1.7v1.7h-1.7zM465.6 415.3h1.7v1.7h-1.7zM466.6 416.2h1.7v1.7h-1.7zM470.0 416.1h1.7v1.7h-1.7zM469.6 415.9h1.7v1.7h-1.7zM462.0 413.9h1.7v1.7h-1.7zM463.6 410.9h1.7v1.7h-1.7zM466.2 410.2h1.7v1.7h-1.7zM471.1 417.5h1.7v1.7h-1.7zM470.6 417.5h1.7v1.7h-1.7zM463.4 411.8h1.7v1.7h-1.7zM470.1 417.1h1.7v1.7h-1.7zM473.7 417.7h1.7v1.7h-1.7zM467.0 417.7h1.7v1.7h-1.7zM469.9 415.4h1.7v1.7h-1.7zM461.8 411.9h1.7v1.7h-1.7zM462.1 411.9h1.7v1.7h-1.7zM462.8 410.3h1.7v1.7h-1.7zM470.0 417.7h1.7v1.7h-1.7zM467.7 412.4h1.7v1.7h-1.7zM476.4 416.9h1.7v1.7h-1.7zM474.1 417.4h1.7v1.7h-1.7zM465.3 413.1h1.7v1.7h-1.7zM469.2 416.5h1.7v1.7h-1.7zM466.4 417.4h1.7v1.7h-1.7zM462.9 417.0h1.7v1.7h-1.7zM464.3 410.6h1.7v1.7h-1.7zM469.1 417.2h1.7v1.7h-1.7zM463.2 410.2h1.7v1.7h-1.7zM473.0 417.5h1.7v1.7h-1.7zM463.8 417.6h1.7v1.7h-1.7zM468.6 417.6h1.7v1.7h-1.7zM466.6 417.2h1.7v1.7h-1.7zM463.3 413.3h1.7v1.7h-1.7zM470.6 416.2h1.7v1.7h-1.7zM462.7 413.9h1.7v1.7h-1.7zM478.0 417.7h1.7v1.7h-1.7zM470.5 415.8h1.7v1.7h-1.7zM465.1 417.0h1.7v1.7h-1.7zM462.2 417.3h1.7v1.7h-1.7zM464.6 413.6h1.7v1.7h-1.7zM465.8 414.3h1.7v1.7h-1.7zM470.5 415.8h1.7v1.7h-1.7zM461.7 415.1h1.7v1.7h-1.7zM468.5 417.3h1.7v1.7h-1.7zM465.3 416.3h1.7v1.7h-1.7zM466.2 416.9h1.7v1.7h-1.7zM462.3 415.2h1.7v1.7h-1.7zM464.9 416.5h1.7v1.7h-1.7zM466.7 416.3h1.7v1.7h-1.7zM463.7 411.9h1.7v1.7h-1.7zM462.6 415.4h1.7v1.7h-1.7zM467.7 415.7h1.7v1.7h-1.7zM465.1 417.7h1.7v1.7h-1.7zM463.4 416.7h1.7v1.7h-1.7zM471.6 416.9h1.7v1.7h-1.7zM470.6 416.2h1.7v1.7h-1.7zM462.6 415.4h1.7v1.7h-1.7zM461.9 416.3h1.7v1.7h-1.7zM462.4 416.2h1.7v1.7h-1.7zM465.7 416.5h1.7v1.7h-1.7zM464.1 417.6h1.7v1.7h-1.7zM469.6 417.2h1.7v1.7h-1.7zM464.7 415.8h1.7v1.7h-1.7zM467.5 414.5h1.7v1.7h-1.7zM465.4 416.3h1.7v1.7h-1.7zM472.2 416.4h1.7v1.7h-1.7zM467.2 417.4h1.7v1.7h-1.7zM467.2 414.4h1.7v1.7h-1.7zM462.7 416.8h1.7v1.7h-1.7zM472.0 415.2h1.7v1.7h-1.7zM461.8 414.3h1.7v1.7h-1.7zM466.2 414.9h1.7v1.7h-1.7zM469.1 416.4h1.7v1.7h-1.7zM462.9 416.0h1.7v1.7h-1.7zM465.5 415.5h1.7v1.7h-1.7zM469.8 413.9h1.7v1.7h-1.7zM465.4 417.5h1.7v1.7h-1.7zM462.8 411.6h1.7v1.7h-1.7zM472.7 414.2h1.7v1.7h-1.7zM467.8 416.5h1.7v1.7h-1.7zM468.8 416.8h1.7v1.7h-1.7zM466.7 414.4h1.7v1.7h-1.7zM465.4 415.9h1.7v1.7h-1.7zM469.4 415.8h1.7v1.7h-1.7zM465.0 413.4h1.7v1.7h-1.7zM466.0 417.1h1.7v1.7h-1.7zM471.7 417.7h1.7v1.7h-1.7zM463.8 415.9h1.7v1.7h-1.7zM463.7 417.5h1.7v1.7h-1.7zM473.2 417.2h1.7v1.7h-1.7zM463.6 412.3h1.7v1.7h-1.7zM466.8 417.1h1.7v1.7h-1.7zM467.9 417.5h1.7v1.7h-1.7zM464.8 417.4h1.7v1.7h-1.7zM463.3 416.8h1.7v1.7h-1.7zM464.3 417.1h1.7v1.7h-1.7zM465.0 409.4h1.7v1.7h-1.7zM472.6 410.1h1.7v1.7h-1.7zM467.7 415.7h1.7v1.7h-1.7zM462.0 411.2h1.7v1.7h-1.7zM462.2 407.8h1.7v1.7h-1.7zM464.7 416.2h1.7v1.7h-1.7zM465.7 416.9h1.7v1.7h-1.7zM462.7 417.5h1.7v1.7h-1.7zM468.6 413.9h1.7v1.7h-1.7zM463.8 414.6h1.7v1.7h-1.7zM465.4 417.4h1.7v1.7h-1.7zM467.6 417.5h1.7v1.7h-1.7zM466.3 411.1h1.7v1.7h-1.7zM462.5 411.2h1.7v1.7h-1.7zM463.9 415.1h1.7v1.7h-1.7zM467.0 417.4h1.7v1.7h-1.7zM472.4 417.3h1.7v1.7h-1.7zM467.6 412.1h1.7v1.7h-1.7zM472.9 416.9h1.7v1.7h-1.7zM471.3 416.8h1.7v1.7h-1.7zM478.2 417.3h1.7v1.7h-1.7zM465.6 417.5h1.7v1.7h-1.7zM464.4 413.0h1.7v1.7h-1.7zM466.2 416.1h1.7v1.7h-1.7zM462.4 417.0h1.7v1.7h-1.7zM462.8 414.7h1.7v1.7h-1.7zM462.7 417.5h1.7v1.7h-1.7zM462.4 414.4h1.7v1.7h-1.7zM464.8 417.2h1.7v1.7h-1.7zM463.4 415.5h1.7v1.7h-1.7zM462.3 416.5h1.7v1.7h-1.7zM465.5 416.9h1.7v1.7h-1.7zM464.2 412.6h1.7v1.7h-1.7zM469.2 416.7h1.7v1.7h-1.7zM464.7 416.9h1.7v1.7h-1.7zM465.7 417.7h1.7v1.7h-1.7zM468.8 417.7h1.7v1.7h-1.7zM463.2 416.9h1.7v1.7h-1.7zM468.3 415.5h1.7v1.7h-1.7zM469.9 416.4h1.7v1.7h-1.7zM466.5 415.1h1.7v1.7h-1.7zM469.8 415.9h1.7v1.7h-1.7zM465.4 415.9h1.7v1.7h-1.7zM473.4 417.0h1.7v1.7h-1.7zM467.8 417.7h1.7v1.7h-1.7zM462.0 409.1h1.7v1.7h-1.7zM469.9 416.9h1.7v1.7h-1.7zM476.3 415.9h1.7v1.7h-1.7zM464.3 414.1h1.7v1.7h-1.7zM468.6 415.4h1.7v1.7h-1.7zM464.2 412.0h1.7v1.7h-1.7zM472.2 416.8h1.7v1.7h-1.7zM464.5 415.8h1.7v1.7h-1.7zM462.9 416.9h1.7v1.7h-1.7zM467.2 409.5h1.7v1.7h-1.7zM466.5 417.3h1.7v1.7h-1.7zM462.4 412.9h1.7v1.7h-1.7zM464.5 417.5h1.7v1.7h-1.7zM466.9 415.5h1.7v1.7h-1.7zM461.9 414.0h1.7v1.7h-1.7zM471.7 416.6h1.7v1.7h-1.7zM473.9 416.0h1.7v1.7h-1.7zM464.0 417.3h1.7v1.7h-1.7zM476.5 415.1h1.7v1.7h-1.7zM475.1 416.6h1.7v1.7h-1.7zM463.9 412.4h1.7v1.7h-1.7zM465.1 413.6h1.7v1.7h-1.7zM466.4 414.2h1.7v1.7h-1.7zM476.3 416.0h1.7v1.7h-1.7zM464.1 417.3h1.7v1.7h-1.7zM463.5 413.4h1.7v1.7h-1.7zM464.7 413.9h1.7v1.7h-1.7zM467.4 414.3h1.7v1.7h-1.7zM467.5 415.4h1.7v1.7h-1.7zM465.9 405.6h1.7v1.7h-1.7zM466.1 417.1h1.7v1.7h-1.7zM466.3 417.3h1.7v1.7h-1.7zM470.2 417.4h1.7v1.7h-1.7zM468.8 415.4h1.7v1.7h-1.7zM468.9 416.5h1.7v1.7h-1.7zM467.2 416.7h1.7v1.7h-1.7zM470.3 416.2h1.7v1.7h-1.7zM462.5 411.5h1.7v1.7h-1.7zM471.6 417.5h1.7v1.7h-1.7zM463.4 412.5h1.7v1.7h-1.7zM477.1 415.7h1.7v1.7h-1.7zM470.9 417.6h1.7v1.7h-1.7zM463.8 414.8h1.7v1.7h-1.7zM462.4 415.8h1.7v1.7h-1.7zM466.1 415.8h1.7v1.7h-1.7zM466.0 417.5h1.7v1.7h-1.7zM464.7 417.1h1.7v1.7h-1.7zM472.6 417.6h1.7v1.7h-1.7zM473.5 415.2h1.7v1.7h-1.7zM477.8 416.3h1.7v1.7h-1.7zM461.9 417.2h1.7v1.7h-1.7zM462.5 415.3h1.7v1.7h-1.7zM474.7 417.7h1.7v1.7h-1.7zM464.3 415.3h1.7v1.7h-1.7zM472.2 417.6h1.7v1.7h-1.7zM466.8 416.4h1.7v1.7h-1.7zM464.5 413.8h1.7v1.7h-1.7zM471.5 417.3h1.7v1.7h-1.7zM467.3 416.4h1.7v1.7h-1.7zM468.3 416.1h1.7v1.7h-1.7zM468.1 415.1h1.7v1.7h-1.7zM464.0 415.1h1.7v1.7h-1.7zM477.5 416.6h1.7v1.7h-1.7zM464.1 417.5h1.7v1.7h-1.7zM469.9 415.4h1.7v1.7h-1.7zM461.8 410.6h1.7v1.7h-1.7zM462.0 411.8h1.7v1.7h-1.7zM462.6 407.2h1.7v1.7h-1.7zM466.6 416.7h1.7v1.7h-1.7zM469.7 417.0h1.7v1.7h-1.7zM468.6 413.7h1.7v1.7h-1.7zM469.8 417.0h1.7v1.7h-1.7zM469.3 410.8h1.7v1.7h-1.7zM461.9 415.6h1.7v1.7h-1.7zM477.7 417.7h1.7v1.7h-1.7zM470.7 415.7h1.7v1.7h-1.7zM467.9 415.9h1.7v1.7h-1.7zM467.0 417.6h1.7v1.7h-1.7zM471.1 417.2h1.7v1.7h-1.7zM466.7 416.1h1.7v1.7h-1.7zM464.8 417.0h1.7v1.7h-1.7zM464.1 410.5h1.7v1.7h-1.7zM467.4 414.5h1.7v1.7h-1.7zM468.3 414.5h1.7v1.7h-1.7zM461.9 415.5h1.7v1.7h-1.7zM468.7 417.1h1.7v1.7h-1.7zM476.3 417.7h1.7v1.7h-1.7zM467.9 416.9h1.7v1.7h-1.7zM465.3 412.1h1.7v1.7h-1.7zM466.5 417.7h1.7v1.7h-1.7zM466.1 415.5h1.7v1.7h-1.7zM467.8 414.8h1.7v1.7h-1.7zM472.0 417.5h1.7v1.7h-1.7zM469.5 410.1h1.7v1.7h-1.7zM469.2 417.0h1.7v1.7h-1.7zM463.9 417.7h1.7v1.7h-1.7zM468.1 411.3h1.7v1.7h-1.7zM466.3 398.0h1.7v1.7h-1.7zM461.8 415.0h1.7v1.7h-1.7zM463.5 417.1h1.7v1.7h-1.7zM463.6 417.1h1.7v1.7h-1.7zM472.6 417.3h1.7v1.7h-1.7zM467.8 417.1h1.7v1.7h-1.7zM461.9 417.4h1.7v1.7h-1.7zM467.5 417.6h1.7v1.7h-1.7zM465.8 411.5h1.7v1.7h-1.7zM462.0 417.6h1.7v1.7h-1.7zM468.3 414.7h1.7v1.7h-1.7zM462.7 416.4h1.7v1.7h-1.7zM464.2 411.6h1.7v1.7h-1.7zM468.5 416.2h1.7v1.7h-1.7zM465.5 417.6h1.7v1.7h-1.7zM471.3 417.4h1.7v1.7h-1.7zM468.4 414.5h1.7v1.7h-1.7zM466.0 417.0h1.7v1.7h-1.7zM468.4 416.3h1.7v1.7h-1.7zM461.7 416.9h1.7v1.7h-1.7zM470.4 417.7h1.7v1.7h-1.7zM471.0 417.0h1.7v1.7h-1.7zM469.7 416.6h1.7v1.7h-1.7zM464.5 417.2h1.7v1.7h-1.7zM466.8 411.4h1.7v1.7h-1.7zM461.8 408.3h1.7v1.7h-1.7zM474.6 414.7h1.7v1.7h-1.7zM462.2 407.3h1.7v1.7h-1.7zM481.1 414.3h1.7v1.7h-1.7zM468.8 410.9h1.7v1.7h-1.7zM469.4 412.1h1.7v1.7h-1.7zM462.1 406.1h1.7v1.7h-1.7zM468.0 412.4h1.7v1.7h-1.7zM466.1 411.0h1.7v1.7h-1.7zM462.1 405.3h1.7v1.7h-1.7zM466.7 410.6h1.7v1.7h-1.7zM462.6 407.4h1.7v1.7h-1.7zM466.4 409.3h1.7v1.7h-1.7zM472.9 413.8h1.7v1.7h-1.7zM467.4 412.3h1.7v1.7h-1.7zM469.9 414.7h1.7v1.7h-1.7zM469.1 410.9h1.7v1.7h-1.7zM462.6 407.6h1.7v1.7h-1.7zM471.5 411.5h1.7v1.7h-1.7zM464.0 408.2h1.7v1.7h-1.7zM466.8 409.9h1.7v1.7h-1.7zM478.2 414.0h1.7v1.7h-1.7zM467.8 411.5h1.7v1.7h-1.7zM470.3 412.6h1.7v1.7h-1.7zM468.3 413.5h1.7v1.7h-1.7zM475.9 413.8h1.7v1.7h-1.7zM466.2 409.9h1.7v1.7h-1.7zM468.9 412.9h1.7v1.7h-1.7zM463.7 406.6h1.7v1.7h-1.7zM463.3 411.6h1.7v1.7h-1.7zM472.7 413.0h1.7v1.7h-1.7zM473.0 413.3h1.7v1.7h-1.7zM465.7 412.8h1.7v1.7h-1.7zM471.2 412.3h1.7v1.7h-1.7zM462.9 409.1h1.7v1.7h-1.7zM467.0 413.2h1.7v1.7h-1.7zM467.8 413.6h1.7v1.7h-1.7zM472.4 413.4h1.7v1.7h-1.7zM465.3 407.5h1.7v1.7h-1.7zM465.1 411.3h1.7v1.7h-1.7zM465.0 408.2h1.7v1.7h-1.7zM462.0 410.4h1.7v1.7h-1.7zM467.1 413.3h1.7v1.7h-1.7zM468.3 410.0h1.7v1.7h-1.7zM463.6 412.5h1.7v1.7h-1.7zM465.4 411.3h1.7v1.7h-1.7zM470.7 412.6h1.7v1.7h-1.7zM463.9 412.0h1.7v1.7h-1.7zM478.4 415.3h1.7v1.7h-1.7zM461.9 406.4h1.7v1.7h-1.7zM470.1 411.6h1.7v1.7h-1.7zM468.2 413.0h1.7v1.7h-1.7zM463.9 406.0h1.7v1.7h-1.7zM471.0 411.2h1.7v1.7h-1.7zM463.0 410.2h1.7v1.7h-1.7zM472.9 414.6h1.7v1.7h-1.7zM466.8 411.5h1.7v1.7h-1.7zM469.1 414.0h1.7v1.7h-1.7zM463.6 406.8h1.7v1.7h-1.7zM464.4 411.2h1.7v1.7h-1.7zM461.9 409.2h1.7v1.7h-1.7zM464.0 406.2h1.7v1.7h-1.7zM466.3 409.1h1.7v1.7h-1.7zM467.1 412.5h1.7v1.7h-1.7zM462.6 405.9h1.7v1.7h-1.7zM462.8 406.6h1.7v1.7h-1.7zM465.1 409.4h1.7v1.7h-1.7zM475.5 416.1h1.7v1.7h-1.7zM466.3 410.7h1.7v1.7h-1.7zM468.5 388.6h1.7v1.7h-1.7zM466.5 392.3h1.7v1.7h-1.7zM465.6 397.3h1.7v1.7h-1.7zM468.1 397.6h1.7v1.7h-1.7zM466.6 401.4h1.7v1.7h-1.7zM464.6 403.9h1.7v1.7h-1.7zM472.6 404.3h1.7v1.7h-1.7zM479.6 405.1h1.7v1.7h-1.7zM476.3 407.2h1.7v1.7h-1.7zM475.1 409.6h1.7v1.7h-1.7zM477.1 411.1h1.7v1.7h-1.7zM463.1 402.1h1.7v1.7h-1.7zM470.1 406.1h1.7v1.7h-1.7zM481.1 413.1h1.7v1.7h-1.7zM482.1 415.6h1.7v1.7h-1.7z"/>
<g stroke="#8c8c8c" stroke-width="1.1" fill="none">
<line x1="400.60" y1="320.00" x2="400.60" y2="428.00"/>
<line x1="400.60" y1="428.00" x2="517.60" y2="428.00"/>
<line x1="399.10" y1="428.00" x2="400.60" y2="428.00"/>
<line x1="399.10" y1="419.69" x2="400.60" y2="419.69"/>
<line x1="399.10" y1="411.38" x2="400.60" y2="411.38"/>
<line x1="399.10" y1="403.08" x2="400.60" y2="403.08"/>
<line x1="399.10" y1="394.77" x2="400.60" y2="394.77"/>
<line x1="399.10" y1="386.46" x2="400.60" y2="386.46"/>
<line x1="399.10" y1="378.15" x2="400.60" y2="378.15"/>
<line x1="399.10" y1="369.85" x2="400.60" y2="369.85"/>
<line x1="399.10" y1="361.54" x2="400.60" y2="361.54"/>
<line x1="399.10" y1="353.23" x2="400.60" y2="353.23"/>
<line x1="399.10" y1="344.92" x2="400.60" y2="344.92"/>
<line x1="399.10" y1="336.62" x2="400.60" y2="336.62"/>
<line x1="399.10" y1="328.31" x2="400.60" y2="328.31"/>
<line x1="399.10" y1="320.00" x2="400.60" y2="320.00"/>
<line x1="400.60" y1="428.00" x2="400.60" y2="429.50"/>
<line x1="410.35" y1="428.00" x2="410.35" y2="429.50"/>
<line x1="420.10" y1="428.00" x2="420.10" y2="429.50"/>
<line x1="429.85" y1="428.00" x2="429.85" y2="429.50"/>
<line x1="439.60" y1="428.00" x2="439.60" y2="429.50"/>
<line x1="449.35" y1="428.00" x2="449.35" y2="429.50"/>
<line x1="459.10" y1="428.00" x2="459.10" y2="429.50"/>
<line x1="468.85" y1="428.00" x2="468.85" y2="429.50"/>
<line x1="478.60" y1="428.00" x2="478.60" y2="429.50"/>
<line x1="488.35" y1="428.00" x2="488.35" y2="429.50"/>
<line x1="498.10" y1="428.00" x2="498.10" y2="429.50"/>
<line x1="507.85" y1="428.00" x2="507.85" y2="429.50"/>
<line x1="517.60" y1="428.00" x2="517.60" y2="429.50"/>
</g>
<g font-family='"Liberation Sans", sans-serif' font-size="4.3" fill="#2a2a2a" stroke="#2a2a2a" stroke-width="0.3">
<text x="398.00" y="429.55" text-anchor="end">-10</text>
<text x="398.00" y="421.24" text-anchor="end">0</text>
<text x="398.00" y="412.93" text-anchor="end">10</text>
<text x="398.00" y="404.63" text-anchor="end">20</text>
<text x="398.00" y="396.32" text-anchor="end">30</text>
<text x="398.00" y="388.01" text-anchor="end">40</text>
<text x="398.00" y="379.70" text-anchor="end">50</text>
<text x="398.00" y="371.40" text-anchor="end">60</text>
<text x="398.00" y="363.09" text-anchor="end">70</text>
<text x="398.00" y="354.78" text-anchor="end">80</text>
<text x="398.00" y="346.47" text-anchor="end">90</text>
<text x="398.00" y="338.17" text-anchor="end">100</text>
<text x="398.00" y="329.86" text-anchor="end">110</text>
<text x="398.00" y="321.55" text-anchor="end">120</text>
<text x="400.60" y="435.20" text-anchor="middle">-30</text>
<text x="410.35" y="435.20" text-anchor="middle">-25</text>
<text x="420.10" y="435.20" text-anchor="middle">-20</text>
<text x="429.85" y="435.20" text-anchor="middle">-15</text>
<text x="439.60" y="435.20" text-anchor="middle">-10</text>
<text x="449.35" y="435.20" text-anchor="middle">-5</text>
<text x="459.10" y="435.20" text-anchor="middle">0</text>
<text x="468.85" y="435.20" text-anchor="middle">5</text>
<text x="478.60" y="435.20" text-anchor="middle">10</text>
<text x="488.35" y="435.20" text-anchor="middle">15</text>
<text x="498.10" y="435.20" text-anchor="middle">20</text>
<text x="507.85" y="435.20" text-anchor="middle">25</text>
<text x="517.60" y="435.20" text-anchor="middle">30</text>
</g>
<text x="460" y="441.60" text-anchor="middle" font-family='"Liberation Sans", sans-serif' font-size="4.9" fill="#2a2a2a" stroke="#2a2a2a" stroke-width="0.2">log2(Late_117/Late_116)</text>
<text transform="translate(388.3,371.3) rotate(-90)" text-anchor="middle" font-family='"Liberation Sans", sans-serif' font-size="5.1" fill="#2a2a2a" stroke="#2a2a2a" stroke-width="0.2">-log10(Qvalue)</text>
<rect x="522.10" y="319.50" width="2.8" height="2.8" rx="0.8" fill="#dc1c5a"/>
<text x="527.40" y="322.40" font-family='"Liberation Sans", sans-serif' font-size="4.1" fill="#2a2a2a" stroke="#2a2a2a" stroke-width="0.2">Up</text>
<rect x="522.10" y="324.80" width="2.8" height="2.8" rx="0.8" fill="#96aac8"/>
<text x="527.40" y="327.70" font-family='"Liberation Sans", sans-serif' font-size="4.1" fill="#2a2a2a" stroke="#2a2a2a" stroke-width="0.2">no-DEGS</text>
<rect x="522.10" y="330.10" width="2.8" height="2.8" rx="0.8" fill="#62bf58"/>
<text x="527.40" y="333.00" font-family='"Liberation Sans", sans-serif' font-size="4.1" fill="#2a2a2a" stroke="#2a2a2a" stroke-width="0.2">Down</text>
</svg>
</body></html>
